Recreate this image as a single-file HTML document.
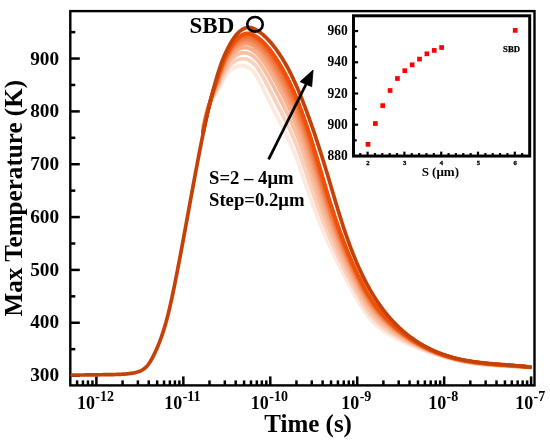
<!DOCTYPE html>
<html><head><meta charset="utf-8"><style>
html,body{margin:0;padding:0;background:#fff;}
body{width:550px;height:442px;overflow:hidden;}
svg{display:block;font-family:"Liberation Serif","Times New Roman",serif;font-weight:bold;}
</style></head><body>
<svg width="550" height="442" viewBox="0 0 550 442">
<rect width="550" height="442" fill="#fff"/>
<g stroke="#000" stroke-width="2.5">
<line x1="70.3" y1="375.59" x2="79.8" y2="375.59"/>
<line x1="70.3" y1="349.17" x2="75.3" y2="349.17"/>
<line x1="70.3" y1="322.75" x2="79.8" y2="322.75"/>
<line x1="70.3" y1="296.33" x2="75.3" y2="296.33"/>
<line x1="70.3" y1="269.91" x2="79.8" y2="269.91"/>
<line x1="70.3" y1="243.49" x2="75.3" y2="243.49"/>
<line x1="70.3" y1="217.07" x2="79.8" y2="217.07"/>
<line x1="70.3" y1="190.65" x2="75.3" y2="190.65"/>
<line x1="70.3" y1="164.23" x2="79.8" y2="164.23"/>
<line x1="70.3" y1="137.81" x2="75.3" y2="137.81"/>
<line x1="70.3" y1="111.39" x2="79.8" y2="111.39"/>
<line x1="70.3" y1="84.97" x2="75.3" y2="84.97"/>
<line x1="70.3" y1="58.55" x2="79.8" y2="58.55"/>
<line x1="70.3" y1="32.13" x2="75.3" y2="32.13"/>
<line x1="77.11" y1="385.4" x2="77.11" y2="380.4"/>
<line x1="82.93" y1="385.4" x2="82.93" y2="380.4"/>
<line x1="87.97" y1="385.4" x2="87.97" y2="380.4"/>
<line x1="92.42" y1="385.4" x2="92.42" y2="380.4"/>
<line x1="96.40" y1="385.4" x2="96.40" y2="376.4"/>
<line x1="122.57" y1="385.4" x2="122.57" y2="380.4"/>
<line x1="137.88" y1="385.4" x2="137.88" y2="380.4"/>
<line x1="148.74" y1="385.4" x2="148.74" y2="380.4"/>
<line x1="157.17" y1="385.4" x2="157.17" y2="380.4"/>
<line x1="164.05" y1="385.4" x2="164.05" y2="380.4"/>
<line x1="169.87" y1="385.4" x2="169.87" y2="380.4"/>
<line x1="174.91" y1="385.4" x2="174.91" y2="380.4"/>
<line x1="179.36" y1="385.4" x2="179.36" y2="380.4"/>
<line x1="183.34" y1="385.4" x2="183.34" y2="376.4"/>
<line x1="209.51" y1="385.4" x2="209.51" y2="380.4"/>
<line x1="224.82" y1="385.4" x2="224.82" y2="380.4"/>
<line x1="235.68" y1="385.4" x2="235.68" y2="380.4"/>
<line x1="244.11" y1="385.4" x2="244.11" y2="380.4"/>
<line x1="250.99" y1="385.4" x2="250.99" y2="380.4"/>
<line x1="256.81" y1="385.4" x2="256.81" y2="380.4"/>
<line x1="261.85" y1="385.4" x2="261.85" y2="380.4"/>
<line x1="266.30" y1="385.4" x2="266.30" y2="380.4"/>
<line x1="270.28" y1="385.4" x2="270.28" y2="376.4"/>
<line x1="296.45" y1="385.4" x2="296.45" y2="380.4"/>
<line x1="311.76" y1="385.4" x2="311.76" y2="380.4"/>
<line x1="322.62" y1="385.4" x2="322.62" y2="380.4"/>
<line x1="331.05" y1="385.4" x2="331.05" y2="380.4"/>
<line x1="337.93" y1="385.4" x2="337.93" y2="380.4"/>
<line x1="343.75" y1="385.4" x2="343.75" y2="380.4"/>
<line x1="348.79" y1="385.4" x2="348.79" y2="380.4"/>
<line x1="353.24" y1="385.4" x2="353.24" y2="380.4"/>
<line x1="357.22" y1="385.4" x2="357.22" y2="376.4"/>
<line x1="383.39" y1="385.4" x2="383.39" y2="380.4"/>
<line x1="398.70" y1="385.4" x2="398.70" y2="380.4"/>
<line x1="409.56" y1="385.4" x2="409.56" y2="380.4"/>
<line x1="417.99" y1="385.4" x2="417.99" y2="380.4"/>
<line x1="424.87" y1="385.4" x2="424.87" y2="380.4"/>
<line x1="430.69" y1="385.4" x2="430.69" y2="380.4"/>
<line x1="435.73" y1="385.4" x2="435.73" y2="380.4"/>
<line x1="440.18" y1="385.4" x2="440.18" y2="380.4"/>
<line x1="444.16" y1="385.4" x2="444.16" y2="376.4"/>
<line x1="470.33" y1="385.4" x2="470.33" y2="380.4"/>
<line x1="485.64" y1="385.4" x2="485.64" y2="380.4"/>
<line x1="496.50" y1="385.4" x2="496.50" y2="380.4"/>
<line x1="504.93" y1="385.4" x2="504.93" y2="380.4"/>
<line x1="511.81" y1="385.4" x2="511.81" y2="380.4"/>
<line x1="517.63" y1="385.4" x2="517.63" y2="380.4"/>
<line x1="522.67" y1="385.4" x2="522.67" y2="380.4"/>
<line x1="527.12" y1="385.4" x2="527.12" y2="380.4"/>
<line x1="531.10" y1="385.4" x2="531.10" y2="376.4"/>
</g>
<rect x="70.3" y="11.1" width="464.2" height="374.29999999999995" fill="none" stroke="#000" stroke-width="2.4"/>
<g fill="none" stroke-width="3.7" stroke-linejoin="round" stroke-linecap="round">
<path d="M203.00 125.86 L203.05 125.58 L203.10 125.29 L203.15 125.01 L203.20 124.72 L203.25 124.44 L203.30 124.16 L203.36 123.87 L203.41 123.59 L203.47 123.30 L203.52 123.02 L203.58 122.74 L203.63 122.45 L203.69 122.17 L203.75 121.89 L203.81 121.60 L203.87 121.32 L203.93 121.04 L203.99 120.76 L204.05 120.47 L204.11 120.19 L204.18 119.91 L204.24 119.63 L204.31 119.35 L204.37 119.06 L204.44 118.78 L204.51 118.50 L204.57 118.22 L204.64 117.94 L204.72 117.66 L204.79 117.38 L204.86 117.10 L204.93 116.82 L205.01 116.54 L205.08 116.26 L205.16 115.98 L205.24 115.71 L205.31 115.43 L205.39 115.15 L205.47 114.87 L205.56 114.59 L205.64 114.32 L205.72 114.04 L205.81 113.76 L205.89 113.49 L205.98 113.21 L206.07 112.94 L206.16 112.66 L206.25 112.39 L206.34 112.11 L206.43 111.84 L206.52 111.57 L206.62 111.29 L206.71 111.02 L206.81 110.75 L206.91 110.48 L207.01 110.20 L207.11 109.93 L207.21 109.66 L207.31 109.39 L207.42 109.12 L207.52 108.85 L207.63 108.59 L207.74 108.32 L207.85 108.05 L207.96 107.78 L208.07 107.52 L208.19 107.25 L208.30 106.99 L208.42 106.72 L208.53 106.46 L208.65 106.19 L208.77 105.93 L208.89 105.67 L209.02 105.41 L209.14 105.15 L209.27 104.89 L209.39 104.63 L209.52 104.37 L209.65 104.11 L209.78 103.85 L209.91 103.59 L210.05 103.34 L210.18 103.08 L210.32 102.83 L210.46 102.57 L210.60 102.32 L210.74 102.07 L210.88 101.82 L211.02 101.57 L211.17 101.32 L211.31 101.07 L211.46 100.82 L211.61 100.57 L211.76 100.32 L211.91 100.08 L212.07 99.83 L212.22 99.59 L212.38 99.35 L212.54 99.10 L212.69 98.86 L212.85 98.62 L213.01 98.38 L213.17 98.14 L213.33 97.90 L213.50 97.66 L213.66 97.42 L213.82 97.18 L213.98 96.94 L214.15 96.70 L214.31 96.46 L214.47 96.23 L214.64 95.99 L214.80 95.75 L214.97 95.51 L215.13 95.27 L215.29 95.03 L215.45 94.80 L215.62 94.56 L215.78 94.32 L215.94 94.08 L216.10 93.84 L216.26 93.60 L216.42 93.36 L216.58 93.11 L216.74 92.87 L216.89 92.63 L217.05 92.39 L217.20 92.14 L217.36 91.90 L217.51 91.65 L217.66 91.40 L217.81 91.16 L217.96 90.91 L218.10 90.66 L218.25 90.41 L218.39 90.16 L218.53 89.90 L218.67 89.65 L218.81 89.40 L218.94 89.14 L219.08 88.89 L219.21 88.63 L219.35 88.37 L219.48 88.12 L219.61 87.86 L219.74 87.60 L219.87 87.34 L220.00 87.08 L220.13 86.82 L220.25 86.57 L220.38 86.31 L220.51 86.04 L220.63 85.78 L220.76 85.52 L220.88 85.26 L221.00 85.00 L221.13 84.74 L221.25 84.48 L221.38 84.22 L221.50 83.96 L221.62 83.70 L221.75 83.43 L221.87 83.17 L221.99 82.91 L222.12 82.65 L222.24 82.39 L222.37 82.13 L222.49 81.87 L222.62 81.61 L222.74 81.35 L222.87 81.09 L223.00 80.83 L223.12 80.57 L223.25 80.31 L223.38 80.05 L223.51 79.79 L223.64 79.54 L223.78 79.28 L223.91 79.02 L224.05 78.77 L224.18 78.51 L224.32 78.26 L224.46 78.01 L224.60 77.75 L224.74 77.50 L224.89 77.25 L225.03 77.00 L225.18 76.75 L225.33 76.50 L225.48 76.26 L225.63 76.01 L225.78 75.77 L225.94 75.52 L226.10 75.28 L226.26 75.04 L226.42 74.80 L226.59 74.57 L226.76 74.33 L226.93 74.10 L227.10 73.87 L227.27 73.64 L227.45 73.41 L227.63 73.18 L227.81 72.96 L228.00 72.73 L228.19 72.51 L228.38 72.30 L228.57 72.08 L228.76 71.87 L228.96 71.66 L229.16 71.45 L229.37 71.25 L229.57 71.04 L229.78 70.84 L229.99 70.65 L230.21 70.45 L230.42 70.26 L230.64 70.07 L230.86 69.89 L231.09 69.70 L231.31 69.52 L231.54 69.35 L231.77 69.17 L232.01 69.00 L232.24 68.83 L232.48 68.67 L232.72 68.51 L232.96 68.35 L233.21 68.20 L233.45 68.05 L233.70 67.90 L233.96 67.76 L234.21 67.62 L234.46 67.49 L234.72 67.35 L234.98 67.23 L235.24 67.10 L235.51 66.99 L235.77 66.87 L236.04 66.76 L236.31 66.66 L236.58 66.56 L236.85 66.46 L237.13 66.37 L237.40 66.29 L237.68 66.21 L237.96 66.13 L238.24 66.06 L238.52 66.00 L238.81 65.94 L239.09 65.89 L239.38 65.84 L239.66 65.80 L239.95 65.76 L240.24 65.74 L240.52 65.71 L240.81 65.70 L241.10 65.69 L241.39 65.68 L242.28 65.71 L243.16 65.79 L244.03 65.93 L244.89 66.13 L245.74 66.37 L246.58 66.67 L247.39 67.01 L248.19 67.41 L248.96 67.84 L249.70 68.32 L250.42 68.84 L251.10 69.40 L251.76 70.00 L252.38 70.62 L252.99 71.27 L253.56 71.94 L254.12 72.63 L254.65 73.34 L255.16 74.06 L255.65 74.80 L256.13 75.54 L256.60 76.29 L257.05 77.05 L257.49 77.82 L257.92 78.60 L258.35 79.37 L258.76 80.15 L259.18 80.93 L259.59 81.72 L260.00 82.50 L260.40 83.29 L260.80 84.08 L261.20 84.87 L261.59 85.66 L261.98 86.46 L262.37 87.25 L262.76 88.05 L263.15 88.85 L263.53 89.64 L263.91 90.44 L264.29 91.24 L264.67 92.04 L265.05 92.84 L265.43 93.64 L265.81 94.44 L266.19 95.24 L266.57 96.04 L266.95 96.84 L267.34 97.63 L267.72 98.43 L268.10 99.23 L268.49 100.02 L268.88 100.82 L269.27 101.61 L269.67 102.40 L270.06 103.20 L270.46 103.99 L270.86 104.78 L271.26 105.57 L271.66 106.36 L272.06 107.15 L272.46 107.93 L272.87 108.72 L273.27 109.51 L273.68 110.29 L274.08 111.08 L274.49 111.87 L274.90 112.65 L275.31 113.44 L275.72 114.22 L276.13 115.01 L276.54 115.79 L276.94 116.58 L277.35 117.36 L277.76 118.15 L278.17 118.93 L278.58 119.72 L278.99 120.50 L279.40 121.29 L279.81 122.07 L280.22 122.86 L280.62 123.64 L281.03 124.43 L281.44 125.21 L281.84 126.00 L282.25 126.79 L282.65 127.58 L283.05 128.37 L283.45 129.15 L283.85 129.94 L284.25 130.73 L284.65 131.52 L285.05 132.32 L285.44 133.11 L285.83 133.90 L286.22 134.70 L286.61 135.49 L287.00 136.29 L287.39 137.08 L287.77 137.88 L288.15 138.68 L288.53 139.48 L288.91 140.28 L289.28 141.08 L289.66 141.88 L290.03 142.69 L290.39 143.49 L290.76 144.30 L291.12 145.11 L291.48 145.92 L291.83 146.73 L292.19 147.54 L292.54 148.35 L292.88 149.17 L293.23 149.98 L293.56 150.80 L293.90 151.62 L294.23 152.44 L294.56 153.26 L294.89 154.08 L295.21 154.91 L295.53 155.73 L295.85 156.56 L296.16 157.39 L296.47 158.22 L296.78 159.05 L297.09 159.88 L297.39 160.71 L297.69 161.54 L297.99 162.37 L298.29 163.21 L298.58 164.04 L298.88 164.88 L299.17 165.71 L299.46 166.55 L299.75 167.38 L300.04 168.22 L300.33 169.06 L300.61 169.89 L300.90 170.73 L301.18 171.57 L301.46 172.41 L301.75 173.25 L302.03 174.09 L302.31 174.93 L302.60 175.76 L302.88 176.60 L303.16 177.44 L303.44 178.28 L303.73 179.12 L304.01 179.96 L304.29 180.80 L304.58 181.63 L304.87 182.47 L305.15 183.31 L305.44 184.15 L305.73 184.98 L306.01 185.82 L306.30 186.66 L306.59 187.49 L306.88 188.33 L307.17 189.16 L307.47 190.00 L307.76 190.84 L308.05 191.67 L308.35 192.51 L308.64 193.34 L308.94 194.17 L309.23 195.01 L309.53 195.84 L309.83 196.67 L310.13 197.51 L310.43 198.34 L310.73 199.17 L311.03 200.00 L311.33 200.84 L311.64 201.67 L311.94 202.50 L312.25 203.33 L312.55 204.16 L312.86 204.99 L313.17 205.82 L313.48 206.65 L313.79 207.48 L314.10 208.31 L314.41 209.14 L314.72 209.96 L315.04 210.79 L315.35 211.62 L315.67 212.44 L315.99 213.27 L316.31 214.10 L316.62 214.92 L316.94 215.75 L317.27 216.57 L317.59 217.40 L317.91 218.22 L318.24 219.04 L318.56 219.87 L318.89 220.69 L319.22 221.51 L319.55 222.33 L319.88 223.15 L320.21 223.97 L320.54 224.79 L320.88 225.61 L321.21 226.43 L321.55 227.25 L321.89 228.07 L322.22 228.89 L322.56 229.70 L322.91 230.52 L323.25 231.34 L323.59 232.15 L323.94 232.97 L324.28 233.78 L324.63 234.60 L324.98 235.41 L325.33 236.22 L325.68 237.04 L326.03 237.85 L326.39 238.66 L326.74 239.47 L327.10 240.28 L327.46 241.09 L327.82 241.90 L328.18 242.71 L328.54 243.51 L328.90 244.32 L329.26 245.13 L329.63 245.94 L329.99 246.74 L330.36 247.55 L330.73 248.35 L331.10 249.16 L331.47 249.96 L331.84 250.76 L332.21 251.57 L332.59 252.37 L332.96 253.17 L333.34 253.97 L333.72 254.77 L334.10 255.57 L334.48 256.37 L334.86 257.17 L335.24 257.97 L335.62 258.76 L336.01 259.56 L336.40 260.36 L336.78 261.15 L337.17 261.95 L337.56 262.74 L337.95 263.54 L338.34 264.33 L338.73 265.13 L339.13 265.92 L339.52 266.71 L339.92 267.50 L340.32 268.29 L340.71 269.08 L341.11 269.87 L341.51 270.66 L341.92 271.45 L342.32 272.24 L342.72 273.03 L343.13 273.81 L343.53 274.60 L343.94 275.39 L344.35 276.17 L344.76 276.96 L345.17 277.74 L345.58 278.52 L345.99 279.31 L346.41 280.09 L346.82 280.87 L347.24 281.65 L347.65 282.43 L348.07 283.21 L348.49 283.99 L348.91 284.77 L349.33 285.55 L349.75 286.33 L350.18 287.11 L350.60 287.88 L351.02 288.66 L351.45 289.44 L351.88 290.21 L352.31 290.99 L352.73 291.76 L353.17 292.53 L353.60 293.31 L354.03 294.08 L354.46 294.85 L354.90 295.62 L355.33 296.39 L355.77 297.16 L356.20 297.93 L356.64 298.70 L357.08 299.47 L357.52 300.24 L357.96 301.01 L358.41 301.77 L358.85 302.54 L359.30 303.30 L359.74 304.07 L360.19 304.83 L360.65 305.59 L361.11 306.34 L361.57 307.10 L362.03 307.85 L362.50 308.60 L362.98 309.35 L363.45 310.10 L363.94 310.84 L364.43 311.57 L364.93 312.31 L365.43 313.03 L365.94 313.76 L366.46 314.48 L366.98 315.19 L367.51 315.90 L368.05 316.60 L368.60 317.29 L369.16 317.98 L369.72 318.66 L370.30 319.33 L370.89 320.00 L371.48 320.65 L372.08 321.30 L372.70 321.94 L373.32 322.57 L373.95 323.19 L374.59 323.80 L375.24 324.40 L375.89 325.00 L376.55 325.59 L377.22 326.17 L377.90 326.74 L378.58 327.30 L379.27 327.85 L379.97 328.40 L380.67 328.94 L381.38 329.47 L382.09 329.99 L382.81 330.51 L383.53 331.02 L384.26 331.52 L385.00 332.01 L385.74 332.50 L386.48 332.98 L387.23 333.46 L387.98 333.92 L388.73 334.39 L389.49 334.84 L390.26 335.29 L391.02 335.73 L391.79 336.17 L392.56 336.60 L393.34 337.03 L394.12 337.45 L394.90 337.87 L395.68 338.28 L396.47 338.69 L397.26 339.09 L398.05 339.49 L398.84 339.88 L399.64 340.27 L400.43 340.65 L401.23 341.03 L402.03 341.41 L402.83 341.79 L403.64 342.16 L404.44 342.52 L405.25 342.89 L406.06 343.25 L406.87 343.61 L407.68 343.96 L408.49 344.31 L409.30 344.66 L410.12 345.01 L410.93 345.36 L411.75 345.70 L412.56 346.04 L413.38 346.38 L414.20 346.72 L415.02 347.06 L415.84 347.39 L416.66 347.72 L417.48 348.05 L418.30 348.37 L419.13 348.70 L419.95 349.02 L420.78 349.34 L421.61 349.65 L422.43 349.97 L423.26 350.28 L424.09 350.59 L424.92 350.89 L425.75 351.20 L426.59 351.50 L427.42 351.79 L428.25 352.09 L429.09 352.38 L429.92 352.67 L430.76 352.96 L431.60 353.25 L432.44 353.53 L433.28 353.81 L434.12 354.09 L434.96 354.36 L435.80 354.63 L436.64 354.90 L437.49 355.17 L438.33 355.43 L439.18 355.69 L440.03 355.95 L440.87 356.20 L441.72 356.46 L442.57 356.71 L443.42 356.95 L444.27 357.19 L445.13 357.43 L445.98 357.67 L446.83 357.90 L447.69 358.13 L448.54 358.36 L449.40 358.59 L450.26 358.81 L451.11 359.02 L451.97 359.24 L452.83 359.45 L453.69 359.66 L454.55 359.86 L455.41 360.06 L456.28 360.26 L457.14 360.46 L458.00 360.65 L458.87 360.84 L459.74 361.02 L460.60 361.20 L461.47 361.38 L462.34 361.56 L463.20 361.73 L464.07 361.89 L464.94 362.06 L465.81 362.22 L466.69 362.38 L467.56 362.53 L468.43 362.68 L469.30 362.82 L470.18 362.97 L471.05 363.10 L471.92 363.24 L472.80 363.37 L473.68 363.50 L474.55 363.62 L475.43 363.74 L476.31 363.86 L477.18 363.98 L478.06 364.09 L478.94 364.20 L479.82 364.30 L480.70 364.40 L481.58 364.50 L482.46 364.60 L483.34 364.69 L484.22 364.78 L485.10 364.87 L485.98 364.96 L486.86 365.04 L487.74 365.12 L488.62 365.20 L489.51 365.28 L490.39 365.35 L491.27 365.42 L492.15 365.49 L493.03 365.56 L493.92 365.63 L494.80 365.69 L495.68 365.75 L496.57 365.81 L497.45 365.87 L498.33 365.93 L499.22 365.99 L500.10 366.04 L500.98 366.09 L501.87 366.14 L502.75 366.19 L503.63 366.24 L504.52 366.29 L505.40 366.34 L506.29 366.38 L507.17 366.43 L508.05 366.47 L508.94 366.52 L509.82 366.56 L510.71 366.60 L511.59 366.64 L512.47 366.68 L513.36 366.73 L514.24 366.77 L515.13 366.81 L516.01 366.84 L516.89 366.88 L517.78 366.92 L518.66 366.96 L519.55 367.00 L520.43 367.04 L521.32 367.08 L522.20 367.12 L523.08 367.16 L523.97 367.20 L524.85 367.24 L525.74 367.28 L526.62 367.33 L527.50 367.37 L528.39 367.41 L529.27 367.45 L530.16 367.50" stroke="rgb(253, 233, 222)" />
<path d="M203.00 127.38 L203.06 127.06 L203.12 126.75 L203.18 126.43 L203.24 126.12 L203.30 125.80 L203.36 125.49 L203.42 125.17 L203.48 124.85 L203.54 124.54 L203.60 124.22 L203.66 123.91 L203.73 123.59 L203.79 123.28 L203.86 122.96 L203.92 122.65 L203.99 122.34 L204.06 122.02 L204.12 121.71 L204.19 121.39 L204.26 121.08 L204.33 120.77 L204.40 120.45 L204.47 120.14 L204.54 119.83 L204.62 119.51 L204.69 119.20 L204.76 118.89 L204.84 118.57 L204.91 118.26 L204.99 117.95 L205.07 117.64 L205.15 117.33 L205.23 117.02 L205.31 116.70 L205.39 116.39 L205.47 116.08 L205.55 115.77 L205.63 115.46 L205.72 115.15 L205.80 114.84 L205.89 114.53 L205.98 114.22 L206.06 113.92 L206.15 113.61 L206.24 113.30 L206.33 112.99 L206.42 112.68 L206.52 112.38 L206.61 112.07 L206.71 111.76 L206.80 111.45 L206.90 111.15 L206.99 110.84 L207.09 110.54 L207.19 110.23 L207.29 109.93 L207.40 109.62 L207.50 109.32 L207.60 109.02 L207.71 108.71 L207.81 108.41 L207.92 108.11 L208.03 107.81 L208.14 107.51 L208.25 107.20 L208.36 106.90 L208.47 106.60 L208.59 106.30 L208.70 106.01 L208.82 105.71 L208.93 105.41 L209.05 105.11 L209.17 104.81 L209.29 104.52 L209.41 104.22 L209.54 103.93 L209.66 103.63 L209.79 103.34 L209.91 103.04 L210.04 102.75 L210.17 102.46 L210.30 102.17 L210.43 101.88 L210.57 101.58 L210.70 101.29 L210.83 101.01 L210.97 100.72 L211.11 100.43 L211.25 100.14 L211.39 99.85 L211.53 99.57 L211.67 99.28 L211.81 99.00 L211.96 98.71 L212.10 98.43 L212.25 98.15 L212.40 97.87 L212.55 97.59 L212.70 97.31 L212.85 97.03 L213.00 96.75 L213.16 96.47 L213.31 96.19 L213.46 95.91 L213.62 95.63 L213.77 95.36 L213.93 95.08 L214.08 94.80 L214.24 94.52 L214.40 94.25 L214.55 93.97 L214.71 93.69 L214.87 93.42 L215.02 93.14 L215.18 92.86 L215.34 92.59 L215.49 92.31 L215.65 92.03 L215.81 91.76 L215.96 91.48 L216.12 91.20 L216.27 90.92 L216.42 90.64 L216.58 90.36 L216.73 90.08 L216.88 89.80 L217.03 89.52 L217.19 89.24 L217.33 88.96 L217.48 88.68 L217.63 88.39 L217.78 88.11 L217.92 87.83 L218.07 87.54 L218.21 87.25 L218.35 86.97 L218.49 86.68 L218.63 86.39 L218.77 86.10 L218.91 85.82 L219.05 85.53 L219.18 85.24 L219.32 84.95 L219.45 84.65 L219.58 84.36 L219.72 84.07 L219.85 83.78 L219.98 83.49 L220.12 83.19 L220.25 82.90 L220.38 82.61 L220.51 82.32 L220.64 82.02 L220.77 81.73 L220.90 81.44 L221.03 81.14 L221.16 80.85 L221.29 80.56 L221.42 80.26 L221.55 79.97 L221.68 79.68 L221.81 79.38 L221.94 79.09 L222.08 78.80 L222.21 78.50 L222.34 78.21 L222.47 77.92 L222.61 77.63 L222.74 77.34 L222.88 77.04 L223.01 76.75 L223.15 76.46 L223.29 76.17 L223.43 75.88 L223.57 75.59 L223.71 75.30 L223.85 75.02 L223.99 74.73 L224.13 74.44 L224.28 74.16 L224.43 73.87 L224.57 73.58 L224.72 73.30 L224.87 73.02 L225.03 72.73 L225.18 72.45 L225.34 72.17 L225.49 71.89 L225.65 71.61 L225.81 71.33 L225.98 71.06 L226.14 70.78 L226.31 70.51 L226.48 70.24 L226.65 69.96 L226.82 69.69 L227.00 69.42 L227.17 69.16 L227.35 68.89 L227.54 68.63 L227.72 68.36 L227.91 68.10 L228.10 67.85 L228.29 67.59 L228.48 67.33 L228.68 67.08 L228.88 66.83 L229.08 66.58 L229.28 66.33 L229.49 66.09 L229.70 65.85 L229.91 65.61 L230.12 65.37 L230.34 65.14 L230.56 64.90 L230.78 64.67 L231.01 64.45 L231.24 64.22 L231.47 64.00 L231.70 63.78 L231.93 63.57 L232.17 63.36 L232.41 63.15 L232.66 62.94 L232.90 62.74 L233.15 62.54 L233.40 62.34 L233.66 62.15 L233.91 61.96 L234.17 61.78 L234.44 61.59 L234.70 61.42 L234.97 61.24 L235.24 61.08 L235.51 60.91 L235.79 60.75 L236.07 60.60 L236.35 60.45 L236.63 60.30 L236.92 60.16 L237.21 60.02 L237.50 59.90 L237.80 59.77 L238.09 59.65 L238.39 59.54 L238.70 59.44 L239.00 59.34 L239.31 59.24 L239.62 59.16 L239.93 59.08 L240.24 59.01 L240.55 58.94 L240.87 58.89 L241.19 58.84 L241.50 58.80 L241.82 58.77 L242.14 58.74 L242.46 58.73 L242.79 58.73 L243.68 58.76 L244.57 58.85 L245.45 59.01 L246.31 59.22 L247.16 59.49 L248.00 59.80 L248.82 60.16 L249.61 60.57 L250.39 61.01 L251.14 61.49 L251.86 62.01 L252.56 62.57 L253.24 63.15 L253.89 63.76 L254.52 64.39 L255.12 65.05 L255.70 65.72 L256.27 66.41 L256.81 67.11 L257.34 67.83 L257.86 68.55 L258.36 69.29 L258.85 70.03 L259.33 70.78 L259.80 71.53 L260.26 72.29 L260.71 73.05 L261.17 73.82 L261.61 74.59 L262.06 75.36 L262.49 76.14 L262.93 76.91 L263.36 77.69 L263.79 78.47 L264.21 79.26 L264.63 80.04 L265.05 80.83 L265.47 81.61 L265.88 82.40 L266.29 83.19 L266.70 83.99 L267.11 84.78 L267.52 85.57 L267.92 86.36 L268.33 87.16 L268.73 87.95 L269.14 88.75 L269.54 89.55 L269.94 90.34 L270.35 91.14 L270.75 91.93 L271.16 92.73 L271.56 93.52 L271.97 94.32 L272.38 95.11 L272.79 95.90 L273.20 96.70 L273.61 97.49 L274.02 98.29 L274.43 99.08 L274.84 99.87 L275.25 100.67 L275.66 101.46 L276.07 102.25 L276.48 103.05 L276.89 103.84 L277.30 104.63 L277.71 105.43 L278.12 106.22 L278.53 107.01 L278.94 107.81 L279.35 108.60 L279.76 109.40 L280.16 110.19 L280.57 110.98 L280.98 111.78 L281.38 112.58 L281.79 113.37 L282.19 114.17 L282.60 114.96 L283.00 115.76 L283.40 116.56 L283.80 117.36 L284.20 118.15 L284.60 118.95 L285.00 119.75 L285.40 120.55 L285.79 121.35 L286.18 122.16 L286.57 122.97 L286.96 123.78 L287.35 124.59 L287.73 125.40 L288.12 126.21 L288.50 127.03 L288.88 127.84 L289.26 128.66 L289.64 129.47 L290.01 130.29 L290.38 131.10 L290.76 131.92 L291.12 132.74 L291.49 133.56 L291.86 134.38 L292.22 135.20 L292.58 136.02 L292.94 136.85 L293.29 137.67 L293.65 138.50 L294.00 139.33 L294.35 140.15 L294.69 140.98 L295.03 141.81 L295.37 142.65 L295.71 143.48 L296.04 144.31 L296.37 145.15 L296.70 145.99 L297.03 146.82 L297.35 147.66 L297.67 148.50 L297.98 149.34 L298.29 150.19 L298.61 151.03 L298.91 151.87 L299.22 152.72 L299.52 153.56 L299.83 154.41 L300.13 155.26 L300.42 156.10 L300.72 156.95 L301.01 157.80 L301.31 158.65 L301.60 159.50 L301.89 160.35 L302.18 161.20 L302.46 162.05 L302.75 162.90 L303.04 163.76 L303.32 164.61 L303.60 165.46 L303.89 166.31 L304.17 167.17 L304.45 168.02 L304.73 168.87 L305.01 169.73 L305.30 170.58 L305.58 171.43 L305.86 172.29 L306.14 173.14 L306.42 173.99 L306.70 174.84 L306.99 175.70 L307.27 176.55 L307.55 177.40 L307.83 178.25 L308.12 179.11 L308.40 179.96 L308.69 180.81 L308.97 181.66 L309.26 182.51 L309.55 183.36 L309.83 184.21 L310.12 185.06 L310.41 185.91 L310.70 186.76 L310.99 187.61 L311.28 188.46 L311.57 189.31 L311.86 190.16 L312.15 191.01 L312.44 191.86 L312.74 192.71 L313.03 193.56 L313.32 194.41 L313.62 195.25 L313.91 196.10 L314.21 196.95 L314.51 197.79 L314.80 198.64 L315.10 199.49 L315.40 200.33 L315.70 201.18 L316.00 202.02 L316.30 202.87 L316.61 203.71 L316.91 204.56 L317.21 205.40 L317.52 206.25 L317.82 207.09 L318.13 207.93 L318.44 208.78 L318.74 209.62 L319.05 210.46 L319.36 211.30 L319.67 212.14 L319.98 212.99 L320.30 213.83 L320.61 214.67 L320.93 215.51 L321.24 216.35 L321.56 217.18 L321.88 218.02 L322.20 218.85 L322.52 219.68 L322.84 220.51 L323.17 221.34 L323.49 222.18 L323.82 223.00 L324.14 223.83 L324.47 224.66 L324.80 225.49 L325.13 226.32 L325.46 227.15 L325.79 227.97 L326.13 228.80 L326.46 229.63 L326.80 230.45 L327.14 231.28 L327.47 232.10 L327.81 232.93 L328.15 233.75 L328.50 234.58 L328.84 235.40 L329.18 236.22 L329.53 237.04 L329.87 237.86 L330.22 238.68 L330.57 239.51 L330.92 240.33 L331.27 241.14 L331.62 241.96 L331.97 242.78 L332.33 243.60 L332.68 244.42 L333.04 245.23 L333.40 246.05 L333.76 246.87 L334.12 247.68 L334.48 248.50 L334.84 249.31 L335.20 250.12 L335.57 250.94 L335.93 251.75 L336.30 252.56 L336.67 253.37 L337.04 254.19 L337.41 255.00 L337.78 255.81 L338.15 256.62 L338.53 257.42 L338.90 258.23 L339.28 259.04 L339.66 259.85 L340.04 260.66 L340.42 261.46 L340.80 262.27 L341.18 263.07 L341.57 263.88 L341.95 264.68 L342.34 265.48 L342.72 266.28 L343.11 267.08 L343.50 267.88 L343.90 268.68 L344.29 269.48 L344.68 270.28 L345.08 271.08 L345.47 271.88 L345.87 272.67 L346.27 273.47 L346.67 274.27 L347.07 275.06 L347.47 275.86 L347.88 276.65 L348.28 277.44 L348.69 278.24 L349.09 279.03 L349.50 279.82 L349.91 280.61 L350.32 281.40 L350.73 282.19 L351.15 282.98 L351.56 283.77 L351.98 284.56 L352.40 285.34 L352.81 286.13 L353.23 286.91 L353.65 287.70 L354.08 288.48 L354.50 289.27 L354.92 290.05 L355.35 290.83 L355.78 291.62 L356.21 292.40 L356.64 293.18 L357.07 293.96 L357.50 294.74 L357.93 295.51 L358.37 296.29 L358.80 297.07 L359.24 297.85 L359.68 298.62 L360.12 299.40 L360.57 300.17 L361.01 300.94 L361.46 301.71 L361.92 302.48 L362.37 303.24 L362.83 304.00 L363.30 304.76 L363.77 305.52 L364.24 306.28 L364.72 307.03 L365.21 307.78 L365.70 308.52 L366.19 309.26 L366.70 310.00 L367.21 310.73 L367.72 311.45 L368.24 312.17 L368.78 312.89 L369.31 313.60 L369.86 314.30 L370.41 315.00 L370.98 315.69 L371.55 316.37 L372.13 317.05 L372.71 317.72 L373.31 318.38 L373.91 319.03 L374.53 319.67 L375.15 320.31 L375.77 320.94 L376.41 321.56 L377.05 322.17 L377.70 322.78 L378.35 323.38 L379.01 323.97 L379.68 324.55 L380.35 325.13 L381.03 325.70 L381.72 326.27 L382.41 326.82 L383.10 327.37 L383.80 327.92 L384.51 328.45 L385.22 328.98 L385.93 329.51 L386.65 330.02 L387.37 330.54 L388.10 331.04 L388.83 331.54 L389.56 332.04 L390.30 332.53 L391.04 333.01 L391.79 333.49 L392.53 333.96 L393.29 334.43 L394.04 334.89 L394.80 335.35 L395.56 335.80 L396.32 336.25 L397.09 336.69 L397.86 337.13 L398.63 337.56 L399.40 338.00 L400.18 338.42 L400.96 338.84 L401.74 339.26 L402.52 339.68 L403.31 340.09 L404.09 340.50 L404.88 340.90 L405.67 341.30 L406.46 341.70 L407.26 342.09 L408.05 342.49 L408.85 342.88 L409.65 343.26 L410.45 343.64 L411.25 344.03 L412.06 344.40 L412.86 344.78 L413.67 345.15 L414.47 345.52 L415.28 345.89 L416.09 346.25 L416.91 346.61 L417.72 346.97 L418.53 347.33 L419.35 347.68 L420.17 348.03 L420.99 348.37 L421.81 348.72 L422.63 349.06 L423.45 349.40 L424.28 349.73 L425.10 350.06 L425.93 350.39 L426.76 350.72 L427.59 351.04 L428.42 351.36 L429.25 351.67 L430.09 351.98 L430.92 352.29 L431.76 352.60 L432.60 352.90 L433.44 353.20 L434.28 353.50 L435.12 353.79 L435.96 354.08 L436.80 354.37 L437.65 354.65 L438.50 354.93 L439.34 355.21 L440.19 355.48 L441.04 355.75 L441.89 356.02 L442.75 356.28 L443.60 356.54 L444.45 356.79 L445.31 357.04 L446.17 357.29 L447.03 357.53 L447.88 357.77 L448.74 358.01 L449.61 358.24 L450.47 358.47 L451.33 358.70 L452.20 358.92 L453.06 359.14 L453.93 359.35 L454.79 359.56 L455.66 359.77 L456.53 359.97 L457.40 360.17 L458.27 360.37 L459.14 360.56 L460.02 360.75 L460.89 360.93 L461.77 361.11 L462.64 361.29 L463.52 361.46 L464.39 361.63 L465.27 361.79 L466.15 361.95 L467.03 362.11 L467.91 362.26 L468.79 362.41 L469.67 362.56 L470.55 362.70 L471.43 362.84 L472.31 362.97 L473.20 363.10 L474.08 363.23 L474.96 363.35 L475.85 363.47 L476.73 363.59 L477.62 363.70 L478.50 363.81 L479.39 363.92 L480.28 364.03 L481.16 364.13 L482.05 364.23 L482.94 364.32 L483.83 364.42 L484.72 364.51 L485.60 364.60 L486.49 364.68 L487.38 364.77 L488.27 364.85 L489.16 364.93 L490.05 365.00 L490.94 365.08 L491.83 365.15 L492.72 365.22 L493.61 365.29 L494.50 365.36 L495.39 365.42 L496.28 365.48 L497.17 365.55 L498.06 365.61 L498.95 365.67 L499.85 365.72 L500.74 365.78 L501.63 365.84 L502.52 365.89 L503.41 365.94 L504.30 365.99 L505.19 366.05 L506.08 366.10 L506.98 366.15 L507.87 366.20 L508.76 366.24 L509.65 366.29 L510.54 366.34 L511.44 366.39 L512.33 366.43 L513.22 366.48 L514.11 366.53 L515.00 366.57 L515.89 366.62 L516.79 366.67 L517.68 366.71 L518.57 366.76 L519.46 366.81 L520.35 366.85 L521.24 366.90 L522.14 366.95 L523.03 367.00 L523.92 367.05 L524.81 367.10 L525.70 367.15 L526.59 367.20 L527.49 367.26 L528.38 367.31 L529.27 367.37 L530.16 367.42" stroke="rgb(251, 209, 188)" />
<path d="M203.01 128.69 L203.07 128.35 L203.14 128.01 L203.20 127.67 L203.27 127.32 L203.33 126.98 L203.40 126.64 L203.47 126.29 L203.53 125.95 L203.60 125.61 L203.67 125.27 L203.74 124.92 L203.81 124.58 L203.88 124.24 L203.95 123.90 L204.02 123.56 L204.09 123.21 L204.17 122.87 L204.24 122.53 L204.31 122.19 L204.39 121.85 L204.46 121.51 L204.54 121.17 L204.62 120.83 L204.69 120.48 L204.77 120.14 L204.85 119.80 L204.93 119.46 L205.01 119.12 L205.09 118.78 L205.17 118.44 L205.25 118.10 L205.33 117.77 L205.41 117.43 L205.50 117.09 L205.58 116.75 L205.67 116.41 L205.75 116.07 L205.84 115.73 L205.93 115.40 L206.02 115.06 L206.11 114.72 L206.20 114.38 L206.29 114.05 L206.38 113.71 L206.47 113.37 L206.56 113.04 L206.66 112.70 L206.75 112.36 L206.85 112.03 L206.94 111.69 L207.04 111.36 L207.14 111.02 L207.24 110.69 L207.34 110.36 L207.44 110.02 L207.54 109.69 L207.64 109.36 L207.75 109.02 L207.85 108.69 L207.96 108.36 L208.06 108.03 L208.17 107.70 L208.28 107.36 L208.39 107.03 L208.50 106.70 L208.61 106.37 L208.72 106.04 L208.83 105.71 L208.95 105.39 L209.06 105.06 L209.18 104.73 L209.30 104.40 L209.41 104.08 L209.53 103.75 L209.65 103.42 L209.77 103.10 L209.90 102.77 L210.02 102.45 L210.14 102.12 L210.27 101.80 L210.39 101.48 L210.52 101.15 L210.65 100.83 L210.78 100.51 L210.91 100.19 L211.04 99.87 L211.17 99.55 L211.31 99.23 L211.44 98.91 L211.57 98.59 L211.71 98.27 L211.85 97.95 L211.99 97.64 L212.13 97.32 L212.27 97.01 L212.41 96.69 L212.55 96.38 L212.70 96.06 L212.84 95.75 L212.99 95.44 L213.13 95.13 L213.28 94.81 L213.43 94.50 L213.57 94.19 L213.72 93.88 L213.87 93.57 L214.02 93.26 L214.17 92.95 L214.32 92.64 L214.47 92.33 L214.62 92.02 L214.77 91.71 L214.92 91.40 L215.07 91.09 L215.23 90.78 L215.38 90.47 L215.53 90.16 L215.68 89.85 L215.83 89.54 L215.98 89.23 L216.13 88.92 L216.28 88.61 L216.43 88.29 L216.58 87.98 L216.73 87.67 L216.87 87.36 L217.02 87.05 L217.17 86.73 L217.32 86.42 L217.46 86.10 L217.61 85.79 L217.75 85.48 L217.89 85.16 L218.04 84.84 L218.18 84.53 L218.32 84.21 L218.46 83.89 L218.60 83.57 L218.74 83.25 L218.88 82.94 L219.02 82.62 L219.15 82.30 L219.29 81.98 L219.43 81.66 L219.56 81.34 L219.70 81.02 L219.83 80.69 L219.97 80.37 L220.11 80.05 L220.24 79.73 L220.38 79.41 L220.51 79.09 L220.65 78.77 L220.78 78.45 L220.92 78.12 L221.05 77.80 L221.19 77.48 L221.32 77.16 L221.46 76.84 L221.60 76.52 L221.73 76.20 L221.87 75.88 L222.01 75.56 L222.15 75.24 L222.29 74.92 L222.43 74.60 L222.57 74.28 L222.71 73.96 L222.85 73.64 L222.99 73.32 L223.14 73.00 L223.28 72.68 L223.43 72.37 L223.58 72.05 L223.72 71.73 L223.87 71.42 L224.02 71.10 L224.18 70.79 L224.33 70.47 L224.48 70.16 L224.64 69.85 L224.79 69.54 L224.95 69.23 L225.11 68.92 L225.27 68.61 L225.44 68.30 L225.60 67.99 L225.77 67.68 L225.94 67.38 L226.11 67.07 L226.28 66.77 L226.45 66.47 L226.63 66.17 L226.81 65.87 L226.99 65.57 L227.17 65.27 L227.35 64.97 L227.54 64.68 L227.72 64.38 L227.92 64.09 L228.11 63.80 L228.30 63.51 L228.50 63.23 L228.70 62.94 L228.90 62.66 L229.10 62.38 L229.31 62.10 L229.52 61.82 L229.73 61.54 L229.94 61.27 L230.16 61.00 L230.38 60.73 L230.60 60.46 L230.83 60.20 L231.05 59.93 L231.28 59.67 L231.52 59.42 L231.75 59.16 L231.99 58.91 L232.23 58.66 L232.47 58.41 L232.72 58.17 L232.97 57.93 L233.22 57.69 L233.48 57.46 L233.73 57.23 L234.00 57.00 L234.26 56.78 L234.53 56.56 L234.80 56.35 L235.07 56.13 L235.35 55.93 L235.63 55.72 L235.91 55.53 L236.20 55.33 L236.49 55.14 L236.78 54.96 L237.08 54.78 L237.38 54.61 L237.68 54.44 L237.99 54.28 L238.30 54.13 L238.61 53.98 L238.93 53.84 L239.25 53.70 L239.57 53.57 L239.90 53.45 L240.23 53.34 L240.56 53.24 L240.89 53.14 L241.23 53.05 L241.57 52.97 L241.91 52.90 L242.26 52.84 L242.60 52.79 L242.95 52.75 L243.30 52.73 L243.64 52.71 L243.99 52.70 L244.89 52.74 L245.79 52.84 L246.67 53.01 L247.54 53.24 L248.39 53.53 L249.23 53.86 L250.05 54.23 L250.85 54.64 L251.63 55.10 L252.38 55.58 L253.12 56.10 L253.83 56.65 L254.52 57.22 L255.19 57.82 L255.84 58.44 L256.47 59.08 L257.08 59.74 L257.67 60.41 L258.24 61.10 L258.80 61.80 L259.35 62.50 L259.88 63.22 L260.40 63.95 L260.92 64.68 L261.42 65.42 L261.91 66.16 L262.40 66.91 L262.89 67.66 L263.36 68.42 L263.84 69.18 L264.31 69.94 L264.77 70.71 L265.23 71.48 L265.69 72.25 L266.14 73.02 L266.59 73.80 L267.03 74.58 L267.48 75.36 L267.92 76.14 L268.35 76.92 L268.79 77.71 L269.22 78.49 L269.65 79.28 L270.08 80.07 L270.51 80.86 L270.93 81.65 L271.36 82.44 L271.78 83.23 L272.20 84.03 L272.62 84.82 L273.04 85.62 L273.47 86.41 L273.89 87.21 L274.31 88.00 L274.73 88.80 L275.15 89.59 L275.57 90.39 L275.99 91.18 L276.40 91.98 L276.82 92.78 L277.24 93.58 L277.66 94.37 L278.07 95.17 L278.49 95.97 L278.90 96.77 L279.32 97.57 L279.73 98.37 L280.14 99.17 L280.55 99.97 L280.97 100.77 L281.38 101.57 L281.78 102.38 L282.19 103.18 L282.60 103.98 L283.00 104.79 L283.41 105.59 L283.81 106.39 L284.21 107.20 L284.61 108.01 L285.01 108.81 L285.41 109.62 L285.81 110.43 L286.20 111.23 L286.60 112.04 L286.99 112.85 L287.38 113.66 L287.77 114.47 L288.16 115.29 L288.55 116.11 L288.93 116.93 L289.31 117.76 L289.68 118.59 L290.06 119.42 L290.43 120.25 L290.81 121.08 L291.18 121.91 L291.55 122.74 L291.92 123.57 L292.28 124.40 L292.65 125.24 L293.01 126.07 L293.37 126.91 L293.73 127.74 L294.08 128.58 L294.44 129.42 L294.79 130.26 L295.14 131.10 L295.49 131.94 L295.84 132.78 L296.18 133.62 L296.52 134.46 L296.86 135.31 L297.20 136.16 L297.53 137.00 L297.86 137.85 L298.19 138.70 L298.51 139.55 L298.84 140.40 L299.16 141.25 L299.48 142.10 L299.79 142.96 L300.10 143.81 L300.41 144.67 L300.72 145.52 L301.03 146.38 L301.33 147.24 L301.64 148.10 L301.94 148.96 L302.23 149.82 L302.53 150.68 L302.83 151.54 L303.12 152.40 L303.41 153.26 L303.70 154.12 L303.99 154.99 L304.28 155.85 L304.57 156.71 L304.85 157.58 L305.14 158.44 L305.42 159.31 L305.70 160.17 L305.98 161.04 L306.27 161.90 L306.55 162.77 L306.83 163.63 L307.11 164.50 L307.39 165.36 L307.67 166.23 L307.95 167.10 L308.23 167.96 L308.51 168.83 L308.79 169.69 L309.07 170.56 L309.35 171.42 L309.63 172.29 L309.91 173.15 L310.19 174.02 L310.47 174.88 L310.75 175.75 L311.04 176.61 L311.32 177.48 L311.60 178.34 L311.88 179.20 L312.17 180.07 L312.45 180.93 L312.73 181.79 L313.02 182.66 L313.30 183.52 L313.59 184.38 L313.87 185.25 L314.16 186.11 L314.45 186.97 L314.73 187.83 L315.02 188.70 L315.31 189.56 L315.59 190.42 L315.88 191.28 L316.17 192.14 L316.46 193.00 L316.75 193.86 L317.04 194.72 L317.33 195.58 L317.63 196.44 L317.92 197.30 L318.21 198.16 L318.51 199.02 L318.80 199.88 L319.09 200.74 L319.39 201.60 L319.69 202.46 L319.98 203.31 L320.28 204.17 L320.58 205.03 L320.88 205.89 L321.18 206.74 L321.48 207.60 L321.78 208.45 L322.08 209.31 L322.38 210.16 L322.69 211.02 L322.99 211.87 L323.30 212.73 L323.61 213.57 L323.92 214.42 L324.23 215.26 L324.54 216.10 L324.86 216.94 L325.17 217.78 L325.49 218.62 L325.80 219.46 L326.12 220.30 L326.44 221.14 L326.76 221.98 L327.08 222.81 L327.40 223.65 L327.73 224.49 L328.05 225.33 L328.37 226.16 L328.70 227.00 L329.03 227.83 L329.35 228.67 L329.68 229.50 L330.01 230.34 L330.34 231.17 L330.68 232.01 L331.01 232.84 L331.34 233.67 L331.68 234.50 L332.02 235.34 L332.35 236.17 L332.69 237.00 L333.03 237.83 L333.37 238.66 L333.71 239.49 L334.06 240.32 L334.40 241.14 L334.75 241.97 L335.09 242.80 L335.44 243.63 L335.79 244.45 L336.14 245.28 L336.49 246.10 L336.84 246.93 L337.20 247.75 L337.55 248.58 L337.91 249.40 L338.26 250.22 L338.62 251.04 L338.98 251.87 L339.34 252.69 L339.71 253.51 L340.07 254.33 L340.43 255.15 L340.80 255.97 L341.17 256.79 L341.53 257.60 L341.90 258.42 L342.27 259.24 L342.65 260.05 L343.02 260.87 L343.40 261.68 L343.77 262.49 L344.15 263.30 L344.53 264.12 L344.91 264.93 L345.29 265.73 L345.68 266.54 L346.06 267.35 L346.45 268.16 L346.83 268.97 L347.22 269.77 L347.61 270.58 L348.00 271.39 L348.39 272.19 L348.79 272.99 L349.18 273.80 L349.58 274.60 L349.98 275.40 L350.38 276.21 L350.78 277.01 L351.18 277.81 L351.58 278.61 L351.99 279.41 L352.40 280.20 L352.80 281.00 L353.21 281.80 L353.62 282.59 L354.04 283.39 L354.45 284.18 L354.86 284.98 L355.28 285.77 L355.70 286.56 L356.12 287.36 L356.54 288.15 L356.96 288.94 L357.39 289.73 L357.81 290.52 L358.24 291.30 L358.67 292.09 L359.10 292.88 L359.53 293.66 L359.97 294.45 L360.40 295.23 L360.84 296.01 L361.28 296.79 L361.72 297.57 L362.17 298.35 L362.62 299.13 L363.07 299.90 L363.53 300.67 L363.99 301.44 L364.46 302.21 L364.93 302.97 L365.40 303.73 L365.88 304.49 L366.37 305.24 L366.86 305.99 L367.35 306.74 L367.86 307.48 L368.36 308.22 L368.88 308.95 L369.40 309.68 L369.93 310.40 L370.47 311.12 L371.01 311.83 L371.56 312.54 L372.12 313.24 L372.69 313.93 L373.26 314.62 L373.84 315.29 L374.43 315.97 L375.03 316.63 L375.63 317.29 L376.24 317.94 L376.86 318.58 L377.48 319.22 L378.11 319.85 L378.75 320.47 L379.39 321.09 L380.04 321.70 L380.69 322.30 L381.35 322.90 L382.01 323.49 L382.68 324.08 L383.35 324.66 L384.03 325.23 L384.71 325.80 L385.40 326.36 L386.10 326.91 L386.79 327.46 L387.49 328.01 L388.20 328.55 L388.91 329.08 L389.62 329.61 L390.34 330.13 L391.06 330.65 L391.78 331.16 L392.51 331.67 L393.24 332.17 L393.97 332.67 L394.71 333.16 L395.45 333.65 L396.20 334.14 L396.94 334.62 L397.69 335.09 L398.45 335.56 L399.20 336.03 L399.96 336.49 L400.72 336.95 L401.48 337.40 L402.25 337.85 L403.02 338.30 L403.79 338.74 L404.56 339.18 L405.34 339.62 L406.11 340.05 L406.89 340.48 L407.68 340.90 L408.46 341.33 L409.25 341.74 L410.03 342.16 L410.82 342.57 L411.62 342.98 L412.41 343.39 L413.21 343.79 L414.00 344.19 L414.80 344.59 L415.60 344.98 L416.41 345.37 L417.21 345.76 L418.02 346.14 L418.83 346.52 L419.64 346.90 L420.45 347.27 L421.27 347.64 L422.08 348.00 L422.90 348.37 L423.72 348.72 L424.54 349.08 L425.36 349.43 L426.19 349.78 L427.02 350.13 L427.84 350.47 L428.67 350.80 L429.50 351.14 L430.34 351.47 L431.17 351.79 L432.01 352.12 L432.85 352.44 L433.69 352.75 L434.53 353.06 L435.37 353.37 L436.21 353.68 L437.06 353.98 L437.90 354.27 L438.75 354.56 L439.60 354.85 L440.45 355.14 L441.31 355.42 L442.16 355.69 L443.02 355.97 L443.87 356.24 L444.73 356.50 L445.59 356.76 L446.45 357.02 L447.32 357.27 L448.18 357.52 L449.04 357.76 L449.91 358.00 L450.78 358.23 L451.65 358.46 L452.52 358.69 L453.39 358.91 L454.26 359.13 L455.13 359.34 L456.01 359.55 L456.88 359.76 L457.76 359.96 L458.63 360.16 L459.51 360.35 L460.39 360.54 L461.27 360.72 L462.15 360.90 L463.03 361.08 L463.92 361.25 L464.80 361.42 L465.68 361.58 L466.57 361.74 L467.45 361.90 L468.34 362.05 L469.23 362.20 L470.11 362.35 L471.00 362.49 L471.89 362.62 L472.78 362.76 L473.67 362.89 L474.56 363.01 L475.45 363.14 L476.34 363.26 L477.24 363.37 L478.13 363.49 L479.02 363.60 L479.91 363.70 L480.81 363.81 L481.70 363.91 L482.59 364.01 L483.49 364.10 L484.38 364.19 L485.28 364.28 L486.17 364.37 L487.07 364.46 L487.97 364.54 L488.86 364.62 L489.76 364.70 L490.65 364.78 L491.55 364.85 L492.45 364.92 L493.34 365.00 L494.24 365.06 L495.14 365.13 L496.04 365.20 L496.93 365.26 L497.83 365.33 L498.73 365.39 L499.63 365.45 L500.52 365.51 L501.42 365.57 L502.32 365.63 L503.22 365.68 L504.12 365.74 L505.01 365.79 L505.91 365.85 L506.81 365.90 L507.71 365.95 L508.61 366.01 L509.50 366.06 L510.40 366.11 L511.30 366.16 L512.20 366.22 L513.10 366.27 L514.00 366.32 L514.90 366.37 L515.79 366.42 L516.69 366.48 L517.59 366.53 L518.49 366.58 L519.39 366.64 L520.29 366.69 L521.18 366.75 L522.08 366.80 L522.98 366.86 L523.88 366.92 L524.78 366.98 L525.67 367.04 L526.57 367.10 L527.47 367.16 L528.37 367.23 L529.26 367.29 L530.16 367.36" stroke="rgb(249, 191, 163)" />
<path d="M203.01 129.79 L203.08 129.43 L203.15 129.06 L203.22 128.70 L203.29 128.33 L203.36 127.96 L203.44 127.60 L203.51 127.23 L203.58 126.87 L203.66 126.50 L203.73 126.14 L203.80 125.77 L203.88 125.41 L203.95 125.04 L204.03 124.68 L204.11 124.31 L204.18 123.95 L204.26 123.58 L204.34 123.22 L204.42 122.86 L204.50 122.49 L204.57 122.13 L204.65 121.76 L204.74 121.40 L204.82 121.04 L204.90 120.67 L204.98 120.31 L205.06 119.95 L205.15 119.58 L205.23 119.22 L205.31 118.86 L205.40 118.49 L205.49 118.13 L205.57 117.77 L205.66 117.41 L205.75 117.04 L205.84 116.68 L205.92 116.32 L206.01 115.96 L206.10 115.60 L206.20 115.24 L206.29 114.88 L206.38 114.52 L206.47 114.16 L206.57 113.79 L206.66 113.43 L206.76 113.07 L206.85 112.72 L206.95 112.36 L207.05 112.00 L207.14 111.64 L207.24 111.28 L207.34 110.92 L207.44 110.56 L207.54 110.20 L207.64 109.85 L207.75 109.49 L207.85 109.13 L207.95 108.77 L208.06 108.42 L208.17 108.06 L208.27 107.71 L208.38 107.35 L208.49 106.99 L208.60 106.64 L208.71 106.28 L208.82 105.93 L208.93 105.57 L209.04 105.22 L209.15 104.87 L209.27 104.51 L209.38 104.16 L209.50 103.81 L209.62 103.46 L209.73 103.11 L209.85 102.75 L209.97 102.40 L210.09 102.05 L210.21 101.70 L210.33 101.35 L210.46 101.00 L210.58 100.65 L210.70 100.30 L210.83 99.96 L210.96 99.61 L211.08 99.26 L211.21 98.92 L211.34 98.57 L211.47 98.22 L211.60 97.88 L211.73 97.53 L211.87 97.19 L212.00 96.84 L212.13 96.50 L212.27 96.16 L212.41 95.82 L212.54 95.47 L212.68 95.13 L212.82 94.79 L212.96 94.45 L213.10 94.11 L213.24 93.77 L213.38 93.43 L213.53 93.09 L213.67 92.75 L213.81 92.41 L213.96 92.07 L214.10 91.74 L214.24 91.40 L214.39 91.06 L214.53 90.72 L214.68 90.39 L214.83 90.05 L214.97 89.71 L215.12 89.37 L215.26 89.03 L215.41 88.70 L215.56 88.36 L215.70 88.02 L215.85 87.68 L215.99 87.35 L216.14 87.01 L216.29 86.67 L216.43 86.33 L216.58 85.99 L216.72 85.65 L216.87 85.31 L217.01 84.97 L217.16 84.63 L217.30 84.29 L217.44 83.95 L217.59 83.61 L217.73 83.27 L217.87 82.93 L218.01 82.59 L218.15 82.25 L218.29 81.90 L218.43 81.56 L218.57 81.22 L218.71 80.87 L218.85 80.53 L218.99 80.18 L219.13 79.84 L219.27 79.49 L219.41 79.15 L219.54 78.81 L219.68 78.46 L219.82 78.11 L219.96 77.77 L220.10 77.42 L220.24 77.08 L220.37 76.73 L220.51 76.39 L220.65 76.04 L220.79 75.70 L220.93 75.35 L221.07 75.01 L221.21 74.66 L221.35 74.32 L221.49 73.98 L221.64 73.63 L221.78 73.29 L221.92 72.94 L222.06 72.60 L222.21 72.26 L222.35 71.91 L222.50 71.57 L222.65 71.23 L222.79 70.89 L222.94 70.55 L223.09 70.20 L223.24 69.86 L223.40 69.52 L223.55 69.18 L223.70 68.85 L223.86 68.51 L224.01 68.17 L224.17 67.83 L224.33 67.49 L224.49 67.16 L224.65 66.82 L224.81 66.49 L224.98 66.15 L225.14 65.82 L225.31 65.49 L225.48 65.16 L225.65 64.82 L225.82 64.49 L226.00 64.17 L226.17 63.84 L226.35 63.51 L226.53 63.18 L226.71 62.86 L226.89 62.53 L227.08 62.21 L227.27 61.89 L227.46 61.57 L227.65 61.25 L227.84 60.93 L228.03 60.62 L228.23 60.30 L228.43 59.99 L228.63 59.67 L228.84 59.36 L229.04 59.05 L229.25 58.75 L229.46 58.44 L229.67 58.14 L229.89 57.84 L230.11 57.53 L230.33 57.24 L230.55 56.94 L230.77 56.65 L231.00 56.35 L231.23 56.06 L231.46 55.78 L231.70 55.49 L231.94 55.21 L232.18 54.93 L232.42 54.65 L232.67 54.38 L232.92 54.10 L233.18 53.84 L233.43 53.57 L233.69 53.31 L233.95 53.05 L234.22 52.79 L234.49 52.54 L234.76 52.29 L235.04 52.05 L235.32 51.81 L235.60 51.57 L235.89 51.34 L236.18 51.11 L236.47 50.89 L236.77 50.67 L237.07 50.46 L237.38 50.25 L237.69 50.05 L238.00 49.85 L238.32 49.66 L238.64 49.48 L238.97 49.30 L239.30 49.13 L239.63 48.97 L239.97 48.82 L240.31 48.67 L240.65 48.53 L241.00 48.40 L241.35 48.28 L241.70 48.17 L242.06 48.07 L242.42 47.98 L242.79 47.90 L243.15 47.83 L243.52 47.77 L243.89 47.73 L244.26 47.69 L244.63 47.68 L245.00 47.67 L245.91 47.71 L246.81 47.82 L247.69 48.00 L248.57 48.24 L249.42 48.54 L250.26 48.88 L251.08 49.27 L251.88 49.69 L252.66 50.15 L253.42 50.64 L254.17 51.15 L254.89 51.70 L255.60 52.27 L256.28 52.86 L256.95 53.47 L257.59 54.10 L258.22 54.74 L258.84 55.40 L259.44 56.07 L260.02 56.75 L260.60 57.45 L261.16 58.15 L261.71 58.86 L262.25 59.58 L262.78 60.31 L263.30 61.04 L263.81 61.77 L264.32 62.51 L264.83 63.26 L265.33 64.01 L265.82 64.76 L266.31 65.52 L266.80 66.28 L267.28 67.04 L267.75 67.81 L268.22 68.58 L268.69 69.35 L269.16 70.12 L269.62 70.90 L270.08 71.67 L270.53 72.45 L270.98 73.24 L271.43 74.02 L271.88 74.80 L272.33 75.59 L272.77 76.38 L273.21 77.17 L273.65 77.96 L274.09 78.75 L274.53 79.54 L274.96 80.33 L275.39 81.13 L275.83 81.92 L276.26 82.72 L276.69 83.52 L277.12 84.31 L277.55 85.11 L277.98 85.91 L278.40 86.71 L278.83 87.51 L279.25 88.31 L279.67 89.11 L280.09 89.92 L280.51 90.72 L280.93 91.52 L281.35 92.33 L281.76 93.13 L282.18 93.94 L282.59 94.75 L283.00 95.55 L283.41 96.36 L283.82 97.17 L284.23 97.98 L284.63 98.79 L285.04 99.60 L285.44 100.41 L285.84 101.23 L286.24 102.04 L286.64 102.85 L287.03 103.67 L287.43 104.48 L287.82 105.30 L288.21 106.12 L288.60 106.93 L288.99 107.75 L289.38 108.57 L289.76 109.39 L290.15 110.21 L290.52 111.05 L290.90 111.89 L291.27 112.73 L291.64 113.57 L292.01 114.41 L292.37 115.26 L292.74 116.10 L293.10 116.95 L293.46 117.79 L293.82 118.64 L294.18 119.48 L294.54 120.33 L294.89 121.18 L295.25 122.03 L295.60 122.88 L295.95 123.73 L296.29 124.58 L296.64 125.43 L296.98 126.29 L297.33 127.14 L297.67 128.00 L298.00 128.85 L298.34 129.71 L298.67 130.56 L299.00 131.42 L299.33 132.28 L299.66 133.14 L299.98 134.00 L300.30 134.86 L300.62 135.73 L300.94 136.59 L301.26 137.46 L301.57 138.32 L301.88 139.19 L302.19 140.05 L302.49 140.92 L302.80 141.79 L303.10 142.66 L303.40 143.53 L303.70 144.40 L304.00 145.27 L304.29 146.14 L304.59 147.01 L304.88 147.88 L305.17 148.76 L305.46 149.63 L305.75 150.50 L306.04 151.38 L306.32 152.25 L306.61 153.12 L306.89 154.00 L307.17 154.87 L307.46 155.75 L307.74 156.62 L308.02 157.50 L308.30 158.38 L308.58 159.25 L308.86 160.13 L309.14 161.00 L309.42 161.88 L309.70 162.76 L309.97 163.63 L310.25 164.51 L310.53 165.38 L310.81 166.26 L311.09 167.14 L311.37 168.01 L311.64 168.89 L311.92 169.76 L312.20 170.64 L312.48 171.51 L312.76 172.39 L313.04 173.26 L313.32 174.14 L313.60 175.01 L313.88 175.89 L314.16 176.76 L314.44 177.64 L314.72 178.51 L315.00 179.39 L315.28 180.26 L315.56 181.14 L315.84 182.01 L316.12 182.88 L316.40 183.76 L316.68 184.63 L316.97 185.50 L317.25 186.38 L317.53 187.25 L317.81 188.12 L318.10 189.00 L318.38 189.87 L318.67 190.74 L318.95 191.61 L319.24 192.48 L319.52 193.36 L319.81 194.23 L320.09 195.10 L320.38 195.97 L320.67 196.84 L320.96 197.71 L321.24 198.58 L321.53 199.45 L321.82 200.32 L322.11 201.19 L322.40 202.06 L322.69 202.93 L322.99 203.80 L323.28 204.66 L323.57 205.53 L323.87 206.40 L324.16 207.27 L324.46 208.13 L324.75 209.00 L325.05 209.86 L325.36 210.71 L325.66 211.56 L325.96 212.41 L326.27 213.26 L326.58 214.10 L326.88 214.95 L327.19 215.80 L327.50 216.65 L327.81 217.50 L328.12 218.34 L328.43 219.19 L328.75 220.04 L329.06 220.88 L329.38 221.73 L329.69 222.57 L330.01 223.42 L330.32 224.26 L330.64 225.11 L330.96 225.95 L331.28 226.80 L331.60 227.64 L331.93 228.48 L332.25 229.32 L332.57 230.17 L332.90 231.01 L333.22 231.85 L333.55 232.69 L333.88 233.53 L334.21 234.37 L334.54 235.21 L334.87 236.05 L335.20 236.88 L335.54 237.72 L335.87 238.56 L336.21 239.40 L336.55 240.23 L336.89 241.07 L337.23 241.91 L337.57 242.74 L337.91 243.57 L338.25 244.41 L338.60 245.24 L338.94 246.08 L339.29 246.91 L339.64 247.74 L339.99 248.57 L340.34 249.40 L340.69 250.23 L341.04 251.06 L341.40 251.89 L341.75 252.72 L342.11 253.55 L342.47 254.38 L342.83 255.20 L343.19 256.03 L343.55 256.86 L343.92 257.68 L344.28 258.50 L344.65 259.32 L345.02 260.14 L345.39 260.96 L345.76 261.78 L346.13 262.60 L346.51 263.42 L346.88 264.24 L347.26 265.05 L347.64 265.87 L348.02 266.68 L348.40 267.50 L348.78 268.31 L349.17 269.13 L349.55 269.94 L349.94 270.75 L350.33 271.56 L350.72 272.37 L351.11 273.18 L351.50 273.99 L351.90 274.80 L352.30 275.61 L352.69 276.42 L353.09 277.22 L353.49 278.03 L353.90 278.83 L354.30 279.64 L354.71 280.44 L355.12 281.24 L355.52 282.05 L355.94 282.85 L356.35 283.65 L356.76 284.45 L357.18 285.25 L357.60 286.04 L358.02 286.84 L358.44 287.64 L358.86 288.43 L359.29 289.23 L359.71 290.02 L360.14 290.81 L360.57 291.61 L361.00 292.40 L361.44 293.18 L361.88 293.97 L362.32 294.76 L362.76 295.54 L363.21 296.33 L363.66 297.11 L364.11 297.88 L364.57 298.66 L365.03 299.43 L365.50 300.21 L365.97 300.97 L366.44 301.74 L366.92 302.50 L367.41 303.26 L367.90 304.02 L368.40 304.77 L368.90 305.51 L369.41 306.26 L369.92 307.00 L370.45 307.73 L370.97 308.46 L371.51 309.18 L372.05 309.90 L372.60 310.61 L373.15 311.32 L373.72 312.02 L374.29 312.72 L374.86 313.41 L375.45 314.09 L376.03 314.76 L376.63 315.43 L377.23 316.09 L377.84 316.75 L378.46 317.40 L379.08 318.04 L379.70 318.68 L380.33 319.31 L380.97 319.94 L381.61 320.56 L382.26 321.17 L382.91 321.78 L383.56 322.39 L384.22 322.98 L384.89 323.58 L385.56 324.16 L386.23 324.75 L386.91 325.32 L387.60 325.90 L388.28 326.46 L388.97 327.02 L389.67 327.58 L390.37 328.13 L391.07 328.68 L391.78 329.22 L392.49 329.76 L393.20 330.29 L393.92 330.82 L394.64 331.34 L395.36 331.86 L396.09 332.37 L396.82 332.88 L397.56 333.39 L398.29 333.89 L399.03 334.38 L399.78 334.88 L400.52 335.36 L401.27 335.85 L402.02 336.33 L402.78 336.80 L403.53 337.28 L404.29 337.74 L405.06 338.21 L405.82 338.67 L406.59 339.13 L407.36 339.58 L408.13 340.03 L408.91 340.48 L409.69 340.92 L410.47 341.36 L411.25 341.79 L412.03 342.23 L412.82 342.65 L413.61 343.08 L414.40 343.50 L415.20 343.92 L415.99 344.33 L416.79 344.74 L417.59 345.15 L418.39 345.55 L419.20 345.95 L420.01 346.34 L420.81 346.73 L421.63 347.12 L422.44 347.50 L423.25 347.88 L424.07 348.26 L424.89 348.63 L425.71 349.00 L426.54 349.36 L427.36 349.72 L428.19 350.08 L429.02 350.43 L429.85 350.78 L430.68 351.12 L431.52 351.46 L432.35 351.80 L433.19 352.13 L434.03 352.45 L434.87 352.78 L435.72 353.10 L436.56 353.41 L437.41 353.72 L438.26 354.03 L439.11 354.33 L439.96 354.63 L440.82 354.92 L441.67 355.21 L442.53 355.49 L443.39 355.77 L444.25 356.05 L445.11 356.32 L445.97 356.58 L446.84 356.84 L447.71 357.10 L448.57 357.35 L449.44 357.60 L450.31 357.84 L451.19 358.08 L452.06 358.31 L452.93 358.54 L453.81 358.77 L454.69 358.99 L455.57 359.20 L456.44 359.41 L457.33 359.62 L458.21 359.82 L459.09 360.02 L459.97 360.21 L460.86 360.40 L461.74 360.58 L462.63 360.76 L463.52 360.94 L464.41 361.11 L465.29 361.28 L466.18 361.44 L467.07 361.60 L467.97 361.75 L468.86 361.91 L469.75 362.05 L470.64 362.20 L471.54 362.34 L472.43 362.47 L473.33 362.60 L474.22 362.73 L475.12 362.86 L476.02 362.98 L476.91 363.10 L477.81 363.21 L478.71 363.32 L479.61 363.43 L480.51 363.54 L481.41 363.64 L482.31 363.74 L483.21 363.84 L484.11 363.93 L485.01 364.02 L485.91 364.11 L486.81 364.20 L487.71 364.28 L488.61 364.37 L489.51 364.45 L490.41 364.53 L491.32 364.60 L492.22 364.68 L493.12 364.75 L494.02 364.82 L494.93 364.89 L495.83 364.96 L496.73 365.03 L497.64 365.09 L498.54 365.16 L499.44 365.22 L500.35 365.28 L501.25 365.34 L502.15 365.40 L503.06 365.46 L503.96 365.52 L504.86 365.58 L505.77 365.64 L506.67 365.70 L507.57 365.75 L508.48 365.81 L509.38 365.87 L510.29 365.92 L511.19 365.98 L512.09 366.03 L513.00 366.09 L513.90 366.15 L514.81 366.20 L515.71 366.26 L516.61 366.32 L517.52 366.38 L518.42 366.44 L519.32 366.50 L520.23 366.56 L521.13 366.62 L522.04 366.68 L522.94 366.75 L523.84 366.81 L524.75 366.88 L525.65 366.94 L526.55 367.01 L527.46 367.08 L528.36 367.16 L529.26 367.23 L530.16 367.31" stroke="rgb(247, 175, 140)" />
<path d="M203.01 130.68 L203.09 130.29 L203.16 129.91 L203.24 129.52 L203.31 129.14 L203.39 128.76 L203.47 128.37 L203.54 127.99 L203.62 127.61 L203.70 127.22 L203.78 126.84 L203.85 126.45 L203.93 126.07 L204.01 125.69 L204.09 125.31 L204.17 124.92 L204.25 124.54 L204.34 124.16 L204.42 123.77 L204.50 123.39 L204.58 123.01 L204.66 122.63 L204.75 122.24 L204.83 121.86 L204.92 121.48 L205.00 121.10 L205.09 120.71 L205.17 120.33 L205.26 119.95 L205.35 119.57 L205.43 119.19 L205.52 118.81 L205.61 118.43 L205.70 118.05 L205.79 117.66 L205.88 117.28 L205.97 116.90 L206.06 116.52 L206.15 116.14 L206.25 115.76 L206.34 115.38 L206.43 115.00 L206.53 114.62 L206.62 114.24 L206.72 113.86 L206.81 113.48 L206.91 113.11 L207.01 112.73 L207.11 112.35 L207.20 111.97 L207.30 111.59 L207.40 111.21 L207.50 110.84 L207.61 110.46 L207.71 110.08 L207.81 109.70 L207.91 109.33 L208.02 108.95 L208.12 108.57 L208.23 108.20 L208.33 107.82 L208.44 107.45 L208.55 107.07 L208.66 106.70 L208.76 106.32 L208.87 105.95 L208.98 105.57 L209.10 105.20 L209.21 104.82 L209.32 104.45 L209.43 104.08 L209.55 103.70 L209.66 103.33 L209.78 102.96 L209.89 102.59 L210.01 102.22 L210.13 101.84 L210.25 101.47 L210.37 101.10 L210.49 100.73 L210.61 100.36 L210.73 99.99 L210.85 99.62 L210.97 99.25 L211.10 98.89 L211.22 98.52 L211.35 98.15 L211.48 97.78 L211.60 97.42 L211.73 97.05 L211.86 96.68 L211.99 96.32 L212.12 95.95 L212.25 95.59 L212.38 95.22 L212.52 94.86 L212.65 94.49 L212.78 94.13 L212.92 93.77 L213.06 93.40 L213.19 93.04 L213.33 92.68 L213.47 92.32 L213.60 91.96 L213.74 91.60 L213.88 91.23 L214.02 90.87 L214.16 90.51 L214.30 90.15 L214.44 89.79 L214.58 89.43 L214.73 89.07 L214.87 88.71 L215.01 88.35 L215.15 87.99 L215.29 87.63 L215.44 87.27 L215.58 86.91 L215.72 86.55 L215.86 86.19 L216.01 85.83 L216.15 85.47 L216.29 85.11 L216.43 84.75 L216.58 84.39 L216.72 84.03 L216.86 83.67 L217.00 83.31 L217.14 82.95 L217.29 82.59 L217.43 82.22 L217.57 81.86 L217.71 81.50 L217.85 81.14 L217.99 80.77 L218.13 80.41 L218.27 80.05 L218.41 79.68 L218.55 79.32 L218.69 78.96 L218.83 78.59 L218.97 78.23 L219.11 77.86 L219.25 77.50 L219.39 77.13 L219.53 76.77 L219.67 76.41 L219.81 76.04 L219.95 75.68 L220.09 75.31 L220.23 74.95 L220.37 74.58 L220.51 74.22 L220.66 73.85 L220.80 73.49 L220.94 73.13 L221.09 72.76 L221.23 72.40 L221.37 72.04 L221.52 71.67 L221.67 71.31 L221.81 70.95 L221.96 70.59 L222.11 70.22 L222.26 69.86 L222.41 69.50 L222.56 69.14 L222.71 68.78 L222.86 68.42 L223.02 68.06 L223.17 67.70 L223.33 67.34 L223.49 66.98 L223.64 66.63 L223.80 66.27 L223.96 65.91 L224.13 65.56 L224.29 65.20 L224.45 64.85 L224.62 64.49 L224.79 64.14 L224.96 63.78 L225.13 63.43 L225.30 63.08 L225.47 62.73 L225.65 62.38 L225.82 62.03 L226.00 61.68 L226.18 61.34 L226.36 60.99 L226.55 60.64 L226.73 60.30 L226.92 59.96 L227.11 59.61 L227.30 59.27 L227.49 58.93 L227.69 58.59 L227.88 58.26 L228.08 57.92 L228.28 57.59 L228.49 57.25 L228.69 56.92 L228.90 56.59 L229.11 56.26 L229.32 55.93 L229.53 55.60 L229.75 55.28 L229.97 54.95 L230.19 54.63 L230.41 54.31 L230.63 53.99 L230.86 53.68 L231.09 53.36 L231.32 53.05 L231.56 52.74 L231.80 52.43 L232.04 52.13 L232.28 51.83 L232.53 51.52 L232.78 51.23 L233.03 50.93 L233.28 50.64 L233.54 50.35 L233.81 50.06 L234.07 49.78 L234.34 49.50 L234.61 49.22 L234.89 48.95 L235.17 48.68 L235.45 48.42 L235.74 48.15 L236.03 47.90 L236.32 47.65 L236.62 47.40 L236.93 47.16 L237.23 46.92 L237.55 46.69 L237.86 46.46 L238.18 46.24 L238.51 46.03 L238.83 45.82 L239.17 45.62 L239.51 45.43 L239.85 45.24 L240.19 45.06 L240.54 44.89 L240.90 44.73 L241.26 44.58 L241.62 44.44 L241.99 44.30 L242.36 44.18 L242.73 44.07 L243.11 43.97 L243.49 43.88 L243.87 43.80 L244.26 43.73 L244.64 43.68 L245.03 43.65 L245.42 43.63 L245.82 43.62 L246.73 43.66 L247.63 43.78 L248.52 43.97 L249.39 44.22 L250.25 44.53 L251.09 44.89 L251.90 45.28 L252.71 45.71 L253.49 46.17 L254.26 46.66 L255.01 47.18 L255.74 47.72 L256.46 48.28 L257.16 48.86 L257.84 49.47 L258.50 50.08 L259.15 50.72 L259.78 51.37 L260.40 52.03 L261.00 52.70 L261.60 53.38 L262.18 54.07 L262.75 54.77 L263.31 55.48 L263.87 56.19 L264.41 56.92 L264.95 57.64 L265.48 58.37 L266.01 59.11 L266.53 59.85 L267.04 60.60 L267.55 61.35 L268.05 62.10 L268.55 62.86 L269.05 63.62 L269.54 64.38 L270.02 65.14 L270.51 65.91 L270.99 66.68 L271.46 67.46 L271.93 68.23 L272.40 69.01 L272.87 69.79 L273.33 70.57 L273.79 71.35 L274.25 72.14 L274.70 72.93 L275.16 73.71 L275.61 74.50 L276.06 75.30 L276.50 76.09 L276.95 76.88 L277.39 77.68 L277.83 78.47 L278.27 79.27 L278.71 80.07 L279.14 80.87 L279.58 81.67 L280.01 82.47 L280.44 83.27 L280.87 84.08 L281.29 84.88 L281.72 85.69 L282.14 86.50 L282.56 87.30 L282.98 88.11 L283.40 88.92 L283.81 89.73 L284.23 90.54 L284.64 91.36 L285.05 92.17 L285.46 92.98 L285.86 93.80 L286.27 94.62 L286.67 95.43 L287.07 96.25 L287.47 97.07 L287.87 97.89 L288.26 98.71 L288.66 99.53 L289.05 100.35 L289.44 101.18 L289.83 102.00 L290.21 102.82 L290.60 103.65 L290.98 104.47 L291.36 105.30 L291.74 106.13 L292.11 106.98 L292.48 107.83 L292.84 108.68 L293.21 109.53 L293.57 110.39 L293.93 111.24 L294.29 112.10 L294.65 112.96 L295.00 113.81 L295.35 114.67 L295.71 115.53 L296.06 116.39 L296.41 117.25 L296.75 118.11 L297.10 118.97 L297.44 119.83 L297.79 120.69 L298.13 121.56 L298.47 122.42 L298.80 123.28 L299.14 124.15 L299.47 125.02 L299.80 125.88 L300.13 126.75 L300.46 127.62 L300.78 128.49 L301.11 129.36 L301.43 130.23 L301.74 131.10 L302.06 131.97 L302.38 132.84 L302.69 133.72 L303.00 134.59 L303.31 135.47 L303.61 136.34 L303.92 137.22 L304.22 138.10 L304.52 138.97 L304.82 139.85 L305.12 140.73 L305.41 141.61 L305.71 142.49 L306.00 143.37 L306.29 144.25 L306.58 145.13 L306.87 146.01 L307.16 146.90 L307.45 147.78 L307.73 148.66 L308.02 149.54 L308.30 150.43 L308.59 151.31 L308.87 152.19 L309.15 153.08 L309.43 153.96 L309.71 154.84 L309.99 155.73 L310.27 156.61 L310.55 157.50 L310.82 158.38 L311.10 159.27 L311.38 160.15 L311.66 161.03 L311.93 161.92 L312.21 162.80 L312.49 163.69 L312.76 164.57 L313.04 165.46 L313.32 166.34 L313.59 167.23 L313.87 168.11 L314.14 168.99 L314.42 169.88 L314.70 170.76 L314.97 171.65 L315.25 172.53 L315.53 173.41 L315.80 174.30 L316.08 175.18 L316.36 176.06 L316.63 176.95 L316.91 177.83 L317.19 178.71 L317.47 179.60 L317.74 180.48 L318.02 181.36 L318.30 182.25 L318.58 183.13 L318.86 184.01 L319.13 184.89 L319.41 185.77 L319.69 186.66 L319.97 187.54 L320.25 188.42 L320.53 189.30 L320.81 190.18 L321.09 191.06 L321.37 191.94 L321.65 192.82 L321.93 193.70 L322.22 194.58 L322.50 195.46 L322.78 196.34 L323.06 197.22 L323.35 198.10 L323.63 198.98 L323.92 199.86 L324.20 200.74 L324.49 201.62 L324.77 202.50 L325.06 203.37 L325.35 204.25 L325.63 205.13 L325.92 206.00 L326.21 206.87 L326.51 207.73 L326.81 208.58 L327.11 209.44 L327.41 210.29 L327.71 211.15 L328.01 212.01 L328.31 212.86 L328.61 213.71 L328.92 214.57 L329.22 215.42 L329.52 216.28 L329.83 217.13 L330.13 217.98 L330.44 218.84 L330.75 219.69 L331.06 220.54 L331.37 221.39 L331.68 222.25 L331.99 223.10 L332.30 223.95 L332.62 224.80 L332.93 225.65 L333.25 226.50 L333.56 227.35 L333.88 228.20 L334.20 229.04 L334.52 229.89 L334.84 230.74 L335.16 231.59 L335.48 232.43 L335.80 233.28 L336.13 234.13 L336.45 234.97 L336.78 235.82 L337.11 236.66 L337.44 237.51 L337.77 238.35 L338.10 239.19 L338.43 240.04 L338.77 240.88 L339.10 241.72 L339.44 242.56 L339.77 243.40 L340.11 244.24 L340.45 245.08 L340.79 245.92 L341.14 246.76 L341.48 247.60 L341.82 248.44 L342.17 249.27 L342.52 250.11 L342.87 250.95 L343.22 251.78 L343.57 252.62 L343.92 253.45 L344.28 254.29 L344.63 255.12 L344.99 255.95 L345.35 256.77 L345.71 257.60 L346.08 258.43 L346.44 259.25 L346.81 260.08 L347.17 260.90 L347.54 261.73 L347.91 262.55 L348.28 263.38 L348.66 264.20 L349.03 265.02 L349.41 265.84 L349.79 266.66 L350.17 267.48 L350.55 268.30 L350.93 269.12 L351.31 269.94 L351.70 270.75 L352.09 271.57 L352.48 272.38 L352.87 273.20 L353.26 274.01 L353.65 274.83 L354.05 275.64 L354.45 276.45 L354.85 277.26 L355.25 278.07 L355.65 278.88 L356.05 279.69 L356.46 280.50 L356.87 281.30 L357.28 282.11 L357.69 282.91 L358.11 283.72 L358.52 284.52 L358.94 285.32 L359.36 286.12 L359.78 286.93 L360.20 287.72 L360.63 288.52 L361.06 289.32 L361.49 290.12 L361.92 290.91 L362.36 291.70 L362.79 292.50 L363.23 293.29 L363.68 294.07 L364.13 294.86 L364.58 295.64 L365.03 296.43 L365.49 297.21 L365.96 297.98 L366.42 298.76 L366.90 299.53 L367.37 300.30 L367.86 301.06 L368.34 301.83 L368.84 302.58 L369.33 303.34 L369.84 304.09 L370.35 304.84 L370.86 305.58 L371.38 306.32 L371.91 307.05 L372.44 307.78 L372.98 308.51 L373.53 309.22 L374.08 309.94 L374.64 310.64 L375.21 311.35 L375.78 312.04 L376.36 312.73 L376.94 313.41 L377.54 314.09 L378.13 314.76 L378.73 315.43 L379.34 316.09 L379.95 316.74 L380.57 317.39 L381.19 318.03 L381.82 318.67 L382.45 319.31 L383.09 319.94 L383.73 320.56 L384.38 321.18 L385.03 321.79 L385.69 322.40 L386.35 323.00 L387.01 323.60 L387.68 324.20 L388.35 324.78 L389.03 325.37 L389.71 325.95 L390.39 326.52 L391.08 327.09 L391.78 327.66 L392.47 328.22 L393.17 328.77 L393.88 329.32 L394.58 329.87 L395.29 330.41 L396.01 330.95 L396.72 331.48 L397.45 332.01 L398.17 332.54 L398.90 333.06 L399.63 333.58 L400.36 334.09 L401.10 334.60 L401.84 335.10 L402.58 335.60 L403.33 336.10 L404.08 336.59 L404.83 337.08 L405.59 337.56 L406.35 338.04 L407.11 338.52 L407.87 338.99 L408.64 339.46 L409.41 339.92 L410.18 340.38 L410.95 340.84 L411.73 341.29 L412.51 341.74 L413.29 342.19 L414.08 342.63 L414.87 343.06 L415.66 343.50 L416.45 343.93 L417.24 344.35 L418.04 344.77 L418.84 345.19 L419.65 345.60 L420.45 346.01 L421.26 346.41 L422.07 346.81 L422.88 347.21 L423.69 347.60 L424.51 347.99 L425.33 348.37 L426.15 348.75 L426.97 349.12 L427.80 349.49 L428.63 349.86 L429.46 350.22 L430.29 350.58 L431.12 350.93 L431.96 351.28 L432.79 351.62 L433.63 351.96 L434.48 352.30 L435.32 352.63 L436.16 352.96 L437.01 353.28 L437.86 353.59 L438.71 353.91 L439.57 354.21 L440.42 354.52 L441.28 354.82 L442.14 355.11 L443.00 355.40 L443.86 355.68 L444.72 355.96 L445.59 356.23 L446.46 356.50 L447.32 356.77 L448.20 357.02 L449.07 357.28 L449.94 357.53 L450.82 357.77 L451.69 358.01 L452.57 358.24 L453.45 358.47 L454.33 358.70 L455.21 358.92 L456.09 359.13 L456.98 359.34 L457.86 359.55 L458.75 359.75 L459.64 359.95 L460.53 360.14 L461.41 360.33 L462.31 360.51 L463.20 360.69 L464.09 360.86 L464.98 361.03 L465.88 361.20 L466.77 361.36 L467.67 361.51 L468.56 361.67 L469.46 361.82 L470.36 361.96 L471.25 362.10 L472.15 362.24 L473.05 362.37 L473.95 362.50 L474.85 362.63 L475.75 362.75 L476.66 362.87 L477.56 362.99 L478.46 363.10 L479.36 363.21 L480.27 363.32 L481.17 363.42 L482.07 363.52 L482.98 363.62 L483.88 363.72 L484.79 363.81 L485.69 363.90 L486.60 363.99 L487.50 364.08 L488.41 364.16 L489.32 364.24 L490.22 364.32 L491.13 364.40 L492.04 364.48 L492.94 364.55 L493.85 364.63 L494.76 364.70 L495.66 364.77 L496.57 364.84 L497.48 364.90 L498.39 364.97 L499.29 365.04 L500.20 365.10 L501.11 365.16 L502.02 365.23 L502.93 365.29 L503.83 365.35 L504.74 365.41 L505.65 365.47 L506.56 365.53 L507.47 365.59 L508.38 365.65 L509.28 365.71 L510.19 365.77 L511.10 365.83 L512.01 365.89 L512.92 365.95 L513.83 366.01 L514.73 366.07 L515.64 366.13 L516.55 366.19 L517.46 366.26 L518.37 366.32 L519.28 366.38 L520.18 366.45 L521.09 366.52 L522.00 366.58 L522.91 366.65 L523.81 366.72 L524.72 366.79 L525.63 366.87 L526.54 366.94 L527.44 367.02 L528.35 367.10 L529.26 367.18 L530.16 367.26" stroke="rgb(246, 159, 119)" />
<path d="M203.01 131.25 L203.09 130.86 L203.17 130.46 L203.25 130.07 L203.33 129.67 L203.41 129.27 L203.49 128.88 L203.57 128.48 L203.65 128.09 L203.73 127.69 L203.81 127.30 L203.89 126.90 L203.97 126.51 L204.05 126.11 L204.13 125.72 L204.22 125.32 L204.30 124.93 L204.38 124.53 L204.47 124.14 L204.55 123.74 L204.64 123.35 L204.72 122.95 L204.81 122.56 L204.90 122.16 L204.98 121.77 L205.07 121.37 L205.16 120.98 L205.24 120.59 L205.33 120.19 L205.42 119.80 L205.51 119.41 L205.60 119.01 L205.69 118.62 L205.78 118.23 L205.87 117.83 L205.97 117.44 L206.06 117.05 L206.15 116.65 L206.24 116.26 L206.34 115.87 L206.43 115.48 L206.53 115.08 L206.62 114.69 L206.72 114.30 L206.82 113.91 L206.91 113.52 L207.01 113.13 L207.11 112.73 L207.21 112.34 L207.31 111.95 L207.41 111.56 L207.51 111.17 L207.61 110.78 L207.71 110.39 L207.82 110.00 L207.92 109.61 L208.02 109.22 L208.13 108.83 L208.23 108.44 L208.34 108.05 L208.44 107.67 L208.55 107.28 L208.66 106.89 L208.77 106.50 L208.87 106.11 L208.98 105.73 L209.09 105.34 L209.20 104.95 L209.32 104.56 L209.43 104.18 L209.54 103.79 L209.65 103.41 L209.77 103.02 L209.88 102.63 L210.00 102.25 L210.11 101.86 L210.23 101.48 L210.35 101.10 L210.47 100.71 L210.59 100.33 L210.71 99.94 L210.83 99.56 L210.95 99.18 L211.07 98.80 L211.19 98.41 L211.32 98.03 L211.44 97.65 L211.56 97.27 L211.69 96.89 L211.82 96.51 L211.94 96.13 L212.07 95.75 L212.20 95.37 L212.33 94.99 L212.46 94.61 L212.59 94.23 L212.72 93.85 L212.85 93.47 L212.98 93.10 L213.12 92.72 L213.25 92.34 L213.39 91.97 L213.52 91.59 L213.66 91.21 L213.79 90.84 L213.93 90.46 L214.07 90.09 L214.20 89.71 L214.34 89.34 L214.48 88.96 L214.62 88.59 L214.76 88.21 L214.89 87.84 L215.03 87.46 L215.17 87.09 L215.31 86.72 L215.45 86.34 L215.59 85.97 L215.73 85.59 L215.87 85.22 L216.01 84.84 L216.15 84.47 L216.29 84.09 L216.44 83.72 L216.58 83.34 L216.72 82.97 L216.86 82.59 L217.00 82.22 L217.14 81.84 L217.28 81.47 L217.42 81.09 L217.56 80.72 L217.70 80.34 L217.84 79.96 L217.98 79.59 L218.12 79.21 L218.26 78.83 L218.40 78.46 L218.54 78.08 L218.68 77.70 L218.82 77.33 L218.96 76.95 L219.10 76.57 L219.24 76.19 L219.38 75.82 L219.52 75.44 L219.66 75.06 L219.80 74.68 L219.94 74.31 L220.09 73.93 L220.23 73.55 L220.37 73.18 L220.52 72.80 L220.66 72.42 L220.80 72.05 L220.95 71.67 L221.09 71.29 L221.24 70.92 L221.39 70.54 L221.54 70.17 L221.69 69.79 L221.84 69.42 L221.99 69.04 L222.14 68.67 L222.29 68.30 L222.44 67.92 L222.60 67.55 L222.75 67.18 L222.91 66.81 L223.07 66.43 L223.22 66.06 L223.38 65.69 L223.54 65.32 L223.71 64.95 L223.87 64.58 L224.03 64.21 L224.20 63.85 L224.37 63.48 L224.53 63.11 L224.70 62.75 L224.88 62.38 L225.05 62.02 L225.22 61.65 L225.40 61.29 L225.58 60.93 L225.76 60.57 L225.94 60.21 L226.12 59.85 L226.30 59.49 L226.49 59.13 L226.68 58.77 L226.87 58.41 L227.06 58.06 L227.25 57.71 L227.44 57.35 L227.64 57.00 L227.84 56.65 L228.04 56.30 L228.24 55.95 L228.45 55.60 L228.65 55.26 L228.86 54.91 L229.07 54.57 L229.28 54.23 L229.50 53.89 L229.72 53.55 L229.94 53.21 L230.16 52.87 L230.38 52.54 L230.61 52.21 L230.83 51.87 L231.06 51.55 L231.30 51.22 L231.53 50.89 L231.77 50.57 L232.01 50.25 L232.26 49.93 L232.50 49.61 L232.75 49.30 L233.01 48.99 L233.26 48.68 L233.52 48.37 L233.78 48.07 L234.05 47.77 L234.32 47.47 L234.59 47.18 L234.87 46.89 L235.15 46.60 L235.43 46.32 L235.72 46.04 L236.01 45.77 L236.31 45.50 L236.61 45.23 L236.91 44.97 L237.22 44.72 L237.54 44.47 L237.85 44.22 L238.18 43.98 L238.50 43.75 L238.83 43.52 L239.17 43.31 L239.51 43.09 L239.86 42.89 L240.21 42.69 L240.56 42.50 L240.92 42.32 L241.28 42.15 L241.65 41.99 L242.03 41.84 L242.40 41.70 L242.78 41.57 L243.17 41.45 L243.56 41.34 L243.95 41.24 L244.34 41.16 L244.74 41.09 L245.14 41.04 L245.54 41.00 L245.94 40.98 L246.35 40.97 L247.26 41.02 L248.17 41.14 L249.06 41.33 L249.93 41.60 L250.79 41.91 L251.63 42.27 L252.45 42.67 L253.25 43.11 L254.04 43.57 L254.81 44.06 L255.56 44.58 L256.30 45.12 L257.02 45.67 L257.73 46.25 L258.42 46.85 L259.09 47.46 L259.75 48.09 L260.40 48.73 L261.03 49.38 L261.65 50.05 L262.25 50.72 L262.85 51.40 L263.44 52.10 L264.01 52.80 L264.58 53.51 L265.14 54.22 L265.69 54.94 L266.24 55.67 L266.78 56.40 L267.31 57.13 L267.84 57.87 L268.36 58.62 L268.88 59.37 L269.39 60.12 L269.90 60.88 L270.40 61.63 L270.90 62.40 L271.39 63.16 L271.88 63.93 L272.37 64.70 L272.85 65.47 L273.33 66.24 L273.81 67.02 L274.28 67.80 L274.75 68.58 L275.22 69.37 L275.68 70.15 L276.14 70.94 L276.60 71.73 L277.06 72.52 L277.51 73.31 L277.96 74.10 L278.41 74.90 L278.86 75.70 L279.30 76.49 L279.74 77.29 L280.18 78.09 L280.62 78.90 L281.06 79.70 L281.49 80.50 L281.92 81.31 L282.35 82.12 L282.78 82.92 L283.21 83.73 L283.63 84.54 L284.05 85.36 L284.47 86.17 L284.88 86.98 L285.30 87.80 L285.71 88.61 L286.12 89.43 L286.53 90.25 L286.93 91.07 L287.34 91.89 L287.74 92.71 L288.14 93.53 L288.54 94.35 L288.93 95.18 L289.33 96.00 L289.72 96.83 L290.11 97.65 L290.50 98.48 L290.88 99.31 L291.27 100.14 L291.65 100.97 L292.03 101.80 L292.41 102.63 L292.78 103.46 L293.15 104.31 L293.51 105.17 L293.87 106.03 L294.23 106.90 L294.59 107.76 L294.95 108.62 L295.30 109.48 L295.66 110.35 L296.01 111.21 L296.36 112.08 L296.71 112.94 L297.05 113.81 L297.40 114.68 L297.74 115.54 L298.08 116.41 L298.42 117.28 L298.76 118.15 L299.10 119.02 L299.43 119.89 L299.77 120.76 L300.10 121.63 L300.43 122.51 L300.76 123.38 L301.08 124.25 L301.41 125.13 L301.73 126.01 L302.05 126.88 L302.37 127.76 L302.69 128.64 L303.00 129.52 L303.31 130.39 L303.62 131.27 L303.93 132.15 L304.24 133.04 L304.54 133.92 L304.85 134.80 L305.15 135.68 L305.45 136.57 L305.75 137.45 L306.05 138.33 L306.34 139.22 L306.63 140.10 L306.93 140.99 L307.22 141.88 L307.51 142.76 L307.80 143.65 L308.09 144.54 L308.37 145.43 L308.66 146.31 L308.94 147.20 L309.23 148.09 L309.51 148.98 L309.79 149.87 L310.07 150.76 L310.35 151.65 L310.63 152.54 L310.91 153.42 L311.19 154.31 L311.47 155.20 L311.74 156.09 L312.02 156.98 L312.30 157.87 L312.57 158.76 L312.85 159.65 L313.12 160.54 L313.40 161.43 L313.68 162.32 L313.95 163.21 L314.23 164.10 L314.50 164.99 L314.78 165.88 L315.05 166.77 L315.33 167.66 L315.60 168.55 L315.88 169.44 L316.15 170.33 L316.42 171.22 L316.70 172.11 L316.97 173.00 L317.25 173.89 L317.52 174.78 L317.80 175.67 L318.07 176.56 L318.35 177.45 L318.62 178.34 L318.90 179.23 L319.17 180.11 L319.45 181.00 L319.72 181.89 L320.00 182.78 L320.27 183.67 L320.55 184.56 L320.82 185.44 L321.10 186.33 L321.38 187.22 L321.65 188.11 L321.93 188.99 L322.21 189.88 L322.48 190.77 L322.76 191.65 L323.04 192.54 L323.32 193.43 L323.60 194.31 L323.87 195.20 L324.15 196.08 L324.43 196.97 L324.71 197.86 L324.99 198.74 L325.27 199.62 L325.56 200.51 L325.84 201.39 L326.12 202.28 L326.40 203.16 L326.69 204.04 L326.98 204.91 L327.27 205.78 L327.56 206.64 L327.86 207.50 L328.15 208.36 L328.45 209.22 L328.74 210.08 L329.04 210.94 L329.34 211.80 L329.64 212.66 L329.94 213.51 L330.24 214.37 L330.54 215.23 L330.84 216.09 L331.14 216.95 L331.44 217.80 L331.75 218.66 L332.05 219.52 L332.36 220.37 L332.66 221.23 L332.97 222.08 L333.28 222.94 L333.59 223.79 L333.90 224.65 L334.21 225.50 L334.52 226.36 L334.83 227.21 L335.15 228.06 L335.46 228.92 L335.78 229.77 L336.09 230.62 L336.41 231.47 L336.73 232.32 L337.05 233.17 L337.37 234.02 L337.70 234.87 L338.02 235.72 L338.34 236.57 L338.67 237.42 L339.00 238.27 L339.33 239.12 L339.65 239.96 L339.99 240.81 L340.32 241.65 L340.65 242.50 L340.99 243.35 L341.32 244.19 L341.66 245.03 L342.00 245.88 L342.34 246.72 L342.68 247.56 L343.02 248.40 L343.36 249.25 L343.71 250.09 L344.06 250.93 L344.40 251.77 L344.75 252.61 L345.10 253.44 L345.46 254.28 L345.81 255.11 L346.17 255.94 L346.53 256.77 L346.89 257.60 L347.25 258.43 L347.61 259.26 L347.98 260.09 L348.34 260.92 L348.71 261.75 L349.08 262.57 L349.45 263.40 L349.82 264.22 L350.19 265.05 L350.57 265.87 L350.94 266.70 L351.32 267.52 L351.70 268.34 L352.08 269.16 L352.47 269.98 L352.85 270.80 L353.24 271.62 L353.63 272.44 L354.02 273.26 L354.41 274.08 L354.81 274.89 L355.20 275.71 L355.60 276.52 L356.00 277.34 L356.40 278.15 L356.81 278.96 L357.21 279.77 L357.62 280.58 L358.03 281.39 L358.44 282.20 L358.85 283.00 L359.27 283.81 L359.69 284.62 L360.10 285.42 L360.53 286.22 L360.95 287.02 L361.38 287.83 L361.80 288.63 L362.24 289.42 L362.67 290.22 L363.11 291.02 L363.55 291.81 L363.99 292.60 L364.43 293.39 L364.88 294.18 L365.34 294.96 L365.80 295.75 L366.26 296.53 L366.72 297.31 L367.19 298.08 L367.67 298.86 L368.15 299.63 L368.63 300.39 L369.12 301.16 L369.62 301.92 L370.12 302.67 L370.62 303.43 L371.13 304.18 L371.65 304.92 L372.17 305.66 L372.70 306.40 L373.23 307.13 L373.78 307.85 L374.32 308.57 L374.88 309.29 L375.44 310.00 L376.00 310.71 L376.57 311.40 L377.15 312.09 L377.73 312.78 L378.32 313.46 L378.91 314.14 L379.51 314.81 L380.12 315.47 L380.73 316.13 L381.34 316.79 L381.96 317.44 L382.58 318.09 L383.21 318.73 L383.84 319.37 L384.48 320.00 L385.12 320.62 L385.77 321.25 L386.42 321.86 L387.07 322.48 L387.73 323.08 L388.40 323.69 L389.06 324.29 L389.74 324.88 L390.41 325.47 L391.09 326.05 L391.77 326.63 L392.46 327.21 L393.15 327.78 L393.85 328.35 L394.54 328.91 L395.25 329.47 L395.95 330.02 L396.66 330.57 L397.37 331.12 L398.09 331.66 L398.81 332.19 L399.53 332.73 L400.26 333.26 L400.99 333.78 L401.72 334.30 L402.46 334.81 L403.20 335.33 L403.94 335.83 L404.69 336.34 L405.43 336.83 L406.19 337.33 L406.94 337.82 L407.70 338.31 L408.46 338.79 L409.22 339.27 L409.99 339.74 L410.76 340.21 L411.53 340.68 L412.31 341.14 L413.09 341.60 L413.87 342.06 L414.65 342.50 L415.44 342.95 L416.23 343.39 L417.02 343.83 L417.81 344.26 L418.61 344.69 L419.41 345.11 L420.21 345.53 L421.02 345.95 L421.82 346.36 L422.63 346.77 L423.45 347.17 L424.26 347.57 L425.08 347.96 L425.90 348.35 L426.72 348.73 L427.54 349.11 L428.37 349.49 L429.20 349.86 L430.03 350.23 L430.86 350.59 L431.70 350.94 L432.53 351.30 L433.37 351.64 L434.22 351.99 L435.06 352.33 L435.90 352.66 L436.75 352.99 L437.60 353.31 L438.45 353.63 L439.31 353.94 L440.16 354.25 L441.02 354.56 L441.88 354.86 L442.74 355.15 L443.61 355.44 L444.47 355.73 L445.34 356.01 L446.21 356.28 L447.08 356.55 L447.95 356.81 L448.82 357.07 L449.70 357.32 L450.57 357.57 L451.45 357.81 L452.33 358.05 L453.21 358.28 L454.10 358.51 L454.98 358.73 L455.86 358.95 L456.75 359.16 L457.64 359.37 L458.53 359.58 L459.42 359.77 L460.31 359.97 L461.20 360.16 L462.09 360.34 L462.99 360.52 L463.88 360.70 L464.78 360.87 L465.67 361.04 L466.57 361.20 L467.47 361.36 L468.37 361.51 L469.27 361.66 L470.17 361.81 L471.07 361.95 L471.97 362.09 L472.87 362.22 L473.78 362.35 L474.68 362.48 L475.58 362.61 L476.49 362.73 L477.39 362.84 L478.30 362.96 L479.20 363.07 L480.11 363.18 L481.02 363.28 L481.92 363.38 L482.83 363.48 L483.74 363.58 L484.65 363.67 L485.55 363.77 L486.46 363.86 L487.37 363.94 L488.28 364.03 L489.19 364.11 L490.10 364.19 L491.01 364.27 L491.92 364.35 L492.83 364.43 L493.74 364.50 L494.65 364.57 L495.56 364.64 L496.47 364.71 L497.38 364.78 L498.29 364.85 L499.20 364.92 L500.11 364.98 L501.02 365.05 L501.93 365.11 L502.84 365.17 L503.75 365.24 L504.66 365.30 L505.57 365.36 L506.49 365.42 L507.40 365.48 L508.31 365.55 L509.22 365.61 L510.13 365.67 L511.04 365.73 L511.95 365.79 L512.86 365.85 L513.78 365.92 L514.69 365.98 L515.60 366.04 L516.51 366.11 L517.42 366.17 L518.33 366.24 L519.24 366.31 L520.15 366.38 L521.06 366.45 L521.97 366.52 L522.89 366.59 L523.80 366.67 L524.71 366.74 L525.62 366.82 L526.53 366.90 L527.44 366.98 L528.35 367.06 L529.26 367.15 L530.17 367.23" stroke="rgb(244, 145, 99)" />
<path d="M203.01 131.68 L203.09 131.28 L203.17 130.87 L203.26 130.47 L203.34 130.07 L203.42 129.66 L203.50 129.26 L203.58 128.85 L203.66 128.45 L203.75 128.04 L203.83 127.64 L203.91 127.23 L204.00 126.83 L204.08 126.43 L204.17 126.02 L204.25 125.62 L204.34 125.21 L204.42 124.81 L204.51 124.41 L204.59 124.00 L204.68 123.60 L204.77 123.19 L204.85 122.79 L204.94 122.39 L205.03 121.98 L205.12 121.58 L205.21 121.18 L205.30 120.78 L205.39 120.37 L205.48 119.97 L205.57 119.57 L205.66 119.16 L205.75 118.76 L205.84 118.36 L205.94 117.96 L206.03 117.56 L206.12 117.15 L206.22 116.75 L206.31 116.35 L206.41 115.95 L206.50 115.55 L206.60 115.15 L206.70 114.74 L206.79 114.34 L206.89 113.94 L206.99 113.54 L207.09 113.14 L207.19 112.74 L207.29 112.34 L207.39 111.94 L207.49 111.54 L207.59 111.14 L207.69 110.74 L207.79 110.34 L207.90 109.94 L208.00 109.54 L208.10 109.14 L208.21 108.74 L208.31 108.35 L208.42 107.95 L208.52 107.55 L208.63 107.15 L208.74 106.75 L208.85 106.36 L208.96 105.96 L209.07 105.56 L209.18 105.16 L209.29 104.77 L209.40 104.37 L209.51 103.98 L209.62 103.58 L209.73 103.18 L209.85 102.79 L209.96 102.39 L210.08 102.00 L210.19 101.60 L210.31 101.21 L210.43 100.81 L210.54 100.42 L210.66 100.03 L210.78 99.63 L210.90 99.24 L211.02 98.85 L211.14 98.45 L211.26 98.06 L211.38 97.67 L211.51 97.28 L211.63 96.88 L211.75 96.49 L211.88 96.10 L212.00 95.71 L212.13 95.32 L212.26 94.93 L212.38 94.54 L212.51 94.15 L212.64 93.76 L212.77 93.37 L212.90 92.99 L213.03 92.60 L213.16 92.21 L213.30 91.82 L213.43 91.44 L213.56 91.05 L213.69 90.66 L213.83 90.28 L213.96 89.89 L214.10 89.50 L214.23 89.12 L214.37 88.73 L214.51 88.35 L214.64 87.96 L214.78 87.57 L214.92 87.19 L215.05 86.80 L215.19 86.42 L215.33 86.03 L215.47 85.65 L215.60 85.26 L215.74 84.88 L215.88 84.49 L216.02 84.11 L216.16 83.72 L216.30 83.34 L216.44 82.95 L216.58 82.56 L216.71 82.18 L216.85 81.79 L216.99 81.41 L217.13 81.02 L217.27 80.64 L217.41 80.25 L217.55 79.86 L217.69 79.48 L217.83 79.09 L217.97 78.70 L218.11 78.32 L218.25 77.93 L218.39 77.54 L218.53 77.16 L218.67 76.77 L218.81 76.38 L218.95 76.00 L219.09 75.61 L219.23 75.22 L219.37 74.83 L219.51 74.45 L219.65 74.06 L219.80 73.67 L219.94 73.29 L220.08 72.90 L220.23 72.51 L220.37 72.13 L220.52 71.74 L220.66 71.36 L220.81 70.97 L220.95 70.59 L221.10 70.20 L221.25 69.82 L221.40 69.43 L221.55 69.05 L221.70 68.66 L221.85 68.28 L222.00 67.90 L222.16 67.51 L222.31 67.13 L222.47 66.75 L222.62 66.37 L222.78 65.98 L222.94 65.60 L223.10 65.22 L223.26 64.84 L223.42 64.46 L223.59 64.08 L223.75 63.71 L223.92 63.33 L224.09 62.95 L224.25 62.57 L224.42 62.20 L224.60 61.82 L224.77 61.45 L224.94 61.07 L225.12 60.70 L225.30 60.33 L225.47 59.96 L225.65 59.58 L225.84 59.21 L226.02 58.84 L226.21 58.48 L226.39 58.11 L226.58 57.74 L226.77 57.38 L226.96 57.01 L227.16 56.65 L227.35 56.28 L227.55 55.92 L227.75 55.56 L227.95 55.20 L228.16 54.84 L228.36 54.48 L228.57 54.13 L228.78 53.77 L228.99 53.42 L229.20 53.07 L229.42 52.71 L229.63 52.36 L229.85 52.02 L230.07 51.67 L230.30 51.32 L230.52 50.98 L230.75 50.64 L230.98 50.30 L231.22 49.96 L231.45 49.62 L231.69 49.28 L231.93 48.95 L232.17 48.62 L232.42 48.29 L232.67 47.96 L232.92 47.64 L233.18 47.32 L233.43 47.00 L233.70 46.68 L233.96 46.37 L234.23 46.06 L234.50 45.75 L234.78 45.45 L235.06 45.15 L235.34 44.85 L235.63 44.56 L235.92 44.27 L236.22 43.99 L236.52 43.71 L236.82 43.43 L237.13 43.16 L237.44 42.90 L237.76 42.64 L238.08 42.38 L238.41 42.14 L238.74 41.90 L239.08 41.66 L239.42 41.43 L239.77 41.21 L240.12 41.00 L240.47 40.80 L240.84 40.60 L241.20 40.41 L241.57 40.23 L241.95 40.07 L242.33 39.91 L242.71 39.76 L243.10 39.62 L243.49 39.50 L243.89 39.38 L244.29 39.28 L244.69 39.20 L245.10 39.13 L245.51 39.07 L245.92 39.03 L246.33 39.01 L246.74 39.00 L247.66 39.04 L248.56 39.17 L249.46 39.37 L250.33 39.64 L251.19 39.96 L252.03 40.32 L252.85 40.73 L253.65 41.17 L254.44 41.64 L255.22 42.13 L255.97 42.64 L256.72 43.18 L257.44 43.73 L258.15 44.31 L258.85 44.90 L259.53 45.51 L260.20 46.13 L260.85 46.76 L261.50 47.41 L262.12 48.07 L262.74 48.74 L263.35 49.42 L263.95 50.10 L264.53 50.80 L265.11 51.50 L265.68 52.21 L266.25 52.93 L266.80 53.65 L267.35 54.38 L267.89 55.11 L268.43 55.85 L268.96 56.59 L269.49 57.33 L270.01 58.08 L270.53 58.83 L271.04 59.59 L271.55 60.35 L272.05 61.11 L272.55 61.88 L273.04 62.64 L273.53 63.41 L274.02 64.19 L274.51 64.96 L274.99 65.74 L275.46 66.52 L275.94 67.30 L276.41 68.09 L276.87 68.87 L277.34 69.66 L277.80 70.45 L278.26 71.24 L278.72 72.04 L279.17 72.83 L279.62 73.63 L280.07 74.43 L280.52 75.23 L280.96 76.03 L281.40 76.83 L281.84 77.63 L282.28 78.44 L282.71 79.25 L283.14 80.06 L283.57 80.86 L284.00 81.68 L284.42 82.49 L284.84 83.30 L285.26 84.12 L285.68 84.93 L286.10 85.75 L286.51 86.57 L286.92 87.39 L287.33 88.21 L287.73 89.03 L288.13 89.85 L288.54 90.68 L288.94 91.50 L289.33 92.33 L289.73 93.15 L290.12 93.98 L290.51 94.81 L290.90 95.64 L291.28 96.47 L291.67 97.30 L292.05 98.13 L292.43 98.97 L292.81 99.80 L293.19 100.64 L293.56 101.47 L293.92 102.33 L294.28 103.20 L294.64 104.06 L295.00 104.93 L295.35 105.80 L295.71 106.67 L296.06 107.53 L296.41 108.40 L296.76 109.27 L297.10 110.14 L297.45 111.02 L297.79 111.89 L298.14 112.76 L298.48 113.63 L298.82 114.51 L299.15 115.38 L299.49 116.26 L299.82 117.13 L300.16 118.01 L300.49 118.88 L300.82 119.76 L301.14 120.64 L301.47 121.52 L301.79 122.40 L302.12 123.28 L302.44 124.16 L302.76 125.04 L303.07 125.92 L303.39 126.80 L303.70 127.68 L304.01 128.57 L304.32 129.45 L304.63 130.34 L304.93 131.22 L305.24 132.11 L305.54 133.00 L305.84 133.88 L306.14 134.77 L306.44 135.66 L306.74 136.55 L307.03 137.44 L307.32 138.33 L307.62 139.22 L307.91 140.11 L308.20 141.00 L308.49 141.89 L308.77 142.78 L309.06 143.67 L309.35 144.56 L309.63 145.46 L309.91 146.35 L310.20 147.24 L310.48 148.13 L310.76 149.03 L311.04 149.92 L311.32 150.81 L311.60 151.71 L311.87 152.60 L312.15 153.50 L312.43 154.39 L312.70 155.28 L312.98 156.18 L313.26 157.07 L313.53 157.97 L313.81 158.86 L314.08 159.75 L314.36 160.65 L314.63 161.54 L314.90 162.44 L315.18 163.33 L315.45 164.23 L315.73 165.12 L316.00 166.01 L316.27 166.91 L316.55 167.80 L316.82 168.70 L317.09 169.59 L317.37 170.48 L317.64 171.38 L317.91 172.27 L318.18 173.17 L318.46 174.06 L318.73 174.95 L319.00 175.85 L319.28 176.74 L319.55 177.63 L319.82 178.53 L320.09 179.42 L320.37 180.31 L320.64 181.21 L320.91 182.10 L321.19 182.99 L321.46 183.88 L321.73 184.78 L322.01 185.67 L322.28 186.56 L322.55 187.45 L322.83 188.34 L323.10 189.23 L323.38 190.13 L323.65 191.02 L323.93 191.91 L324.20 192.80 L324.48 193.69 L324.75 194.58 L325.03 195.47 L325.31 196.36 L325.58 197.25 L325.86 198.14 L326.14 199.03 L326.42 199.92 L326.70 200.81 L326.98 201.70 L327.26 202.58 L327.54 203.46 L327.83 204.32 L328.12 205.19 L328.41 206.05 L328.71 206.91 L329.00 207.78 L329.29 208.64 L329.58 209.50 L329.88 210.37 L330.17 211.23 L330.47 212.09 L330.77 212.95 L331.06 213.81 L331.36 214.68 L331.66 215.54 L331.96 216.40 L332.26 217.26 L332.56 218.12 L332.86 218.98 L333.16 219.84 L333.47 220.70 L333.77 221.56 L334.08 222.41 L334.38 223.27 L334.69 224.13 L335.00 224.99 L335.31 225.84 L335.62 226.70 L335.93 227.56 L336.24 228.41 L336.55 229.27 L336.87 230.12 L337.18 230.98 L337.50 231.83 L337.81 232.69 L338.13 233.54 L338.45 234.39 L338.77 235.25 L339.10 236.10 L339.42 236.95 L339.74 237.80 L340.07 238.65 L340.39 239.50 L340.72 240.35 L341.05 241.20 L341.38 242.05 L341.71 242.90 L342.05 243.75 L342.38 244.59 L342.72 245.44 L343.05 246.29 L343.39 247.13 L343.73 247.98 L344.07 248.82 L344.42 249.67 L344.76 250.51 L345.11 251.35 L345.46 252.19 L345.81 253.03 L346.16 253.87 L346.51 254.70 L346.86 255.54 L347.22 256.37 L347.58 257.20 L347.94 258.04 L348.30 258.87 L348.66 259.70 L349.02 260.53 L349.39 261.36 L349.76 262.19 L350.12 263.02 L350.49 263.85 L350.87 264.68 L351.24 265.50 L351.62 266.33 L351.99 267.16 L352.37 267.98 L352.75 268.80 L353.13 269.63 L353.52 270.45 L353.90 271.27 L354.29 272.09 L354.68 272.91 L355.07 273.73 L355.47 274.55 L355.86 275.37 L356.26 276.18 L356.66 277.00 L357.06 277.81 L357.46 278.63 L357.87 279.44 L358.28 280.25 L358.69 281.06 L359.10 281.87 L359.51 282.68 L359.93 283.49 L360.35 284.30 L360.77 285.10 L361.19 285.91 L361.61 286.71 L362.04 287.51 L362.47 288.32 L362.90 289.12 L363.34 289.91 L363.78 290.71 L364.22 291.50 L364.66 292.30 L365.11 293.09 L365.56 293.88 L366.02 294.66 L366.48 295.45 L366.94 296.23 L367.41 297.01 L367.89 297.78 L368.36 298.56 L368.85 299.33 L369.33 300.09 L369.83 300.86 L370.32 301.62 L370.83 302.38 L371.33 303.13 L371.85 303.88 L372.37 304.62 L372.89 305.36 L373.42 306.10 L373.96 306.83 L374.50 307.56 L375.05 308.28 L375.61 309.00 L376.16 309.71 L376.73 310.41 L377.30 311.11 L377.88 311.80 L378.46 312.49 L379.05 313.18 L379.64 313.86 L380.24 314.53 L380.84 315.20 L381.45 315.86 L382.06 316.52 L382.68 317.18 L383.30 317.83 L383.93 318.48 L384.56 319.12 L385.19 319.75 L385.83 320.39 L386.47 321.01 L387.12 321.64 L387.77 322.26 L388.43 322.87 L389.09 323.48 L389.75 324.08 L390.42 324.69 L391.10 325.28 L391.77 325.87 L392.45 326.46 L393.14 327.04 L393.82 327.62 L394.52 328.20 L395.21 328.77 L395.91 329.33 L396.61 329.89 L397.32 330.45 L398.03 331.00 L398.74 331.55 L399.46 332.09 L400.18 332.63 L400.91 333.17 L401.63 333.70 L402.36 334.23 L403.10 334.75 L403.83 335.27 L404.58 335.78 L405.32 336.29 L406.07 336.80 L406.82 337.30 L407.57 337.80 L408.33 338.29 L409.09 338.78 L409.85 339.27 L410.62 339.75 L411.38 340.23 L412.16 340.70 L412.93 341.17 L413.71 341.63 L414.49 342.09 L415.27 342.54 L416.06 342.99 L416.85 343.44 L417.64 343.88 L418.44 344.32 L419.23 344.75 L420.04 345.18 L420.84 345.60 L421.64 346.02 L422.45 346.44 L423.26 346.85 L424.08 347.25 L424.89 347.65 L425.71 348.05 L426.53 348.44 L427.35 348.83 L428.18 349.21 L429.01 349.59 L429.84 349.96 L430.67 350.33 L431.50 350.69 L432.34 351.05 L433.18 351.41 L434.02 351.75 L434.86 352.10 L435.71 352.44 L436.56 352.77 L437.41 353.10 L438.26 353.42 L439.11 353.74 L439.97 354.06 L440.83 354.37 L441.69 354.67 L442.55 354.97 L443.42 355.26 L444.28 355.55 L445.15 355.84 L446.02 356.11 L446.89 356.38 L447.76 356.65 L448.64 356.91 L449.52 357.17 L450.39 357.42 L451.27 357.67 L452.15 357.91 L453.04 358.14 L453.92 358.37 L454.81 358.60 L455.69 358.82 L456.58 359.03 L457.47 359.24 L458.36 359.45 L459.25 359.65 L460.15 359.84 L461.04 360.03 L461.93 360.22 L462.83 360.40 L463.73 360.58 L464.62 360.75 L465.52 360.92 L466.42 361.08 L467.32 361.24 L468.22 361.40 L469.13 361.55 L470.03 361.69 L470.93 361.84 L471.83 361.98 L472.74 362.11 L473.64 362.24 L474.55 362.37 L475.46 362.50 L476.36 362.62 L477.27 362.74 L478.18 362.85 L479.08 362.96 L479.99 363.07 L480.90 363.18 L481.81 363.28 L482.72 363.38 L483.63 363.48 L484.54 363.57 L485.45 363.67 L486.36 363.76 L487.27 363.84 L488.18 363.93 L489.09 364.01 L490.00 364.09 L490.91 364.17 L491.83 364.25 L492.74 364.33 L493.65 364.40 L494.56 364.48 L495.48 364.55 L496.39 364.62 L497.30 364.69 L498.21 364.76 L499.13 364.83 L500.04 364.89 L500.95 364.96 L501.86 365.02 L502.78 365.09 L503.69 365.15 L504.60 365.22 L505.52 365.28 L506.43 365.34 L507.34 365.41 L508.26 365.47 L509.17 365.53 L510.08 365.59 L511.00 365.66 L511.91 365.72 L512.82 365.78 L513.74 365.85 L514.65 365.91 L515.57 365.98 L516.48 366.05 L517.39 366.12 L518.30 366.18 L519.22 366.25 L520.13 366.32 L521.04 366.40 L521.96 366.47 L522.87 366.55 L523.78 366.62 L524.69 366.70 L525.61 366.78 L526.52 366.86 L527.43 366.95 L528.34 367.03 L529.26 367.12 L530.17 367.21" stroke="rgb(243, 131, 80)" />
<path d="M203.02 132.10 L203.10 131.69 L203.18 131.28 L203.26 130.86 L203.35 130.45 L203.43 130.04 L203.51 129.62 L203.60 129.21 L203.68 128.80 L203.77 128.38 L203.85 127.97 L203.94 127.56 L204.02 127.14 L204.11 126.73 L204.20 126.32 L204.28 125.91 L204.37 125.49 L204.46 125.08 L204.54 124.67 L204.63 124.26 L204.72 123.84 L204.81 123.43 L204.90 123.02 L204.99 122.61 L205.08 122.19 L205.17 121.78 L205.26 121.37 L205.35 120.96 L205.44 120.55 L205.53 120.14 L205.63 119.72 L205.72 119.31 L205.81 118.90 L205.90 118.49 L206.00 118.08 L206.09 117.67 L206.19 117.26 L206.28 116.85 L206.38 116.44 L206.48 116.03 L206.57 115.62 L206.67 115.21 L206.77 114.80 L206.86 114.39 L206.96 113.98 L207.06 113.57 L207.16 113.16 L207.26 112.75 L207.36 112.34 L207.46 111.93 L207.56 111.52 L207.66 111.11 L207.77 110.70 L207.87 110.29 L207.97 109.88 L208.08 109.48 L208.18 109.07 L208.29 108.66 L208.39 108.25 L208.50 107.84 L208.60 107.44 L208.71 107.03 L208.82 106.62 L208.93 106.22 L209.04 105.81 L209.14 105.40 L209.25 105.00 L209.37 104.59 L209.48 104.18 L209.59 103.78 L209.70 103.37 L209.81 102.97 L209.93 102.56 L210.04 102.16 L210.15 101.75 L210.27 101.35 L210.38 100.94 L210.50 100.54 L210.62 100.13 L210.73 99.73 L210.85 99.33 L210.97 98.92 L211.09 98.52 L211.21 98.12 L211.33 97.72 L211.45 97.32 L211.57 96.91 L211.69 96.51 L211.82 96.11 L211.94 95.71 L212.06 95.31 L212.19 94.91 L212.31 94.51 L212.44 94.11 L212.57 93.71 L212.69 93.31 L212.82 92.91 L212.95 92.51 L213.08 92.11 L213.21 91.71 L213.34 91.32 L213.47 90.92 L213.60 90.52 L213.73 90.12 L213.86 89.73 L214.00 89.33 L214.13 88.93 L214.26 88.54 L214.40 88.14 L214.53 87.74 L214.67 87.35 L214.80 86.95 L214.94 86.55 L215.07 86.16 L215.21 85.76 L215.34 85.37 L215.48 84.97 L215.61 84.58 L215.75 84.18 L215.89 83.78 L216.03 83.39 L216.16 82.99 L216.30 82.60 L216.44 82.20 L216.57 81.81 L216.71 81.41 L216.85 81.01 L216.99 80.62 L217.13 80.22 L217.27 79.83 L217.40 79.43 L217.54 79.03 L217.68 78.64 L217.82 78.24 L217.96 77.84 L218.10 77.45 L218.24 77.05 L218.38 76.65 L218.52 76.26 L218.66 75.86 L218.80 75.46 L218.94 75.07 L219.08 74.67 L219.22 74.27 L219.36 73.88 L219.50 73.48 L219.65 73.09 L219.79 72.69 L219.93 72.29 L220.08 71.90 L220.22 71.50 L220.37 71.11 L220.52 70.71 L220.66 70.32 L220.81 69.92 L220.96 69.53 L221.11 69.13 L221.26 68.74 L221.41 68.35 L221.56 67.95 L221.72 67.56 L221.87 67.17 L222.02 66.78 L222.18 66.38 L222.34 65.99 L222.49 65.60 L222.65 65.21 L222.81 64.82 L222.97 64.43 L223.14 64.04 L223.30 63.65 L223.46 63.27 L223.63 62.88 L223.80 62.49 L223.97 62.11 L224.14 61.72 L224.31 61.33 L224.48 60.95 L224.65 60.57 L224.83 60.18 L225.01 59.80 L225.19 59.42 L225.37 59.04 L225.55 58.66 L225.73 58.28 L225.92 57.90 L226.10 57.52 L226.29 57.14 L226.48 56.77 L226.67 56.39 L226.86 56.02 L227.06 55.64 L227.26 55.27 L227.46 54.90 L227.66 54.53 L227.86 54.16 L228.06 53.79 L228.27 53.42 L228.48 53.06 L228.69 52.69 L228.90 52.33 L229.11 51.96 L229.33 51.60 L229.55 51.24 L229.77 50.88 L229.99 50.52 L230.21 50.17 L230.44 49.81 L230.66 49.46 L230.90 49.11 L231.13 48.76 L231.36 48.41 L231.60 48.06 L231.84 47.72 L232.08 47.38 L232.33 47.03 L232.58 46.70 L232.83 46.36 L233.08 46.03 L233.34 45.69 L233.60 45.37 L233.87 45.04 L234.14 44.72 L234.41 44.40 L234.68 44.08 L234.96 43.77 L235.24 43.46 L235.53 43.15 L235.82 42.85 L236.12 42.55 L236.42 42.26 L236.72 41.97 L237.03 41.68 L237.34 41.40 L237.66 41.13 L237.98 40.86 L238.31 40.60 L238.64 40.34 L238.97 40.09 L239.32 39.85 L239.66 39.61 L240.01 39.38 L240.37 39.16 L240.73 38.95 L241.10 38.74 L241.47 38.55 L241.85 38.36 L242.23 38.19 L242.62 38.02 L243.01 37.87 L243.41 37.73 L243.81 37.60 L244.21 37.48 L244.62 37.38 L245.03 37.29 L245.45 37.21 L245.87 37.15 L246.29 37.11 L246.71 37.09 L247.13 37.08 L248.05 37.12 L248.95 37.25 L249.85 37.46 L250.72 37.73 L251.58 38.06 L252.42 38.43 L253.24 38.84 L254.05 39.28 L254.84 39.75 L255.61 40.24 L256.37 40.75 L257.12 41.29 L257.85 41.84 L258.57 42.41 L259.27 43.00 L259.96 43.60 L260.64 44.22 L261.30 44.85 L261.95 45.49 L262.59 46.15 L263.22 46.81 L263.84 47.48 L264.44 48.16 L265.04 48.86 L265.63 49.55 L266.21 50.26 L266.78 50.97 L267.35 51.69 L267.91 52.41 L268.46 53.14 L269.01 53.87 L269.55 54.61 L270.09 55.35 L270.62 56.10 L271.14 56.84 L271.66 57.60 L272.18 58.35 L272.69 59.11 L273.20 59.88 L273.70 60.64 L274.20 61.41 L274.69 62.18 L275.19 62.95 L275.67 63.73 L276.16 64.51 L276.64 65.29 L277.12 66.07 L277.59 66.86 L278.06 67.65 L278.53 68.44 L278.99 69.23 L279.45 70.02 L279.91 70.82 L280.37 71.61 L280.82 72.41 L281.27 73.21 L281.72 74.01 L282.16 74.82 L282.60 75.62 L283.04 76.43 L283.48 77.24 L283.91 78.05 L284.34 78.86 L284.77 79.67 L285.20 80.49 L285.62 81.30 L286.04 82.12 L286.46 82.94 L286.87 83.76 L287.29 84.58 L287.70 85.40 L288.10 86.22 L288.51 87.05 L288.91 87.87 L289.31 88.70 L289.71 89.53 L290.11 90.36 L290.50 91.19 L290.89 92.02 L291.28 92.85 L291.67 93.68 L292.05 94.51 L292.43 95.35 L292.81 96.19 L293.19 97.02 L293.57 97.86 L293.94 98.70 L294.32 99.54 L294.68 100.40 L295.04 101.27 L295.39 102.14 L295.74 103.02 L296.10 103.89 L296.45 104.76 L296.80 105.64 L297.14 106.51 L297.49 107.39 L297.83 108.26 L298.17 109.14 L298.51 110.02 L298.85 110.89 L299.19 111.77 L299.53 112.65 L299.86 113.53 L300.20 114.41 L300.53 115.29 L300.86 116.17 L301.19 117.05 L301.51 117.94 L301.84 118.82 L302.16 119.70 L302.49 120.59 L302.81 121.47 L303.12 122.36 L303.44 123.24 L303.76 124.13 L304.07 125.02 L304.38 125.90 L304.69 126.79 L305.00 127.68 L305.31 128.57 L305.61 129.46 L305.91 130.35 L306.22 131.24 L306.52 132.13 L306.82 133.02 L307.11 133.92 L307.41 134.81 L307.70 135.70 L308.00 136.60 L308.29 137.49 L308.58 138.38 L308.87 139.28 L309.16 140.17 L309.44 141.07 L309.73 141.97 L310.02 142.86 L310.30 143.76 L310.58 144.65 L310.86 145.55 L311.15 146.45 L311.43 147.34 L311.71 148.24 L311.99 149.14 L312.26 150.04 L312.54 150.93 L312.82 151.83 L313.09 152.73 L313.37 153.63 L313.65 154.53 L313.92 155.43 L314.20 156.32 L314.47 157.22 L314.74 158.12 L315.02 159.02 L315.29 159.92 L315.57 160.81 L315.84 161.71 L316.11 162.61 L316.38 163.51 L316.66 164.41 L316.93 165.31 L317.20 166.20 L317.47 167.10 L317.74 168.00 L318.01 168.90 L318.29 169.80 L318.56 170.70 L318.83 171.59 L319.10 172.49 L319.37 173.39 L319.64 174.29 L319.91 175.18 L320.18 176.08 L320.45 176.98 L320.72 177.88 L320.99 178.78 L321.27 179.67 L321.54 180.57 L321.81 181.47 L322.08 182.36 L322.35 183.26 L322.62 184.16 L322.89 185.05 L323.16 185.95 L323.43 186.85 L323.71 187.74 L323.98 188.64 L324.25 189.53 L324.52 190.43 L324.79 191.33 L325.07 192.22 L325.34 193.12 L325.61 194.01 L325.89 194.91 L326.16 195.80 L326.43 196.69 L326.71 197.59 L326.98 198.48 L327.26 199.38 L327.53 200.27 L327.81 201.16 L328.09 202.04 L328.38 202.91 L328.67 203.78 L328.96 204.64 L329.25 205.51 L329.53 206.38 L329.82 207.24 L330.11 208.11 L330.41 208.97 L330.70 209.84 L330.99 210.71 L331.28 211.57 L331.58 212.44 L331.87 213.30 L332.16 214.16 L332.46 215.03 L332.76 215.89 L333.05 216.76 L333.35 217.62 L333.65 218.48 L333.95 219.35 L334.25 220.21 L334.55 221.07 L334.86 221.93 L335.16 222.79 L335.46 223.65 L335.77 224.51 L336.07 225.37 L336.38 226.23 L336.69 227.09 L337.00 227.95 L337.31 228.81 L337.62 229.67 L337.93 230.53 L338.24 231.39 L338.56 232.24 L338.87 233.10 L339.19 233.96 L339.51 234.81 L339.83 235.67 L340.15 236.52 L340.47 237.38 L340.79 238.23 L341.12 239.08 L341.44 239.94 L341.77 240.79 L342.10 241.64 L342.43 242.49 L342.76 243.35 L343.09 244.20 L343.42 245.05 L343.76 245.90 L344.09 246.74 L344.43 247.59 L344.77 248.44 L345.11 249.29 L345.45 250.13 L345.80 250.98 L346.14 251.82 L346.49 252.66 L346.84 253.50 L347.19 254.33 L347.54 255.17 L347.90 256.01 L348.25 256.84 L348.61 257.68 L348.97 258.51 L349.33 259.35 L349.69 260.18 L350.06 261.02 L350.42 261.85 L350.79 262.68 L351.16 263.51 L351.53 264.34 L351.90 265.17 L352.28 266.00 L352.65 266.83 L353.03 267.65 L353.41 268.48 L353.79 269.31 L354.17 270.13 L354.56 270.96 L354.95 271.78 L355.33 272.60 L355.73 273.42 L356.12 274.24 L356.51 275.06 L356.91 275.88 L357.31 276.70 L357.71 277.52 L358.12 278.33 L358.52 279.15 L358.93 279.96 L359.34 280.77 L359.75 281.59 L360.16 282.40 L360.58 283.21 L361.00 284.01 L361.42 284.82 L361.84 285.63 L362.27 286.43 L362.70 287.24 L363.13 288.04 L363.56 288.84 L364.00 289.64 L364.44 290.44 L364.89 291.23 L365.33 292.02 L365.78 292.82 L366.24 293.61 L366.70 294.39 L367.16 295.18 L367.63 295.96 L368.10 296.74 L368.58 297.52 L369.06 298.29 L369.54 299.06 L370.03 299.83 L370.53 300.59 L371.03 301.35 L371.53 302.11 L372.04 302.86 L372.56 303.61 L373.08 304.36 L373.61 305.10 L374.14 305.84 L374.68 306.57 L375.22 307.30 L375.77 308.02 L376.32 308.74 L376.89 309.45 L377.45 310.15 L378.02 310.85 L378.60 311.55 L379.18 312.24 L379.77 312.93 L380.36 313.61 L380.95 314.29 L381.56 314.96 L382.16 315.63 L382.77 316.29 L383.39 316.95 L384.01 317.61 L384.63 318.26 L385.26 318.91 L385.89 319.55 L386.53 320.19 L387.17 320.82 L387.81 321.45 L388.46 322.07 L389.12 322.69 L389.77 323.31 L390.44 323.92 L391.10 324.53 L391.77 325.13 L392.44 325.73 L393.12 326.32 L393.80 326.91 L394.49 327.50 L395.18 328.08 L395.87 328.66 L396.57 329.23 L397.27 329.80 L397.97 330.36 L398.68 330.92 L399.39 331.48 L400.11 332.03 L400.82 332.58 L401.55 333.12 L402.27 333.66 L403.00 334.19 L403.73 334.72 L404.47 335.25 L405.21 335.77 L405.95 336.28 L406.70 336.80 L407.45 337.31 L408.20 337.81 L408.95 338.31 L409.71 338.80 L410.48 339.30 L411.24 339.78 L412.01 340.26 L412.78 340.74 L413.56 341.21 L414.33 341.68 L415.12 342.15 L415.90 342.61 L416.69 343.06 L417.48 343.51 L418.27 343.96 L419.06 344.40 L419.86 344.83 L420.66 345.27 L421.47 345.69 L422.27 346.12 L423.08 346.53 L423.90 346.95 L424.71 347.36 L425.53 347.76 L426.35 348.16 L427.17 348.55 L427.99 348.94 L428.82 349.32 L429.65 349.70 L430.48 350.08 L431.32 350.45 L432.15 350.81 L432.99 351.17 L433.83 351.53 L434.68 351.88 L435.52 352.22 L436.37 352.56 L437.22 352.90 L438.07 353.22 L438.93 353.55 L439.78 353.87 L440.64 354.18 L441.50 354.49 L442.37 354.79 L443.23 355.09 L444.10 355.38 L444.97 355.67 L445.84 355.95 L446.71 356.23 L447.58 356.50 L448.46 356.76 L449.34 357.02 L450.22 357.27 L451.10 357.52 L451.98 357.76 L452.87 358.00 L453.75 358.23 L454.64 358.46 L455.53 358.68 L456.42 358.90 L457.31 359.11 L458.20 359.32 L459.09 359.52 L459.99 359.72 L460.88 359.91 L461.78 360.10 L462.68 360.28 L463.58 360.46 L464.48 360.63 L465.38 360.80 L466.28 360.97 L467.18 361.13 L468.08 361.28 L468.99 361.43 L469.89 361.58 L470.80 361.73 L471.70 361.87 L472.61 362.00 L473.52 362.14 L474.42 362.26 L475.33 362.39 L476.24 362.51 L477.15 362.63 L478.06 362.75 L478.97 362.86 L479.88 362.97 L480.79 363.07 L481.70 363.18 L482.61 363.28 L483.52 363.38 L484.43 363.47 L485.35 363.57 L486.26 363.66 L487.17 363.75 L488.09 363.83 L489.00 363.92 L489.91 364.00 L490.83 364.08 L491.74 364.16 L492.65 364.24 L493.57 364.31 L494.48 364.39 L495.40 364.46 L496.31 364.53 L497.23 364.60 L498.14 364.67 L499.06 364.74 L499.97 364.81 L500.89 364.87 L501.80 364.94 L502.72 365.01 L503.63 365.07 L504.55 365.14 L505.46 365.20 L506.38 365.26 L507.29 365.33 L508.21 365.39 L509.12 365.46 L510.04 365.52 L510.96 365.59 L511.87 365.65 L512.79 365.72 L513.70 365.78 L514.62 365.85 L515.53 365.92 L516.45 365.99 L517.36 366.06 L518.28 366.13 L519.19 366.20 L520.11 366.27 L521.02 366.35 L521.94 366.42 L522.85 366.50 L523.77 366.58 L524.68 366.66 L525.60 366.75 L526.51 366.83 L527.43 366.92 L528.34 367.01 L529.25 367.10 L530.17 367.19" stroke="rgb(242, 118, 61)" />
<path d="M203.02 132.49 L203.10 132.07 L203.19 131.65 L203.27 131.22 L203.36 130.80 L203.44 130.38 L203.53 129.96 L203.61 129.54 L203.70 129.12 L203.79 128.70 L203.87 128.28 L203.96 127.85 L204.05 127.43 L204.13 127.01 L204.22 126.59 L204.31 126.17 L204.40 125.75 L204.49 125.33 L204.58 124.91 L204.67 124.49 L204.76 124.07 L204.85 123.65 L204.94 123.23 L205.03 122.81 L205.12 122.39 L205.21 121.97 L205.31 121.55 L205.40 121.13 L205.49 120.71 L205.58 120.29 L205.68 119.87 L205.77 119.45 L205.87 119.03 L205.96 118.61 L206.06 118.19 L206.15 117.77 L206.25 117.35 L206.34 116.93 L206.44 116.52 L206.54 116.10 L206.63 115.68 L206.73 115.26 L206.83 114.84 L206.93 114.42 L207.03 114.01 L207.13 113.59 L207.23 113.17 L207.33 112.75 L207.43 112.33 L207.53 111.92 L207.63 111.50 L207.74 111.08 L207.84 110.66 L207.94 110.25 L208.05 109.83 L208.15 109.41 L208.25 109.00 L208.36 108.58 L208.46 108.16 L208.57 107.75 L208.68 107.33 L208.78 106.92 L208.89 106.50 L209.00 106.09 L209.11 105.67 L209.22 105.25 L209.33 104.84 L209.44 104.42 L209.55 104.01 L209.66 103.60 L209.77 103.18 L209.88 102.77 L210.00 102.35 L210.11 101.94 L210.22 101.53 L210.34 101.11 L210.45 100.70 L210.57 100.29 L210.68 99.87 L210.80 99.46 L210.92 99.05 L211.04 98.64 L211.15 98.22 L211.27 97.81 L211.39 97.40 L211.51 96.99 L211.63 96.58 L211.75 96.17 L211.87 95.76 L212.00 95.35 L212.12 94.94 L212.24 94.53 L212.37 94.12 L212.49 93.71 L212.62 93.30 L212.74 92.89 L212.87 92.48 L213.00 92.07 L213.12 91.67 L213.25 91.26 L213.38 90.85 L213.51 90.44 L213.64 90.04 L213.77 89.63 L213.90 89.22 L214.03 88.82 L214.16 88.41 L214.29 88.00 L214.42 87.60 L214.55 87.19 L214.69 86.78 L214.82 86.38 L214.95 85.97 L215.09 85.57 L215.22 85.16 L215.36 84.76 L215.49 84.35 L215.62 83.94 L215.76 83.54 L215.90 83.13 L216.03 82.73 L216.17 82.32 L216.30 81.92 L216.44 81.51 L216.57 81.11 L216.71 80.70 L216.85 80.30 L216.98 79.89 L217.12 79.49 L217.26 79.08 L217.40 78.67 L217.54 78.27 L217.67 77.86 L217.81 77.46 L217.95 77.05 L218.09 76.65 L218.23 76.24 L218.37 75.84 L218.51 75.43 L218.65 75.03 L218.79 74.62 L218.93 74.21 L219.07 73.81 L219.21 73.40 L219.36 73.00 L219.50 72.59 L219.64 72.19 L219.79 71.79 L219.93 71.38 L220.08 70.98 L220.22 70.57 L220.37 70.17 L220.52 69.77 L220.67 69.36 L220.81 68.96 L220.96 68.56 L221.12 68.16 L221.27 67.75 L221.42 67.35 L221.57 66.95 L221.73 66.55 L221.88 66.15 L222.04 65.75 L222.20 65.35 L222.36 64.95 L222.52 64.55 L222.68 64.15 L222.84 63.75 L223.00 63.36 L223.17 62.96 L223.33 62.56 L223.50 62.17 L223.67 61.77 L223.84 61.38 L224.01 60.98 L224.18 60.59 L224.36 60.20 L224.53 59.80 L224.71 59.41 L224.89 59.02 L225.07 58.63 L225.25 58.24 L225.43 57.85 L225.61 57.46 L225.80 57.07 L225.99 56.69 L226.18 56.30 L226.37 55.92 L226.56 55.53 L226.75 55.15 L226.95 54.77 L227.15 54.39 L227.35 54.00 L227.55 53.63 L227.75 53.25 L227.96 52.87 L228.16 52.49 L228.37 52.12 L228.58 51.74 L228.80 51.37 L229.01 51.00 L229.23 50.63 L229.44 50.26 L229.66 49.89 L229.89 49.52 L230.11 49.15 L230.34 48.79 L230.56 48.43 L230.79 48.06 L231.03 47.70 L231.26 47.34 L231.50 46.99 L231.74 46.63 L231.98 46.28 L232.23 45.93 L232.47 45.58 L232.72 45.23 L232.98 44.89 L233.24 44.54 L233.50 44.20 L233.76 43.86 L234.03 43.53 L234.30 43.20 L234.57 42.87 L234.85 42.54 L235.13 42.22 L235.41 41.90 L235.70 41.59 L236.00 41.27 L236.30 40.97 L236.60 40.66 L236.90 40.37 L237.22 40.07 L237.53 39.78 L237.85 39.50 L238.18 39.22 L238.51 38.95 L238.85 38.69 L239.19 38.43 L239.53 38.18 L239.89 37.93 L240.24 37.70 L240.61 37.47 L240.97 37.25 L241.35 37.04 L241.73 36.84 L242.11 36.65 L242.50 36.46 L242.89 36.29 L243.29 36.13 L243.69 35.99 L244.10 35.85 L244.51 35.73 L244.93 35.62 L245.35 35.53 L245.77 35.45 L246.20 35.39 L246.62 35.35 L247.05 35.32 L247.48 35.31 L248.40 35.36 L249.31 35.49 L250.21 35.70 L251.08 35.98 L251.94 36.31 L252.78 36.69 L253.60 37.10 L254.41 37.55 L255.20 38.02 L255.98 38.51 L256.74 39.02 L257.49 39.55 L258.23 40.11 L258.95 40.67 L259.66 41.26 L260.36 41.86 L261.04 42.47 L261.71 43.09 L262.37 43.73 L263.02 44.38 L263.66 45.04 L264.28 45.71 L264.90 46.38 L265.51 47.07 L266.11 47.76 L266.70 48.46 L267.28 49.17 L267.85 49.88 L268.42 50.60 L268.99 51.32 L269.54 52.05 L270.09 52.79 L270.64 53.53 L271.17 54.27 L271.71 55.02 L272.24 55.77 L272.76 56.52 L273.28 57.28 L273.79 58.04 L274.30 58.80 L274.81 59.57 L275.31 60.34 L275.81 61.11 L276.31 61.88 L276.80 62.66 L277.28 63.44 L277.77 64.22 L278.25 65.01 L278.72 65.80 L279.19 66.58 L279.66 67.38 L280.13 68.17 L280.59 68.96 L281.05 69.76 L281.51 70.56 L281.96 71.36 L282.41 72.16 L282.86 72.97 L283.30 73.78 L283.74 74.58 L284.18 75.39 L284.62 76.20 L285.05 77.02 L285.48 77.83 L285.91 78.65 L286.33 79.46 L286.75 80.28 L287.17 81.10 L287.59 81.93 L288.00 82.75 L288.41 83.57 L288.82 84.40 L289.22 85.22 L289.62 86.05 L290.02 86.88 L290.42 87.71 L290.82 88.54 L291.21 89.38 L291.60 90.21 L291.99 91.04 L292.37 91.88 L292.76 92.72 L293.14 93.56 L293.52 94.39 L293.89 95.23 L294.27 96.07 L294.64 96.92 L295.01 97.76 L295.37 98.63 L295.73 99.50 L296.08 100.38 L296.43 101.26 L296.78 102.13 L297.13 103.01 L297.47 103.89 L297.82 104.77 L298.16 105.65 L298.50 106.53 L298.84 107.41 L299.18 108.30 L299.51 109.18 L299.85 110.06 L300.18 110.95 L300.52 111.83 L300.85 112.71 L301.18 113.60 L301.50 114.49 L301.83 115.37 L302.16 116.26 L302.48 117.15 L302.80 118.03 L303.12 118.92 L303.44 119.81 L303.76 120.70 L304.07 121.59 L304.39 122.48 L304.70 123.37 L305.01 124.27 L305.32 125.16 L305.62 126.05 L305.93 126.94 L306.23 127.84 L306.54 128.73 L306.84 129.63 L307.14 130.52 L307.43 131.42 L307.73 132.31 L308.03 133.21 L308.32 134.11 L308.61 135.01 L308.91 135.90 L309.20 136.80 L309.49 137.70 L309.77 138.60 L310.06 139.50 L310.35 140.40 L310.63 141.30 L310.91 142.20 L311.20 143.10 L311.48 144.00 L311.76 144.90 L312.04 145.80 L312.32 146.70 L312.60 147.60 L312.88 148.50 L313.15 149.40 L313.43 150.30 L313.71 151.21 L313.98 152.11 L314.26 153.01 L314.53 153.91 L314.81 154.81 L315.08 155.72 L315.35 156.62 L315.63 157.52 L315.90 158.42 L316.17 159.32 L316.44 160.23 L316.72 161.13 L316.99 162.03 L317.26 162.93 L317.53 163.83 L317.80 164.74 L318.07 165.64 L318.34 166.54 L318.61 167.44 L318.88 168.34 L319.15 169.25 L319.42 170.15 L319.69 171.05 L319.96 171.95 L320.23 172.85 L320.50 173.76 L320.77 174.66 L321.03 175.56 L321.30 176.46 L321.57 177.36 L321.84 178.26 L322.11 179.17 L322.38 180.07 L322.65 180.97 L322.92 181.87 L323.18 182.77 L323.45 183.67 L323.72 184.57 L323.99 185.47 L324.26 186.37 L324.53 187.27 L324.80 188.17 L325.07 189.07 L325.34 189.97 L325.61 190.87 L325.88 191.77 L326.15 192.67 L326.42 193.57 L326.69 194.47 L326.96 195.37 L327.23 196.27 L327.50 197.16 L327.78 198.06 L328.05 198.96 L328.32 199.86 L328.60 200.74 L328.89 201.61 L329.17 202.48 L329.46 203.35 L329.74 204.22 L330.03 205.09 L330.31 205.96 L330.60 206.83 L330.89 207.70 L331.18 208.56 L331.47 209.43 L331.76 210.30 L332.05 211.17 L332.34 212.04 L332.63 212.90 L332.92 213.77 L333.22 214.64 L333.51 215.51 L333.80 216.37 L334.10 217.24 L334.40 218.10 L334.69 218.97 L334.99 219.83 L335.29 220.70 L335.59 221.56 L335.89 222.43 L336.19 223.29 L336.49 224.16 L336.80 225.02 L337.10 225.88 L337.41 226.74 L337.71 227.61 L338.02 228.47 L338.33 229.33 L338.64 230.19 L338.95 231.05 L339.26 231.91 L339.58 232.77 L339.89 233.63 L340.21 234.49 L340.52 235.35 L340.84 236.21 L341.16 237.06 L341.48 237.92 L341.80 238.78 L342.12 239.63 L342.45 240.49 L342.77 241.34 L343.10 242.20 L343.43 243.05 L343.76 243.90 L344.09 244.76 L344.42 245.61 L344.76 246.46 L345.09 247.31 L345.43 248.16 L345.77 249.01 L346.11 249.86 L346.45 250.70 L346.80 251.55 L347.14 252.39 L347.49 253.23 L347.84 254.07 L348.19 254.91 L348.55 255.75 L348.90 256.59 L349.26 257.43 L349.61 258.26 L349.97 259.10 L350.33 259.94 L350.70 260.77 L351.06 261.61 L351.43 262.44 L351.79 263.27 L352.16 264.11 L352.53 264.94 L352.91 265.77 L353.28 266.60 L353.66 267.43 L354.04 268.26 L354.42 269.08 L354.80 269.91 L355.19 270.74 L355.57 271.56 L355.96 272.39 L356.35 273.21 L356.75 274.03 L357.14 274.85 L357.54 275.67 L357.94 276.49 L358.34 277.31 L358.74 278.13 L359.15 278.95 L359.56 279.76 L359.97 280.58 L360.38 281.39 L360.80 282.20 L361.21 283.01 L361.63 283.82 L362.06 284.63 L362.48 285.44 L362.91 286.25 L363.34 287.05 L363.77 287.85 L364.21 288.65 L364.65 289.45 L365.09 290.25 L365.54 291.05 L365.99 291.84 L366.44 292.63 L366.90 293.42 L367.36 294.21 L367.83 295.00 L368.30 295.78 L368.77 296.56 L369.25 297.33 L369.73 298.11 L370.22 298.88 L370.71 299.65 L371.21 300.41 L371.71 301.17 L372.22 301.93 L372.73 302.68 L373.25 303.43 L373.77 304.18 L374.30 304.92 L374.84 305.66 L375.38 306.39 L375.92 307.12 L376.47 307.85 L377.03 308.56 L377.59 309.27 L378.15 309.98 L378.73 310.68 L379.30 311.38 L379.88 312.08 L380.47 312.77 L381.06 313.45 L381.65 314.13 L382.25 314.81 L382.86 315.48 L383.47 316.15 L384.08 316.81 L384.70 317.47 L385.32 318.13 L385.94 318.78 L386.58 319.43 L387.21 320.07 L387.85 320.71 L388.49 321.34 L389.14 321.97 L389.79 322.60 L390.45 323.22 L391.11 323.84 L391.77 324.45 L392.44 325.06 L393.11 325.66 L393.78 326.26 L394.46 326.86 L395.15 327.45 L395.83 328.04 L396.52 328.62 L397.22 329.20 L397.92 329.78 L398.62 330.35 L399.33 330.91 L400.04 331.47 L400.75 332.03 L401.47 332.58 L402.19 333.13 L402.91 333.68 L403.64 334.22 L404.37 334.75 L405.11 335.28 L405.84 335.81 L406.59 336.33 L407.33 336.85 L408.08 337.36 L408.83 337.87 L409.59 338.38 L410.35 338.88 L411.11 339.37 L411.87 339.87 L412.64 340.35 L413.42 340.83 L414.19 341.31 L414.97 341.78 L415.75 342.25 L416.54 342.71 L417.32 343.17 L418.11 343.63 L418.91 344.07 L419.70 344.52 L420.50 344.96 L421.31 345.39 L422.11 345.82 L422.92 346.25 L423.73 346.67 L424.54 347.08 L425.36 347.49 L426.18 347.90 L427.00 348.30 L427.82 348.69 L428.65 349.08 L429.48 349.47 L430.31 349.85 L431.14 350.22 L431.98 350.59 L432.82 350.96 L433.66 351.32 L434.50 351.67 L435.35 352.02 L436.20 352.37 L437.05 352.71 L437.90 353.04 L438.75 353.37 L439.61 353.69 L440.47 354.01 L441.33 354.32 L442.20 354.63 L443.06 354.93 L443.93 355.23 L444.80 355.52 L445.67 355.80 L446.54 356.08 L447.42 356.35 L448.30 356.62 L449.18 356.88 L450.06 357.14 L450.94 357.39 L451.82 357.64 L452.71 357.87 L453.60 358.11 L454.48 358.34 L455.37 358.56 L456.27 358.78 L457.16 358.99 L458.05 359.20 L458.95 359.41 L459.84 359.60 L460.74 359.80 L461.64 359.99 L462.54 360.17 L463.44 360.35 L464.34 360.52 L465.24 360.69 L466.15 360.86 L467.05 361.02 L467.95 361.18 L468.86 361.33 L469.77 361.48 L470.67 361.63 L471.58 361.77 L472.49 361.90 L473.40 362.04 L474.31 362.17 L475.22 362.29 L476.13 362.41 L477.04 362.53 L477.95 362.65 L478.86 362.76 L479.77 362.87 L480.69 362.98 L481.60 363.08 L482.51 363.19 L483.43 363.28 L484.34 363.38 L485.25 363.47 L486.17 363.57 L487.08 363.66 L488.00 363.74 L488.91 363.83 L489.83 363.91 L490.74 363.99 L491.66 364.07 L492.58 364.15 L493.49 364.23 L494.41 364.30 L495.32 364.38 L496.24 364.45 L497.16 364.52 L498.07 364.59 L498.99 364.66 L499.91 364.73 L500.83 364.80 L501.74 364.86 L502.66 364.93 L503.58 365.00 L504.49 365.06 L505.41 365.13 L506.33 365.19 L507.25 365.26 L508.16 365.32 L509.08 365.39 L510.00 365.45 L510.92 365.52 L511.83 365.59 L512.75 365.66 L513.67 365.72 L514.59 365.79 L515.50 365.86 L516.42 365.93 L517.34 366.00 L518.26 366.08 L519.17 366.15 L520.09 366.23 L521.01 366.30 L521.92 366.38 L522.84 366.46 L523.76 366.54 L524.67 366.63 L525.59 366.71 L526.51 366.80 L527.42 366.89 L528.34 366.98 L529.25 367.08 L530.17 367.17" stroke="rgb(240, 105, 43)" />
<path d="M203.02 132.74 L203.10 132.31 L203.19 131.88 L203.27 131.46 L203.36 131.03 L203.45 130.61 L203.54 130.18 L203.62 129.75 L203.71 129.33 L203.80 128.90 L203.89 128.47 L203.97 128.05 L204.06 127.62 L204.15 127.20 L204.24 126.77 L204.33 126.34 L204.42 125.92 L204.51 125.49 L204.60 125.07 L204.69 124.64 L204.78 124.21 L204.87 123.79 L204.97 123.36 L205.06 122.94 L205.15 122.51 L205.24 122.09 L205.34 121.66 L205.43 121.24 L205.52 120.81 L205.62 120.39 L205.71 119.96 L205.81 119.54 L205.90 119.11 L206.00 118.69 L206.09 118.26 L206.19 117.84 L206.28 117.42 L206.38 116.99 L206.48 116.57 L206.58 116.14 L206.67 115.72 L206.77 115.30 L206.87 114.87 L206.97 114.45 L207.07 114.02 L207.17 113.60 L207.27 113.18 L207.37 112.75 L207.47 112.33 L207.58 111.91 L207.68 111.49 L207.78 111.06 L207.88 110.64 L207.99 110.22 L208.09 109.80 L208.20 109.37 L208.30 108.95 L208.41 108.53 L208.51 108.11 L208.62 107.69 L208.72 107.26 L208.83 106.84 L208.94 106.42 L209.05 106.00 L209.16 105.58 L209.27 105.16 L209.37 104.74 L209.48 104.32 L209.60 103.90 L209.71 103.48 L209.82 103.06 L209.93 102.64 L210.04 102.22 L210.16 101.80 L210.27 101.38 L210.38 100.96 L210.50 100.54 L210.61 100.12 L210.73 99.70 L210.84 99.29 L210.96 98.87 L211.08 98.45 L211.20 98.03 L211.31 97.62 L211.43 97.20 L211.55 96.78 L211.67 96.36 L211.79 95.95 L211.91 95.53 L212.03 95.11 L212.16 94.70 L212.28 94.28 L212.40 93.87 L212.52 93.45 L212.65 93.04 L212.77 92.62 L212.90 92.21 L213.02 91.79 L213.15 91.38 L213.28 90.96 L213.40 90.55 L213.53 90.14 L213.66 89.72 L213.79 89.31 L213.92 88.90 L214.05 88.48 L214.18 88.07 L214.31 87.66 L214.44 87.25 L214.57 86.83 L214.70 86.42 L214.83 86.01 L214.97 85.60 L215.10 85.18 L215.23 84.77 L215.36 84.36 L215.50 83.95 L215.63 83.54 L215.77 83.13 L215.90 82.71 L216.03 82.30 L216.17 81.89 L216.30 81.48 L216.44 81.07 L216.57 80.66 L216.71 80.24 L216.85 79.83 L216.98 79.42 L217.12 79.01 L217.26 78.60 L217.39 78.19 L217.53 77.78 L217.67 77.36 L217.81 76.95 L217.94 76.54 L218.08 76.13 L218.22 75.72 L218.36 75.31 L218.50 74.90 L218.64 74.49 L218.78 74.07 L218.92 73.66 L219.07 73.25 L219.21 72.84 L219.35 72.43 L219.49 72.02 L219.64 71.61 L219.78 71.20 L219.93 70.79 L220.07 70.38 L220.22 69.97 L220.37 69.56 L220.52 69.15 L220.67 68.75 L220.82 68.34 L220.97 67.93 L221.12 67.52 L221.27 67.11 L221.43 66.71 L221.58 66.30 L221.74 65.89 L221.89 65.49 L222.05 65.08 L222.21 64.68 L222.37 64.27 L222.53 63.87 L222.69 63.47 L222.86 63.06 L223.02 62.66 L223.19 62.26 L223.36 61.86 L223.52 61.46 L223.69 61.05 L223.87 60.65 L224.04 60.26 L224.21 59.86 L224.39 59.46 L224.57 59.06 L224.74 58.66 L224.92 58.27 L225.10 57.87 L225.29 57.48 L225.47 57.08 L225.66 56.69 L225.85 56.30 L226.03 55.91 L226.23 55.51 L226.42 55.12 L226.61 54.73 L226.81 54.35 L227.01 53.96 L227.21 53.57 L227.41 53.19 L227.61 52.80 L227.81 52.42 L228.02 52.04 L228.23 51.65 L228.44 51.27 L228.65 50.89 L228.87 50.51 L229.08 50.14 L229.30 49.76 L229.52 49.39 L229.74 49.01 L229.96 48.64 L230.19 48.27 L230.42 47.90 L230.65 47.53 L230.88 47.16 L231.11 46.79 L231.35 46.43 L231.59 46.07 L231.83 45.71 L232.07 45.35 L232.32 44.99 L232.57 44.63 L232.82 44.28 L233.07 43.93 L233.33 43.58 L233.59 43.24 L233.86 42.89 L234.13 42.55 L234.40 42.21 L234.68 41.88 L234.95 41.55 L235.24 41.22 L235.52 40.89 L235.82 40.57 L236.11 40.26 L236.41 39.94 L236.72 39.63 L237.03 39.33 L237.34 39.03 L237.66 38.74 L237.98 38.45 L238.31 38.17 L238.64 37.89 L238.98 37.62 L239.33 37.36 L239.68 37.10 L240.03 36.85 L240.39 36.61 L240.76 36.38 L241.13 36.15 L241.51 35.94 L241.89 35.73 L242.28 35.53 L242.67 35.35 L243.07 35.17 L243.47 35.01 L243.88 34.86 L244.29 34.72 L244.71 34.60 L245.13 34.49 L245.55 34.39 L245.98 34.31 L246.41 34.25 L246.84 34.21 L247.28 34.18 L247.71 34.17 L248.63 34.22 L249.54 34.35 L250.44 34.56 L251.32 34.84 L252.18 35.18 L253.02 35.56 L253.84 35.97 L254.64 36.42 L255.43 36.89 L256.21 37.39 L256.98 37.90 L257.73 38.43 L258.47 38.98 L259.20 39.55 L259.91 40.13 L260.61 40.72 L261.30 41.33 L261.98 41.96 L262.64 42.59 L263.30 43.23 L263.94 43.89 L264.57 44.55 L265.19 45.23 L265.81 45.91 L266.41 46.60 L267.01 47.30 L267.60 48.00 L268.18 48.71 L268.76 49.43 L269.32 50.15 L269.89 50.88 L270.44 51.61 L270.99 52.35 L271.53 53.09 L272.07 53.84 L272.61 54.58 L273.14 55.34 L273.66 56.09 L274.18 56.85 L274.70 57.61 L275.21 58.38 L275.71 59.15 L276.22 59.92 L276.71 60.69 L277.21 61.47 L277.70 62.25 L278.19 63.03 L278.67 63.81 L279.15 64.60 L279.63 65.39 L280.10 66.18 L280.57 66.97 L281.03 67.77 L281.49 68.56 L281.95 69.36 L282.41 70.16 L282.86 70.97 L283.31 71.77 L283.76 72.58 L284.20 73.39 L284.64 74.20 L285.08 75.01 L285.51 75.82 L285.94 76.64 L286.37 77.46 L286.79 78.28 L287.21 79.10 L287.63 79.92 L288.05 80.74 L288.46 81.56 L288.87 82.39 L289.28 83.22 L289.68 84.05 L290.09 84.88 L290.49 85.71 L290.88 86.54 L291.28 87.37 L291.67 88.21 L292.06 89.04 L292.45 89.88 L292.83 90.72 L293.21 91.55 L293.59 92.39 L293.97 93.23 L294.35 94.08 L294.72 94.92 L295.09 95.76 L295.46 96.61 L295.82 97.48 L296.17 98.36 L296.52 99.24 L296.87 100.12 L297.22 101.00 L297.57 101.88 L297.91 102.76 L298.25 103.65 L298.59 104.53 L298.93 105.41 L299.27 106.30 L299.61 107.18 L299.94 108.07 L300.28 108.96 L300.61 109.84 L300.94 110.73 L301.27 111.62 L301.60 112.51 L301.92 113.40 L302.25 114.28 L302.57 115.17 L302.89 116.06 L303.21 116.96 L303.53 117.85 L303.85 118.74 L304.17 119.63 L304.48 120.52 L304.79 121.42 L305.10 122.31 L305.41 123.21 L305.72 124.10 L306.03 125.00 L306.33 125.89 L306.64 126.79 L306.94 127.69 L307.24 128.58 L307.54 129.48 L307.84 130.38 L308.13 131.28 L308.43 132.18 L308.72 133.08 L309.01 133.98 L309.30 134.88 L309.60 135.78 L309.88 136.68 L310.17 137.58 L310.46 138.48 L310.74 139.38 L311.03 140.28 L311.31 141.19 L311.60 142.09 L311.88 142.99 L312.16 143.89 L312.44 144.80 L312.72 145.70 L313.00 146.60 L313.27 147.51 L313.55 148.41 L313.83 149.32 L314.10 150.22 L314.38 151.12 L314.65 152.03 L314.93 152.93 L315.20 153.84 L315.48 154.74 L315.75 155.64 L316.02 156.55 L316.29 157.45 L316.57 158.36 L316.84 159.26 L317.11 160.17 L317.38 161.07 L317.65 161.98 L317.92 162.88 L318.19 163.79 L318.46 164.69 L318.73 165.60 L319.00 166.50 L319.27 167.40 L319.54 168.31 L319.80 169.21 L320.07 170.12 L320.34 171.02 L320.61 171.93 L320.88 172.83 L321.14 173.74 L321.41 174.64 L321.68 175.54 L321.95 176.45 L322.21 177.35 L322.48 178.26 L322.75 179.16 L323.01 180.06 L323.28 180.97 L323.55 181.87 L323.82 182.77 L324.08 183.68 L324.35 184.58 L324.62 185.48 L324.89 186.39 L325.15 187.29 L325.42 188.19 L325.69 189.10 L325.96 190.00 L326.23 190.90 L326.49 191.80 L326.76 192.70 L327.03 193.61 L327.30 194.51 L327.57 195.41 L327.84 196.31 L328.11 197.21 L328.38 198.11 L328.65 199.01 L328.93 199.90 L329.21 200.77 L329.49 201.64 L329.78 202.51 L330.06 203.38 L330.35 204.25 L330.63 205.13 L330.92 206.00 L331.20 206.87 L331.49 207.74 L331.78 208.61 L332.06 209.48 L332.35 210.35 L332.64 211.22 L332.93 212.09 L333.22 212.96 L333.51 213.83 L333.80 214.70 L334.10 215.56 L334.39 216.43 L334.68 217.30 L334.98 218.17 L335.27 219.03 L335.57 219.90 L335.87 220.77 L336.17 221.64 L336.47 222.50 L336.77 223.37 L337.07 224.23 L337.37 225.10 L337.67 225.96 L337.98 226.83 L338.28 227.69 L338.59 228.55 L338.90 229.42 L339.20 230.28 L339.51 231.14 L339.82 232.00 L340.14 232.87 L340.45 233.73 L340.76 234.59 L341.08 235.45 L341.40 236.31 L341.71 237.17 L342.03 238.02 L342.35 238.88 L342.68 239.74 L343.00 240.60 L343.33 241.45 L343.65 242.31 L343.98 243.17 L344.31 244.02 L344.64 244.88 L344.97 245.73 L345.30 246.58 L345.64 247.44 L345.97 248.29 L346.31 249.14 L346.65 249.98 L347.00 250.83 L347.34 251.67 L347.69 252.51 L348.03 253.36 L348.38 254.20 L348.73 255.04 L349.09 255.88 L349.44 256.72 L349.80 257.56 L350.15 258.40 L350.51 259.24 L350.87 260.07 L351.23 260.91 L351.60 261.75 L351.96 262.58 L352.33 263.42 L352.70 264.25 L353.07 265.08 L353.45 265.91 L353.82 266.75 L354.20 267.58 L354.58 268.41 L354.96 269.24 L355.34 270.06 L355.73 270.89 L356.12 271.72 L356.51 272.54 L356.90 273.37 L357.29 274.19 L357.69 275.01 L358.09 275.83 L358.49 276.65 L358.89 277.47 L359.29 278.29 L359.70 279.11 L360.11 279.92 L360.52 280.74 L360.94 281.55 L361.35 282.37 L361.77 283.18 L362.19 283.99 L362.62 284.80 L363.04 285.60 L363.47 286.41 L363.91 287.21 L364.34 288.02 L364.78 288.82 L365.22 289.62 L365.67 290.42 L366.12 291.21 L366.57 292.00 L367.03 292.80 L367.49 293.59 L367.95 294.37 L368.42 295.16 L368.90 295.94 L369.37 296.72 L369.85 297.49 L370.34 298.27 L370.83 299.04 L371.33 299.80 L371.83 300.57 L372.33 301.33 L372.84 302.08 L373.36 302.84 L373.88 303.59 L374.41 304.33 L374.94 305.07 L375.48 305.81 L376.02 306.54 L376.57 307.27 L377.12 307.99 L377.68 308.71 L378.24 309.42 L378.81 310.12 L379.38 310.83 L379.96 311.52 L380.54 312.22 L381.13 312.91 L381.72 313.60 L382.31 314.28 L382.91 314.96 L383.52 315.63 L384.13 316.30 L384.74 316.96 L385.36 317.63 L385.98 318.28 L386.61 318.94 L387.24 319.58 L387.87 320.23 L388.51 320.87 L389.15 321.51 L389.80 322.14 L390.45 322.77 L391.11 323.39 L391.77 324.01 L392.43 324.63 L393.10 325.24 L393.77 325.84 L394.45 326.45 L395.13 327.04 L395.81 327.64 L396.50 328.23 L397.19 328.81 L397.88 329.40 L398.58 329.97 L399.28 330.55 L399.99 331.11 L400.70 331.68 L401.42 332.24 L402.13 332.79 L402.85 333.34 L403.58 333.89 L404.31 334.43 L405.04 334.97 L405.78 335.50 L406.51 336.03 L407.26 336.56 L408.00 337.08 L408.75 337.59 L409.51 338.10 L410.26 338.61 L411.02 339.11 L411.79 339.61 L412.55 340.10 L413.32 340.59 L414.10 341.07 L414.87 341.55 L415.65 342.02 L416.44 342.49 L417.22 342.95 L418.01 343.41 L418.81 343.86 L419.60 344.31 L420.40 344.76 L421.20 345.20 L422.01 345.63 L422.81 346.06 L423.62 346.48 L424.43 346.90 L425.25 347.32 L426.07 347.73 L426.89 348.13 L427.71 348.53 L428.54 348.93 L429.37 349.32 L430.20 349.70 L431.03 350.08 L431.87 350.45 L432.71 350.82 L433.55 351.18 L434.39 351.54 L435.24 351.90 L436.08 352.24 L436.93 352.58 L437.79 352.92 L438.64 353.25 L439.50 353.58 L440.36 353.90 L441.22 354.22 L442.09 354.52 L442.95 354.83 L443.82 355.13 L444.69 355.42 L445.56 355.71 L446.44 355.99 L447.31 356.26 L448.19 356.53 L449.07 356.79 L449.95 357.05 L450.84 357.30 L451.72 357.55 L452.61 357.79 L453.50 358.03 L454.38 358.26 L455.28 358.48 L456.17 358.70 L457.06 358.92 L457.96 359.13 L458.85 359.33 L459.75 359.53 L460.65 359.72 L461.55 359.91 L462.45 360.10 L463.35 360.28 L464.25 360.45 L465.16 360.63 L466.06 360.79 L466.96 360.95 L467.87 361.11 L468.78 361.27 L469.68 361.41 L470.59 361.56 L471.50 361.70 L472.41 361.84 L473.32 361.97 L474.23 362.10 L475.14 362.23 L476.05 362.35 L476.97 362.47 L477.88 362.59 L478.79 362.70 L479.71 362.81 L480.62 362.92 L481.53 363.02 L482.45 363.13 L483.36 363.23 L484.28 363.32 L485.19 363.42 L486.11 363.51 L487.02 363.60 L487.94 363.69 L488.86 363.77 L489.77 363.85 L490.69 363.94 L491.61 364.02 L492.53 364.09 L493.44 364.17 L494.36 364.25 L495.28 364.32 L496.20 364.39 L497.11 364.47 L498.03 364.54 L498.95 364.61 L499.87 364.68 L500.79 364.74 L501.70 364.81 L502.62 364.88 L503.54 364.95 L504.46 365.01 L505.38 365.08 L506.30 365.15 L507.22 365.21 L508.13 365.28 L509.05 365.34 L509.97 365.41 L510.89 365.48 L511.81 365.55 L512.73 365.61 L513.65 365.68 L514.57 365.75 L515.48 365.82 L516.40 365.90 L517.32 365.97 L518.24 366.04 L519.16 366.12 L520.08 366.19 L521.00 366.27 L521.91 366.35 L522.83 366.43 L523.75 366.52 L524.67 366.60 L525.58 366.69 L526.50 366.78 L527.42 366.87 L528.34 366.97 L529.25 367.06 L530.17 367.16" stroke="rgb(239, 92, 25)" />
<path d="M203.02 132.94 L203.10 132.51 L203.19 132.08 L203.28 131.65 L203.37 131.22 L203.45 130.79 L203.54 130.36 L203.63 129.93 L203.72 129.50 L203.81 129.07 L203.90 128.64 L203.99 128.20 L204.08 127.77 L204.17 127.34 L204.26 126.91 L204.35 126.48 L204.44 126.05 L204.53 125.62 L204.62 125.19 L204.71 124.76 L204.80 124.33 L204.89 123.90 L204.99 123.47 L205.08 123.04 L205.17 122.62 L205.27 122.19 L205.36 121.76 L205.45 121.33 L205.55 120.90 L205.64 120.47 L205.74 120.04 L205.83 119.61 L205.93 119.18 L206.03 118.75 L206.12 118.32 L206.22 117.89 L206.32 117.47 L206.41 117.04 L206.51 116.61 L206.61 116.18 L206.71 115.75 L206.81 115.32 L206.91 114.90 L207.01 114.47 L207.11 114.04 L207.21 113.61 L207.31 113.19 L207.41 112.76 L207.51 112.33 L207.61 111.90 L207.72 111.48 L207.82 111.05 L207.92 110.62 L208.03 110.19 L208.13 109.77 L208.23 109.34 L208.34 108.91 L208.44 108.49 L208.55 108.06 L208.66 107.64 L208.76 107.21 L208.87 106.78 L208.98 106.36 L209.09 105.93 L209.20 105.51 L209.30 105.08 L209.41 104.66 L209.52 104.23 L209.63 103.81 L209.74 103.38 L209.86 102.96 L209.97 102.53 L210.08 102.11 L210.19 101.68 L210.31 101.26 L210.42 100.84 L210.53 100.41 L210.65 99.99 L210.76 99.57 L210.88 99.14 L211.00 98.72 L211.11 98.30 L211.23 97.88 L211.35 97.45 L211.47 97.03 L211.58 96.61 L211.70 96.19 L211.82 95.77 L211.94 95.34 L212.06 94.92 L212.18 94.50 L212.31 94.08 L212.43 93.66 L212.55 93.24 L212.68 92.82 L212.80 92.40 L212.92 91.98 L213.05 91.56 L213.17 91.14 L213.30 90.72 L213.43 90.30 L213.55 89.88 L213.68 89.47 L213.81 89.05 L213.94 88.63 L214.06 88.21 L214.19 87.79 L214.32 87.38 L214.45 86.96 L214.58 86.54 L214.71 86.12 L214.84 85.71 L214.98 85.29 L215.11 84.87 L215.24 84.45 L215.37 84.04 L215.50 83.62 L215.64 83.20 L215.77 82.79 L215.90 82.37 L216.04 81.95 L216.17 81.54 L216.30 81.12 L216.44 80.70 L216.57 80.29 L216.71 79.87 L216.84 79.45 L216.98 79.04 L217.12 78.62 L217.25 78.20 L217.39 77.79 L217.53 77.37 L217.66 76.96 L217.80 76.54 L217.94 76.12 L218.08 75.71 L218.22 75.29 L218.36 74.87 L218.50 74.46 L218.64 74.04 L218.78 73.63 L218.92 73.21 L219.06 72.80 L219.20 72.38 L219.35 71.97 L219.49 71.55 L219.64 71.14 L219.78 70.72 L219.93 70.31 L220.07 69.89 L220.22 69.48 L220.37 69.07 L220.52 68.65 L220.67 68.24 L220.82 67.83 L220.97 67.42 L221.12 67.00 L221.28 66.59 L221.43 66.18 L221.59 65.77 L221.74 65.36 L221.90 64.95 L222.06 64.54 L222.22 64.13 L222.38 63.72 L222.54 63.31 L222.71 62.90 L222.87 62.50 L223.04 62.09 L223.21 61.68 L223.37 61.28 L223.54 60.87 L223.72 60.47 L223.89 60.06 L224.06 59.66 L224.24 59.26 L224.41 58.86 L224.59 58.45 L224.77 58.05 L224.95 57.65 L225.14 57.25 L225.32 56.85 L225.51 56.46 L225.69 56.06 L225.88 55.66 L226.07 55.26 L226.27 54.87 L226.46 54.48 L226.65 54.08 L226.85 53.69 L227.05 53.30 L227.25 52.91 L227.45 52.52 L227.66 52.13 L227.86 51.74 L228.07 51.35 L228.28 50.97 L228.49 50.58 L228.71 50.20 L228.92 49.81 L229.14 49.43 L229.36 49.05 L229.58 48.67 L229.80 48.29 L230.03 47.92 L230.25 47.54 L230.48 47.17 L230.71 46.79 L230.95 46.42 L231.18 46.05 L231.42 45.68 L231.66 45.31 L231.90 44.95 L232.15 44.59 L232.39 44.22 L232.64 43.86 L232.90 43.51 L233.15 43.15 L233.41 42.80 L233.68 42.45 L233.94 42.10 L234.21 41.75 L234.48 41.41 L234.76 41.07 L235.04 40.73 L235.33 40.40 L235.62 40.07 L235.91 39.75 L236.21 39.42 L236.51 39.11 L236.81 38.79 L237.12 38.48 L237.44 38.18 L237.76 37.88 L238.09 37.59 L238.42 37.30 L238.75 37.02 L239.09 36.74 L239.44 36.48 L239.79 36.22 L240.15 35.96 L240.51 35.72 L240.88 35.48 L241.26 35.25 L241.64 35.03 L242.02 34.82 L242.41 34.62 L242.81 34.44 L243.21 34.26 L243.62 34.09 L244.03 33.94 L244.44 33.80 L244.86 33.67 L245.29 33.56 L245.72 33.46 L246.15 33.38 L246.58 33.32 L247.02 33.27 L247.46 33.25 L247.90 33.24 L248.82 33.29 L249.73 33.42 L250.63 33.63 L251.51 33.92 L252.37 34.25 L253.21 34.64 L254.03 35.05 L254.83 35.50 L255.63 35.98 L256.41 36.47 L257.17 36.98 L257.93 37.51 L258.67 38.06 L259.40 38.63 L260.12 39.20 L260.82 39.80 L261.51 40.41 L262.19 41.03 L262.86 41.66 L263.52 42.30 L264.17 42.95 L264.81 43.61 L265.44 44.28 L266.06 44.96 L266.67 45.65 L267.27 46.35 L267.86 47.05 L268.45 47.76 L269.03 48.47 L269.60 49.19 L270.17 49.92 L270.73 50.65 L271.28 51.38 L271.83 52.12 L272.37 52.87 L272.91 53.62 L273.44 54.37 L273.97 55.12 L274.50 55.88 L275.01 56.64 L275.53 57.40 L276.04 58.17 L276.55 58.94 L277.05 59.71 L277.55 60.49 L278.04 61.27 L278.53 62.05 L279.02 62.83 L279.50 63.62 L279.98 64.41 L280.45 65.20 L280.92 65.99 L281.39 66.79 L281.86 67.58 L282.32 68.38 L282.78 69.19 L283.23 69.99 L283.68 70.79 L284.13 71.60 L284.57 72.41 L285.01 73.22 L285.45 74.03 L285.88 74.85 L286.32 75.67 L286.74 76.48 L287.17 77.30 L287.59 78.12 L288.01 78.95 L288.43 79.77 L288.84 80.60 L289.25 81.42 L289.66 82.25 L290.06 83.08 L290.46 83.91 L290.86 84.74 L291.26 85.58 L291.65 86.41 L292.04 87.25 L292.43 88.09 L292.82 88.92 L293.20 89.76 L293.59 90.60 L293.97 91.44 L294.34 92.29 L294.72 93.13 L295.09 93.97 L295.46 94.82 L295.83 95.67 L296.19 96.54 L296.54 97.42 L296.89 98.30 L297.23 99.19 L297.58 100.07 L297.93 100.95 L298.27 101.84 L298.61 102.73 L298.95 103.61 L299.29 104.50 L299.62 105.39 L299.96 106.27 L300.29 107.16 L300.62 108.05 L300.95 108.94 L301.28 109.83 L301.61 110.72 L301.94 111.61 L302.26 112.50 L302.59 113.39 L302.91 114.29 L303.23 115.18 L303.55 116.07 L303.87 116.97 L304.19 117.86 L304.50 118.76 L304.81 119.65 L305.13 120.55 L305.44 121.44 L305.74 122.34 L306.05 123.24 L306.36 124.13 L306.66 125.03 L306.97 125.93 L307.27 126.83 L307.57 127.73 L307.87 128.63 L308.16 129.53 L308.46 130.43 L308.75 131.33 L309.05 132.23 L309.34 133.13 L309.63 134.04 L309.92 134.94 L310.21 135.84 L310.50 136.74 L310.79 137.65 L311.07 138.55 L311.36 139.46 L311.64 140.36 L311.92 141.26 L312.20 142.17 L312.48 143.07 L312.76 143.98 L313.04 144.88 L313.32 145.79 L313.60 146.69 L313.88 147.60 L314.15 148.51 L314.43 149.41 L314.70 150.32 L314.98 151.22 L315.25 152.13 L315.53 153.04 L315.80 153.94 L316.07 154.85 L316.34 155.76 L316.62 156.66 L316.89 157.57 L317.16 158.48 L317.43 159.38 L317.70 160.29 L317.97 161.20 L318.24 162.10 L318.51 163.01 L318.78 163.92 L319.04 164.82 L319.31 165.73 L319.58 166.64 L319.85 167.54 L320.12 168.45 L320.38 169.36 L320.65 170.26 L320.92 171.17 L321.19 172.08 L321.45 172.98 L321.72 173.89 L321.99 174.79 L322.25 175.70 L322.52 176.61 L322.78 177.51 L323.05 178.42 L323.32 179.32 L323.58 180.23 L323.85 181.14 L324.11 182.04 L324.38 182.95 L324.65 183.85 L324.91 184.76 L325.18 185.66 L325.44 186.57 L325.71 187.47 L325.98 188.38 L326.24 189.28 L326.51 190.19 L326.78 191.09 L327.04 192.00 L327.31 192.90 L327.58 193.80 L327.85 194.71 L328.11 195.61 L328.38 196.51 L328.65 197.42 L328.92 198.32 L329.20 199.21 L329.48 200.08 L329.76 200.95 L330.04 201.83 L330.32 202.70 L330.61 203.57 L330.89 204.45 L331.17 205.32 L331.46 206.19 L331.74 207.06 L332.03 207.93 L332.31 208.81 L332.60 209.68 L332.89 210.55 L333.18 211.42 L333.46 212.29 L333.75 213.16 L334.04 214.03 L334.33 214.90 L334.63 215.77 L334.92 216.64 L335.21 217.51 L335.51 218.38 L335.80 219.25 L336.10 220.12 L336.39 220.99 L336.69 221.85 L336.99 222.72 L337.29 223.59 L337.59 224.46 L337.89 225.32 L338.19 226.19 L338.50 227.05 L338.80 227.92 L339.10 228.78 L339.41 229.65 L339.72 230.51 L340.03 231.38 L340.34 232.24 L340.65 233.10 L340.96 233.96 L341.28 234.83 L341.59 235.69 L341.91 236.55 L342.22 237.41 L342.54 238.27 L342.86 239.13 L343.18 239.99 L343.51 240.85 L343.83 241.70 L344.16 242.56 L344.48 243.42 L344.81 244.28 L345.14 245.13 L345.47 245.99 L345.81 246.84 L346.14 247.70 L346.48 248.55 L346.82 249.39 L347.16 250.24 L347.50 251.08 L347.85 251.93 L348.19 252.77 L348.54 253.62 L348.89 254.46 L349.24 255.30 L349.59 256.14 L349.94 256.98 L350.30 257.83 L350.66 258.66 L351.02 259.50 L351.38 260.34 L351.74 261.18 L352.11 262.02 L352.47 262.85 L352.84 263.69 L353.21 264.52 L353.58 265.36 L353.96 266.19 L354.33 267.02 L354.71 267.85 L355.09 268.68 L355.47 269.51 L355.86 270.34 L356.24 271.17 L356.63 271.99 L357.02 272.82 L357.41 273.65 L357.81 274.47 L358.21 275.29 L358.61 276.11 L359.01 276.93 L359.41 277.75 L359.82 278.57 L360.23 279.39 L360.64 280.21 L361.05 281.02 L361.47 281.84 L361.88 282.65 L362.31 283.46 L362.73 284.27 L363.16 285.08 L363.58 285.89 L364.02 286.69 L364.45 287.50 L364.89 288.30 L365.33 289.10 L365.78 289.90 L366.23 290.70 L366.68 291.49 L367.13 292.28 L367.59 293.07 L368.06 293.86 L368.53 294.65 L369.00 295.43 L369.47 296.21 L369.96 296.99 L370.44 297.76 L370.93 298.54 L371.42 299.31 L371.92 300.07 L372.43 300.83 L372.94 301.59 L373.45 302.35 L373.97 303.10 L374.50 303.85 L375.02 304.59 L375.56 305.33 L376.10 306.07 L376.64 306.80 L377.19 307.52 L377.75 308.24 L378.31 308.95 L378.87 309.66 L379.44 310.37 L380.02 311.07 L380.60 311.77 L381.18 312.47 L381.77 313.16 L382.36 313.84 L382.96 314.53 L383.56 315.20 L384.17 315.88 L384.78 316.55 L385.39 317.21 L386.01 317.88 L386.63 318.53 L387.26 319.19 L387.89 319.84 L388.53 320.48 L389.17 321.12 L389.81 321.76 L390.46 322.40 L391.11 323.02 L391.77 323.65 L392.43 324.27 L393.09 324.89 L393.76 325.50 L394.43 326.11 L395.11 326.71 L395.79 327.31 L396.47 327.91 L397.16 328.50 L397.86 329.08 L398.55 329.67 L399.25 330.25 L399.95 330.82 L400.66 331.39 L401.37 331.95 L402.09 332.52 L402.81 333.07 L403.53 333.62 L404.26 334.17 L404.99 334.71 L405.72 335.25 L406.46 335.79 L407.20 336.32 L407.94 336.84 L408.69 337.36 L409.44 337.88 L410.20 338.39 L410.95 338.90 L411.72 339.40 L412.48 339.89 L413.25 340.39 L414.02 340.87 L414.80 341.35 L415.58 341.83 L416.36 342.30 L417.14 342.77 L417.93 343.23 L418.72 343.69 L419.52 344.15 L420.31 344.59 L421.12 345.04 L421.92 345.47 L422.72 345.91 L423.53 346.34 L424.35 346.76 L425.16 347.18 L425.98 347.59 L426.80 348.00 L427.62 348.40 L428.45 348.80 L429.28 349.19 L430.11 349.58 L430.94 349.96 L431.78 350.34 L432.61 350.71 L433.45 351.07 L434.30 351.43 L435.14 351.79 L435.99 352.14 L436.84 352.49 L437.70 352.82 L438.55 353.16 L439.41 353.49 L440.27 353.81 L441.13 354.13 L442.00 354.44 L442.86 354.74 L443.73 355.04 L444.60 355.34 L445.47 355.63 L446.35 355.91 L447.23 356.19 L448.10 356.46 L448.99 356.72 L449.87 356.98 L450.75 357.23 L451.64 357.48 L452.52 357.73 L453.41 357.96 L454.30 358.19 L455.19 358.42 L456.09 358.64 L456.98 358.86 L457.88 359.07 L458.78 359.27 L459.67 359.47 L460.57 359.67 L461.47 359.86 L462.37 360.04 L463.28 360.22 L464.18 360.40 L465.08 360.57 L465.99 360.74 L466.90 360.90 L467.80 361.06 L468.71 361.21 L469.62 361.36 L470.53 361.51 L471.44 361.65 L472.35 361.79 L473.26 361.92 L474.17 362.05 L475.08 362.18 L475.99 362.30 L476.91 362.42 L477.82 362.54 L478.74 362.65 L479.65 362.76 L480.56 362.87 L481.48 362.97 L482.40 363.08 L483.31 363.18 L484.23 363.27 L485.14 363.37 L486.06 363.46 L486.98 363.55 L487.89 363.64 L488.81 363.72 L489.73 363.81 L490.65 363.89 L491.57 363.97 L492.48 364.05 L493.40 364.13 L494.32 364.20 L495.24 364.28 L496.16 364.35 L497.08 364.42 L498.00 364.49 L498.92 364.56 L499.83 364.63 L500.75 364.70 L501.67 364.77 L502.59 364.84 L503.51 364.91 L504.43 364.97 L505.35 365.04 L506.27 365.11 L507.19 365.17 L508.11 365.24 L509.03 365.31 L509.95 365.38 L510.87 365.44 L511.79 365.51 L512.71 365.58 L513.63 365.65 L514.55 365.72 L515.47 365.79 L516.39 365.87 L517.31 365.94 L518.23 366.02 L519.15 366.09 L520.07 366.17 L520.99 366.25 L521.90 366.33 L522.82 366.41 L523.74 366.50 L524.66 366.58 L525.58 366.67 L526.50 366.76 L527.42 366.86 L528.33 366.95 L529.25 367.05 L530.17 367.15" stroke="rgb(238, 80, 8)" />
<path d="M244.58 28.35 L245.37 28.06 L246.17 27.82 L246.98 27.63 L247.81 27.50 L248.64 27.43 L249.48 27.44 L250.31 27.51 L251.14 27.67 L251.94 27.89 L252.74 28.16 L253.51 28.48 L254.27 28.83 L255.01 29.22 L255.74 29.62 L256.46 30.05 L257.18 30.49 L257.88 30.94 L258.58 31.40 L259.27 31.88 L259.95 32.37 L260.62 32.86 L261.29 33.37 L261.94 33.89 L262.59 34.42 L263.23 34.96 L263.86 35.51 L264.49 36.07 L265.10 36.64 L265.71 37.21 L266.32 37.79 L266.91 38.38 L267.50 38.98 L268.08 39.58 L268.65 40.19 L269.21 40.81 L269.77 41.43 L270.33 42.06 L270.87 42.70 L271.42 43.33 L271.95 43.98 L272.48 44.63 L273.00 45.28 L273.52 45.94 L274.04 46.60 L274.55 47.26 L275.05 47.93 L275.56 48.60 L276.05 49.27 L276.55 49.95 L277.04 50.63 L277.52 51.31 L278.00 51.99 L278.48 52.68 L278.95 53.37 L279.42 54.07 L279.89 54.76 L280.35 55.46 L280.81 56.16 L281.26 56.87 L281.71 57.57 L282.16 58.28 L282.60 58.99 L283.04 59.70 L283.47 60.42 L283.90 61.14 L284.33 61.86 L284.76 62.58 L285.18 63.30 L285.59 64.03 L286.01 64.76 L286.42 65.49 L286.82 66.22 L287.23 66.95 L287.63 67.69 L288.03 68.42 L288.42 69.16 L288.81 69.90 L289.20 70.64 L289.58 71.39 L289.97 72.13 L290.35 72.88 L290.72 73.63 L291.09 74.38 L291.46 75.13 L291.83 75.88 L292.20 76.63 L292.56 77.39 L292.92 78.14 L293.28 78.90 L293.63 79.66 L293.98 80.42 L294.33 81.18 L294.68 81.94 L295.03 82.70 L295.37 83.47 L295.71 84.23 L296.05 85.00 L296.38 85.76 L296.72 86.53 L297.05 87.30 L297.38 88.07 L297.71 88.84 L298.04 89.61 L298.36 90.38 L298.69 91.15 L299.01 91.93 L299.33 92.70 L299.65 93.48 L299.96 94.25 L300.28 95.03 L300.59 95.80 L300.91 96.58 L301.22 97.36 L301.53 98.13 L301.84 98.91 L302.14 99.69 L302.45 100.47 L302.76 101.25 L303.06 102.03 L303.36 102.81 L303.67 103.59 L303.97 104.37 L304.27 105.15 L304.57 105.93 L304.86 106.72 L305.16 107.50 L305.46 108.28 L305.75 109.07 L306.05 109.85 L306.34 110.63 L306.63 111.42 L306.92 112.20 L307.22 112.99 L307.50 113.77 L307.79 114.56 L308.08 115.35 L308.37 116.13 L308.65 116.92 L308.94 117.71 L309.22 118.49 L309.51 119.28 L309.79 120.07 L310.07 120.86 L310.35 121.65 L310.63 122.44 L310.91 123.23 L311.19 124.02 L311.46 124.81 L311.74 125.60 L312.01 126.39 L312.29 127.18 L312.56 127.97 L312.84 128.76 L313.11 129.55 L313.38 130.34 L313.65 131.14 L313.92 131.93 L314.19 132.72 L314.46 133.52 L314.73 134.31 L314.99 135.10 L315.26 135.90 L315.53 136.69 L315.79 137.48 L316.05 138.28 L316.32 139.07 L316.58 139.87 L316.84 140.66 L317.10 141.46 L317.37 142.25 L317.63 143.05 L317.88 143.85 L318.14 144.64 L318.40 145.44 L318.66 146.23 L318.92 147.03 L319.17 147.83 L319.43 148.63 L319.68 149.42 L319.94 150.22 L320.19 151.02 L320.45 151.82 L320.70 152.61 L320.95 153.41 L321.20 154.21 L321.46 155.01 L321.71 155.81 L321.96 156.61 L322.21 157.41 L322.46 158.21 L322.71 159.00 L322.95 159.80 L323.20 160.60 L323.45 161.40 L323.70 162.20 L323.94 163.00 L324.19 163.80 L324.43 164.60 L324.68 165.40 L324.93 166.21 L325.17 167.01 L325.41 167.81 L325.66 168.61 L325.90 169.41 L326.14 170.21 L326.39 171.01 L326.63 171.81 L326.87 172.61 L327.11 173.42 L327.35 174.22 L327.60 175.02 L327.84 175.82 L328.08 176.62 L328.32 177.43 L328.56 178.23 L328.80 179.03 L329.04 179.83 L329.27 180.63 L329.51 181.44 L329.75 182.24 L329.99 183.04 L330.23 183.84 L330.47 184.65 L330.70 185.45 L330.94 186.25 L331.18 187.06 L331.42 187.86 L331.65 188.66 L331.89 189.46 L332.13 190.27 L332.37 191.07 L332.61 191.87 L332.84 192.67 L333.08 193.48 L333.32 194.28 L333.56 195.08 L333.80 195.89 L334.03 196.69 L334.27 197.49 L334.51 198.29 L334.75 199.10 L334.99 199.90 L335.23 200.70 L335.47 201.50 L335.71 202.30 L335.95 203.11 L336.19 203.91 L336.43 204.71 L336.68 205.51 L336.92 206.31 L337.16 207.11 L337.40 207.91 L337.65 208.72 L337.89 209.52" stroke="#fff" stroke-width="5.1" stroke-linecap="butt" />
<path d="M72.16 375.01 L73.00 375.01 L73.83 375.01 L74.67 375.02 L75.51 375.02 L76.34 375.02 L77.18 375.01 L78.02 375.01 L78.86 375.01 L79.69 375.01 L80.53 375.00 L81.37 375.00 L82.20 374.99 L83.04 374.99 L83.88 374.98 L84.72 374.97 L85.55 374.97 L86.39 374.96 L87.23 374.95 L88.07 374.94 L88.90 374.93 L89.74 374.92 L90.58 374.91 L91.41 374.90 L92.25 374.89 L93.09 374.87 L93.93 374.86 L94.76 374.85 L95.60 374.84 L96.44 374.82 L97.27 374.81 L98.11 374.80 L98.95 374.78 L99.79 374.77 L100.62 374.76 L101.46 374.74 L102.30 374.73 L103.13 374.71 L103.97 374.70 L104.81 374.68 L105.64 374.67 L106.48 374.66 L107.32 374.64 L108.16 374.63 L108.99 374.61 L109.83 374.60 L110.67 374.59 L111.50 374.57 L112.34 374.56 L113.18 374.54 L114.02 374.53 L114.85 374.51 L115.69 374.49 L116.53 374.47 L117.36 374.44 L118.20 374.41 L119.04 374.38 L119.87 374.35 L120.71 374.31 L121.55 374.27 L122.38 374.22 L123.22 374.17 L124.05 374.11 L124.89 374.05 L125.72 373.98 L126.56 373.90 L127.39 373.82 L128.22 373.73 L129.05 373.63 L129.88 373.53 L130.71 373.42 L131.54 373.30 L132.37 373.16 L133.19 373.02 L134.02 372.87 L134.84 372.70 L135.65 372.51 L136.46 372.30 L137.27 372.08 L138.07 371.83 L138.86 371.55 L139.64 371.26 L140.41 370.93 L141.17 370.57 L141.91 370.19 L142.64 369.77 L143.34 369.32 L144.03 368.84 L144.69 368.32 L145.32 367.78 L145.93 367.20 L146.51 366.60 L147.07 365.97 L147.61 365.33 L148.12 364.67 L148.62 364.00 L149.10 363.31 L149.56 362.61 L150.01 361.91 L150.45 361.20 L150.88 360.48 L151.30 359.75 L151.71 359.02 L152.11 358.28 L152.50 357.55 L152.89 356.81 L153.28 356.06 L153.66 355.32 L154.04 354.57 L154.41 353.82 L154.78 353.07 L155.14 352.31 L155.50 351.56 L155.85 350.80 L156.20 350.04 L156.54 349.27 L156.88 348.51 L157.21 347.74 L157.54 346.97 L157.87 346.20 L158.19 345.42 L158.50 344.65 L158.81 343.87 L159.12 343.09 L159.42 342.31 L159.72 341.53 L160.02 340.75 L160.31 339.96 L160.60 339.18 L160.89 338.39 L161.17 337.60 L161.45 336.81 L161.72 336.02 L162.00 335.23 L162.27 334.44 L162.53 333.64 L162.80 332.85 L163.06 332.05 L163.31 331.26 L163.57 330.46 L163.82 329.66 L164.07 328.86 L164.31 328.06 L164.55 327.26 L164.79 326.46 L165.03 325.65 L165.27 324.85 L165.50 324.04 L165.73 323.24 L165.96 322.43 L166.18 321.63 L166.40 320.82 L166.62 320.01 L166.84 319.20 L167.06 318.40 L167.27 317.59 L167.48 316.78 L167.69 315.96 L167.90 315.15 L168.10 314.34 L168.31 313.53 L168.51 312.72 L168.71 311.90 L168.90 311.09 L169.10 310.28 L169.29 309.46 L169.49 308.65 L169.68 307.83 L169.87 307.02 L170.06 306.20 L170.24 305.38 L170.43 304.57 L170.61 303.75 L170.79 302.93 L170.98 302.12 L171.16 301.30 L171.34 300.48 L171.51 299.66 L171.69 298.85 L171.87 298.03 L172.04 297.21 L172.21 296.39 L172.39 295.57 L172.56 294.75 L172.73 293.93 L172.90 293.11 L173.07 292.29 L173.24 291.47 L173.41 290.65 L173.58 289.83 L173.75 289.01 L173.91 288.19 L174.08 287.37 L174.25 286.55 L174.41 285.73 L174.58 284.91 L174.74 284.09 L174.91 283.27 L175.07 282.45 L175.24 281.63 L175.40 280.80 L175.57 279.98 L175.73 279.16 L175.89 278.34 L176.05 277.52 L176.22 276.70 L176.38 275.88 L176.54 275.06 L176.70 274.23 L176.86 273.41 L177.02 272.59 L177.19 271.77 L177.35 270.95 L177.51 270.13 L177.67 269.30 L177.83 268.48 L177.98 267.66 L178.14 266.84 L178.30 266.02 L178.46 265.19 L178.62 264.37 L178.78 263.55 L178.93 262.73 L179.09 261.91 L179.25 261.08 L179.41 260.26 L179.56 259.44 L179.72 258.62 L179.88 257.79 L180.03 256.97 L180.19 256.15 L180.34 255.33 L180.50 254.50 L180.66 253.68 L180.81 252.86 L180.97 252.03 L181.12 251.21 L181.27 250.39 L181.43 249.57 L181.58 248.74 L181.74 247.92 L181.89 247.10 L182.04 246.27 L182.20 245.45 L182.35 244.63 L182.50 243.81 L182.66 242.98 L182.81 242.16 L182.96 241.34 L183.12 240.51 L183.27 239.69 L183.42 238.87 L183.57 238.04 L183.72 237.22 L183.88 236.40 L184.03 235.57 L184.18 234.75 L184.33 233.93 L184.48 233.10 L184.63 232.28 L184.79 231.46 L184.94 230.63 L185.09 229.81 L185.24 228.99 L185.39 228.16 L185.54 227.34 L185.69 226.51 L185.84 225.69 L185.99 224.87 L186.14 224.04 L186.29 223.22 L186.44 222.40 L186.59 221.57 L186.74 220.75 L186.89 219.93 L187.04 219.10 L187.19 218.28 L187.34 217.46 L187.49 216.63 L187.64 215.81 L187.79 214.98 L187.94 214.16 L188.09 213.34 L188.24 212.51 L188.39 211.69 L188.54 210.87 L188.69 210.04 L188.84 209.22 L188.99 208.39 L189.14 207.57 L189.29 206.75 L189.44 205.92 L189.59 205.10 L189.74 204.28 L189.89 203.45 L190.04 202.63 L190.19 201.81 L190.34 200.98 L190.49 200.16 L190.64 199.33 L190.79 198.51 L190.95 197.69 L191.10 196.86 L191.25 196.04 L191.40 195.22 L191.55 194.39 L191.70 193.57 L191.85 192.75 L192.00 191.92 L192.15 191.10 L192.30 190.27 L192.45 189.45 L192.60 188.63 L192.75 187.80 L192.91 186.98 L193.06 186.16 L193.21 185.33 L193.36 184.51 L193.51 183.69 L193.66 182.86 L193.82 182.04 L193.97 181.22 L194.12 180.39 L194.27 179.57 L194.43 178.75 L194.58 177.92 L194.73 177.10 L194.88 176.28 L195.04 175.46 L195.19 174.63 L195.34 173.81 L195.50 172.99 L195.65 172.16 L195.81 171.34 L195.96 170.52 L196.11 169.69 L196.27 168.87 L196.42 168.05 L196.58 167.23 L196.73 166.40 L196.89 165.58 L197.04 164.76 L197.20 163.94 L197.36 163.11 L197.51 162.29 L197.67 161.47 L197.83 160.65 L197.98 159.82 L198.14 159.00 L198.30 158.18 L198.45 157.36 L198.61 156.53 L198.77 155.71 L198.93 154.89 L199.09 154.07 L199.25 153.25 L199.41 152.42 L199.56 151.60 L199.72 150.78 L199.88 149.96 L200.04 149.14 L200.20 148.31 L200.37 147.49 L200.53 146.67 L200.69 145.85 L200.85 145.03 L201.01 144.21 L201.17 143.39 L201.34 142.56 L201.50 141.74 L201.66 140.92 L201.83 140.10 L201.99 139.28 L202.16 138.46 L202.32 137.64 L202.49 136.82 L202.66 136.00 L202.82 135.18 L202.99 134.36 L203.16 133.54 L203.33 132.72 L203.50 131.90 L203.67 131.08 L203.84 130.26 L204.01 129.44 L204.18 128.62 L204.35 127.80 L204.52 126.98 L204.70 126.16 L204.87 125.34 L205.04 124.52 L205.22 123.70 L205.40 122.89 L205.57 122.07 L205.75 121.25 L205.93 120.43 L206.11 119.61 L206.29 118.80 L206.47 117.98 L206.65 117.16 L206.83 116.34 L207.01 115.53 L207.20 114.71 L207.38 113.89 L207.57 113.08 L207.75 112.26 L207.94 111.44 L208.13 110.63 L208.31 109.81 L208.50 109.00 L208.70 108.18 L208.89 107.37 L209.08 106.55 L209.27 105.74 L209.47 104.92 L209.66 104.11 L209.86 103.29 L210.06 102.48 L210.25 101.67 L210.45 100.85 L210.65 100.04 L210.86 99.23 L211.06 98.42 L211.26 97.60 L211.47 96.79 L211.67 95.98 L211.88 95.17 L212.09 94.36 L212.30 93.55 L212.51 92.74 L212.72 91.93 L212.93 91.12 L213.15 90.31 L213.36 89.50 L213.58 88.69 L213.80 87.88 L214.01 87.07 L214.24 86.27 L214.46 85.46 L214.68 84.65 L214.90 83.85 L215.13 83.04 L215.36 82.23 L215.58 81.43 L215.81 80.62 L216.04 79.82 L216.28 79.01 L216.51 78.21 L216.74 77.41 L216.98 76.60 L217.22 75.80 L217.46 75.00 L217.70 74.20 L217.95 73.40 L218.20 72.60 L218.45 71.80 L218.70 71.00 L218.95 70.20 L219.21 69.41 L219.48 68.61 L219.74 67.82 L220.01 67.02 L220.28 66.23 L220.55 65.44 L220.83 64.65 L221.11 63.86 L221.40 63.08 L221.69 62.29 L221.98 61.51 L222.28 60.72 L222.58 59.94 L222.89 59.16 L223.20 58.39 L223.52 57.61 L223.84 56.84 L224.16 56.07 L224.49 55.30 L224.83 54.53 L225.17 53.76 L225.51 53.00 L225.86 52.24 L226.22 51.48 L226.58 50.73 L226.94 49.97 L227.31 49.22 L227.69 48.48 L228.07 47.73 L228.46 46.99 L228.85 46.25 L229.25 45.51 L229.66 44.78 L230.07 44.05 L230.49 43.33 L230.91 42.60 L231.34 41.88 L231.77 41.17 L232.21 40.46 L232.67 39.75 L233.13 39.05 L233.60 38.36 L234.08 37.67 L234.57 37.00 L235.07 36.33 L235.59 35.67 L236.12 35.02 L236.66 34.38 L237.22 33.76 L237.79 33.15 L238.39 32.56 L239.00 31.99 L239.63 31.44 L240.27 30.91 L240.94 30.40 L241.63 29.92 L242.34 29.48 L243.07 29.07 L243.82 28.69 L244.58 28.35 L245.37 28.06 L246.17 27.82 L246.98 27.63 L247.81 27.50 L248.64 27.43 L249.48 27.44 L250.31 27.51 L251.14 27.67 L251.94 27.89 L252.74 28.16 L253.51 28.48 L254.27 28.83 L255.01 29.22 L255.74 29.62 L256.46 30.05 L257.18 30.49 L257.88 30.94 L258.58 31.40 L259.27 31.88 L259.95 32.37 L260.62 32.86 L261.29 33.37 L261.94 33.89 L262.59 34.42 L263.23 34.96 L263.86 35.51 L264.49 36.07 L265.10 36.64 L265.71 37.21 L266.32 37.79 L266.91 38.38 L267.50 38.98 L268.08 39.58 L268.65 40.19 L269.21 40.81 L269.77 41.43 L270.33 42.06 L270.87 42.70 L271.42 43.33 L271.95 43.98 L272.48 44.63 L273.00 45.28 L273.52 45.94 L274.04 46.60 L274.55 47.26 L275.05 47.93 L275.56 48.60 L276.05 49.27 L276.55 49.95 L277.04 50.63 L277.52 51.31 L278.00 51.99 L278.48 52.68 L278.95 53.37 L279.42 54.07 L279.89 54.76 L280.35 55.46 L280.81 56.16 L281.26 56.87 L281.71 57.57 L282.16 58.28 L282.60 58.99 L283.04 59.70 L283.47 60.42 L283.90 61.14 L284.33 61.86 L284.76 62.58 L285.18 63.30 L285.59 64.03 L286.01 64.76 L286.42 65.49 L286.82 66.22 L287.23 66.95 L287.63 67.69 L288.03 68.42 L288.42 69.16 L288.81 69.90 L289.20 70.64 L289.58 71.39 L289.97 72.13 L290.35 72.88 L290.72 73.63 L291.09 74.38 L291.46 75.13 L291.83 75.88 L292.20 76.63 L292.56 77.39 L292.92 78.14 L293.28 78.90 L293.63 79.66 L293.98 80.42 L294.33 81.18 L294.68 81.94 L295.03 82.70 L295.37 83.47 L295.71 84.23 L296.05 85.00 L296.38 85.76 L296.72 86.53 L297.05 87.30 L297.38 88.07 L297.71 88.84 L298.04 89.61 L298.36 90.38 L298.69 91.15 L299.01 91.93 L299.33 92.70 L299.65 93.48 L299.96 94.25 L300.28 95.03 L300.59 95.80 L300.91 96.58 L301.22 97.36 L301.53 98.13 L301.84 98.91 L302.14 99.69 L302.45 100.47 L302.76 101.25 L303.06 102.03 L303.36 102.81 L303.67 103.59 L303.97 104.37 L304.27 105.15 L304.57 105.93 L304.86 106.72 L305.16 107.50 L305.46 108.28 L305.75 109.07 L306.05 109.85 L306.34 110.63 L306.63 111.42 L306.92 112.20 L307.22 112.99 L307.50 113.77 L307.79 114.56 L308.08 115.35 L308.37 116.13 L308.65 116.92 L308.94 117.71 L309.22 118.49 L309.51 119.28 L309.79 120.07 L310.07 120.86 L310.35 121.65 L310.63 122.44 L310.91 123.23 L311.19 124.02 L311.46 124.81 L311.74 125.60 L312.01 126.39 L312.29 127.18 L312.56 127.97 L312.84 128.76 L313.11 129.55 L313.38 130.34 L313.65 131.14 L313.92 131.93 L314.19 132.72 L314.46 133.52 L314.73 134.31 L314.99 135.10 L315.26 135.90 L315.53 136.69 L315.79 137.48 L316.05 138.28 L316.32 139.07 L316.58 139.87 L316.84 140.66 L317.10 141.46 L317.37 142.25 L317.63 143.05 L317.88 143.85 L318.14 144.64 L318.40 145.44 L318.66 146.23 L318.92 147.03 L319.17 147.83 L319.43 148.63 L319.68 149.42 L319.94 150.22 L320.19 151.02 L320.45 151.82 L320.70 152.61 L320.95 153.41 L321.20 154.21 L321.46 155.01 L321.71 155.81 L321.96 156.61 L322.21 157.41 L322.46 158.21 L322.71 159.00 L322.95 159.80 L323.20 160.60 L323.45 161.40 L323.70 162.20 L323.94 163.00 L324.19 163.80 L324.43 164.60 L324.68 165.40 L324.93 166.21 L325.17 167.01 L325.41 167.81 L325.66 168.61 L325.90 169.41 L326.14 170.21 L326.39 171.01 L326.63 171.81 L326.87 172.61 L327.11 173.42 L327.35 174.22 L327.60 175.02 L327.84 175.82 L328.08 176.62 L328.32 177.43 L328.56 178.23 L328.80 179.03 L329.04 179.83 L329.27 180.63 L329.51 181.44 L329.75 182.24 L329.99 183.04 L330.23 183.84 L330.47 184.65 L330.70 185.45 L330.94 186.25 L331.18 187.06 L331.42 187.86 L331.65 188.66 L331.89 189.46 L332.13 190.27 L332.37 191.07 L332.61 191.87 L332.84 192.67 L333.08 193.48 L333.32 194.28 L333.56 195.08 L333.80 195.89 L334.03 196.69 L334.27 197.49 L334.51 198.29 L334.75 199.10 L334.99 199.90 L335.23 200.70 L335.47 201.50 L335.71 202.30 L335.95 203.11 L336.19 203.91 L336.43 204.71 L336.68 205.51 L336.92 206.31 L337.16 207.11 L337.40 207.91 L337.65 208.72 L337.89 209.52 L338.14 210.32 L338.38 211.12 L338.63 211.92 L338.88 212.72 L339.12 213.52 L339.37 214.32 L339.62 215.12 L339.87 215.92 L340.12 216.71 L340.37 217.51 L340.62 218.31 L340.87 219.11 L341.13 219.91 L341.38 220.71 L341.64 221.50 L341.89 222.30 L342.15 223.10 L342.41 223.89 L342.67 224.69 L342.92 225.49 L343.19 226.28 L343.45 227.08 L343.71 227.87 L343.97 228.67 L344.24 229.46 L344.50 230.25 L344.77 231.05 L345.04 231.84 L345.31 232.63 L345.58 233.43 L345.85 234.22 L346.12 235.01 L346.40 235.80 L346.67 236.59 L346.95 237.38 L347.23 238.17 L347.51 238.96 L347.79 239.75 L348.07 240.54 L348.35 241.33 L348.63 242.11 L348.92 242.90 L349.21 243.69 L349.50 244.47 L349.79 245.26 L350.08 246.04 L350.37 246.83 L350.67 247.61 L350.96 248.39 L351.26 249.18 L351.56 249.96 L351.86 250.74 L352.16 251.52 L352.47 252.30 L352.77 253.08 L353.08 253.86 L353.39 254.64 L353.70 255.41 L354.01 256.19 L354.33 256.97 L354.65 257.74 L354.96 258.52 L355.28 259.29 L355.61 260.06 L355.93 260.83 L356.26 261.61 L356.58 262.38 L356.91 263.15 L357.24 263.91 L357.58 264.68 L357.91 265.45 L358.25 266.21 L358.59 266.98 L358.93 267.74 L359.28 268.51 L359.62 269.27 L359.97 270.03 L360.32 270.79 L360.67 271.55 L361.03 272.31 L361.39 273.07 L361.75 273.82 L362.11 274.58 L362.47 275.33 L362.84 276.08 L363.21 276.84 L363.58 277.59 L363.95 278.34 L364.33 279.08 L364.71 279.83 L365.09 280.58 L365.47 281.32 L365.86 282.06 L366.25 282.80 L366.64 283.54 L367.03 284.28 L367.43 285.02 L367.83 285.75 L368.23 286.49 L368.64 287.22 L369.04 287.95 L369.46 288.68 L369.87 289.41 L370.28 290.14 L370.70 290.86 L371.13 291.59 L371.55 292.31 L371.98 293.03 L372.41 293.74 L372.84 294.46 L373.28 295.18 L373.72 295.89 L374.16 296.60 L374.61 297.31 L375.06 298.01 L375.51 298.72 L375.96 299.42 L376.42 300.12 L376.88 300.82 L377.35 301.52 L377.82 302.21 L378.29 302.90 L378.76 303.59 L379.24 304.28 L379.72 304.97 L380.20 305.65 L380.69 306.33 L381.18 307.01 L381.68 307.68 L382.17 308.36 L382.67 309.03 L383.18 309.70 L383.69 310.36 L384.20 311.02 L384.71 311.68 L385.23 312.34 L385.75 313.00 L386.28 313.65 L386.81 314.30 L387.34 314.94 L387.88 315.59 L388.42 316.23 L388.96 316.86 L389.51 317.50 L390.06 318.13 L390.61 318.75 L391.17 319.38 L391.73 320.00 L392.30 320.62 L392.87 321.23 L393.44 321.84 L394.01 322.45 L394.59 323.05 L395.18 323.66 L395.76 324.25 L396.36 324.85 L396.95 325.43 L397.55 326.02 L398.15 326.60 L398.76 327.18 L399.36 327.75 L399.98 328.33 L400.59 328.89 L401.21 329.45 L401.84 330.01 L402.47 330.57 L403.10 331.12 L403.73 331.66 L404.37 332.20 L405.01 332.74 L405.66 333.27 L406.31 333.80 L406.96 334.33 L407.62 334.85 L408.28 335.36 L408.94 335.87 L409.61 336.38 L410.28 336.88 L410.95 337.38 L411.63 337.87 L412.31 338.36 L412.99 338.84 L413.68 339.32 L414.37 339.79 L415.07 340.26 L415.76 340.72 L416.46 341.18 L417.17 341.64 L417.87 342.09 L418.58 342.53 L419.29 342.97 L420.01 343.41 L420.72 343.84 L421.44 344.27 L422.17 344.69 L422.89 345.10 L423.62 345.52 L424.35 345.92 L425.09 346.33 L425.82 346.73 L426.56 347.12 L427.31 347.51 L428.05 347.89 L428.80 348.27 L429.55 348.64 L430.30 349.01 L431.05 349.38 L431.81 349.73 L432.57 350.09 L433.33 350.44 L434.09 350.78 L434.86 351.12 L435.62 351.46 L436.39 351.79 L437.16 352.11 L437.94 352.43 L438.71 352.74 L439.49 353.05 L440.27 353.36 L441.06 353.65 L441.84 353.95 L442.63 354.24 L443.41 354.52 L444.20 354.80 L445.00 355.07 L445.79 355.33 L446.58 355.60 L447.38 355.85 L448.18 356.10 L448.98 356.35 L449.78 356.59 L450.59 356.83 L451.39 357.06 L452.20 357.28 L453.00 357.50 L453.81 357.72 L454.62 357.93 L455.43 358.14 L456.25 358.34 L457.06 358.53 L457.88 358.73 L458.69 358.92 L459.51 359.10 L460.33 359.28 L461.14 359.45 L461.96 359.63 L462.78 359.79 L463.61 359.96 L464.43 360.12 L465.25 360.27 L466.07 360.42 L466.90 360.57 L467.72 360.71 L468.55 360.86 L469.37 360.99 L470.20 361.13 L471.03 361.26 L471.85 361.39 L472.68 361.51 L473.51 361.63 L474.34 361.75 L475.17 361.87 L476.00 361.98 L476.83 362.09 L477.66 362.20 L478.49 362.30 L479.32 362.40 L480.15 362.50 L480.98 362.60 L481.81 362.70 L482.65 362.79 L483.48 362.88 L484.31 362.97 L485.14 363.06 L485.98 363.14 L486.81 363.23 L487.64 363.31 L488.48 363.39 L489.31 363.47 L490.14 363.54 L490.98 363.62 L491.81 363.70 L492.65 363.77 L493.48 363.84 L494.31 363.91 L495.15 363.98 L495.98 364.05 L496.82 364.12 L497.65 364.19 L498.49 364.26 L499.32 364.32 L500.15 364.39 L500.99 364.45 L501.82 364.52 L502.66 364.58 L503.49 364.65 L504.33 364.71 L505.16 364.78 L506.00 364.84 L506.83 364.91 L507.67 364.97 L508.50 365.04 L509.34 365.10 L510.17 365.17 L511.01 365.24 L511.84 365.30 L512.67 365.37 L513.51 365.44 L514.34 365.51 L515.18 365.58 L516.01 365.65 L516.85 365.72 L517.68 365.80 L518.51 365.87 L519.35 365.95 L520.18 366.03 L521.01 366.10 L521.85 366.18 L522.68 366.27 L523.51 366.35 L524.35 366.44 L525.18 366.52 L526.01 366.61 L526.84 366.70 L527.68 366.80 L528.51 366.89 L529.34 366.99 L530.17 367.09" stroke="#c4420a" />
</g>

<g font-size="18" fill="#000">
<text transform="translate(59.1,381.09) scale(1.07,1)" text-anchor="end">300</text>
<text transform="translate(59.1,328.37) scale(1.07,1)" text-anchor="end">400</text>
<text transform="translate(59.1,275.64) scale(1.07,1)" text-anchor="end">500</text>
<text transform="translate(59.1,222.92) scale(1.07,1)" text-anchor="end">600</text>
<text transform="translate(59.1,170.20) scale(1.07,1)" text-anchor="end">700</text>
<text transform="translate(59.1,117.47) scale(1.07,1)" text-anchor="end">800</text>
<text transform="translate(59.1,64.75) scale(1.07,1)" text-anchor="end">900</text>
<text x="95.50" y="409.3" text-anchor="middle">10<tspan font-size="14" dx="0.4" dy="-8">-12</tspan></text>
<text x="182.44" y="409.3" text-anchor="middle">10<tspan font-size="14" dx="0.4" dy="-8">-11</tspan></text>
<text x="269.38" y="409.3" text-anchor="middle">10<tspan font-size="14" dx="0.4" dy="-8">-10</tspan></text>
<text x="356.32" y="409.3" text-anchor="middle">10<tspan font-size="14" dx="0.4" dy="-8">-9</tspan></text>
<text x="443.26" y="409.3" text-anchor="middle">10<tspan font-size="14" dx="0.4" dy="-8">-8</tspan></text>
<text x="530.20" y="409.3" text-anchor="middle">10<tspan font-size="14" dx="0.4" dy="-8">-7</tspan></text>
</g>
<text x="308.1" y="431.5" font-size="25" text-anchor="middle">Time (s)</text>
<text transform="translate(22.4,198.2) rotate(-90)" font-size="25.1" text-anchor="middle">Max Temperature (K)</text>
<text x="189.5" y="33.2" font-size="23">SBD</text>
<ellipse cx="255" cy="24.3" rx="7.75" ry="7.3" fill="none" stroke="#000" stroke-width="2.6"/>
<g font-size="18.7">
<text x="209" y="183.8">S=2 – 4μm</text>
<text x="209" y="205.6">Step=0.2μm</text>
</g>
<line x1="268.6" y1="159.4" x2="307" y2="82.4" stroke="#000" stroke-width="2.7"/>
<polygon points="313.1,70.1 300.1,81.7 311.7,86.7" fill="#000" stroke="#000" stroke-width="0.8" stroke-linejoin="round"/>
<!-- inset -->
<rect x="353.5" y="15.8" width="176.20000000000005" height="140.25" fill="#fff" stroke="#000" stroke-width="3"/>
<g stroke="#000" stroke-width="2.2">
<line x1="353.5" y1="140.32" x2="356.7" y2="140.32"/>
<line x1="353.5" y1="124.71" x2="358.1" y2="124.71"/>
<line x1="353.5" y1="109.10" x2="356.7" y2="109.10"/>
<line x1="353.5" y1="93.49" x2="358.1" y2="93.49"/>
<line x1="353.5" y1="77.88" x2="356.7" y2="77.88"/>
<line x1="353.5" y1="62.27" x2="358.1" y2="62.27"/>
<line x1="353.5" y1="46.66" x2="356.7" y2="46.66"/>
<line x1="353.5" y1="31.05" x2="358.1" y2="31.05"/>
<line x1="360.24" y1="156.05" x2="360.24" y2="153.05"/>
<line x1="367.60" y1="156.05" x2="367.60" y2="151.65"/>
<line x1="374.96" y1="156.05" x2="374.96" y2="153.05"/>
<line x1="382.32" y1="156.05" x2="382.32" y2="153.05"/>
<line x1="389.68" y1="156.05" x2="389.68" y2="153.05"/>
<line x1="397.04" y1="156.05" x2="397.04" y2="153.05"/>
<line x1="404.40" y1="156.05" x2="404.40" y2="151.65"/>
<line x1="411.76" y1="156.05" x2="411.76" y2="153.05"/>
<line x1="419.12" y1="156.05" x2="419.12" y2="153.05"/>
<line x1="426.48" y1="156.05" x2="426.48" y2="153.05"/>
<line x1="433.84" y1="156.05" x2="433.84" y2="153.05"/>
<line x1="441.20" y1="156.05" x2="441.20" y2="151.65"/>
<line x1="448.56" y1="156.05" x2="448.56" y2="153.05"/>
<line x1="455.92" y1="156.05" x2="455.92" y2="153.05"/>
<line x1="463.28" y1="156.05" x2="463.28" y2="153.05"/>
<line x1="470.64" y1="156.05" x2="470.64" y2="153.05"/>
<line x1="478.00" y1="156.05" x2="478.00" y2="151.65"/>
<line x1="485.36" y1="156.05" x2="485.36" y2="153.05"/>
<line x1="492.72" y1="156.05" x2="492.72" y2="153.05"/>
<line x1="500.08" y1="156.05" x2="500.08" y2="153.05"/>
<line x1="507.44" y1="156.05" x2="507.44" y2="153.05"/>
<line x1="514.80" y1="156.05" x2="514.80" y2="151.65"/>
<line x1="522.16" y1="156.05" x2="522.16" y2="153.05"/>
</g>
<g font-size="13.5">
<text transform="translate(347.8,160.13) scale(1,1.1)" text-anchor="end">880</text>
<text transform="translate(347.8,128.91) scale(1,1.1)" text-anchor="end">900</text>
<text transform="translate(347.8,97.69) scale(1,1.1)" text-anchor="end">920</text>
<text transform="translate(347.8,66.47) scale(1,1.1)" text-anchor="end">940</text>
<text transform="translate(347.8,35.25) scale(1,1.1)" text-anchor="end">960</text>
</g>
<g font-size="6.6" stroke="#000" stroke-width="0.3">
<text x="367.90" y="164.9" text-anchor="middle">2</text>
<text x="404.70" y="164.9" text-anchor="middle">3</text>
<text x="441.50" y="164.9" text-anchor="middle">4</text>
<text x="478.30" y="164.9" text-anchor="middle">5</text>
<text x="515.10" y="164.9" text-anchor="middle">6</text>
</g>
<text x="440.3" y="176.3" font-size="13" text-anchor="middle">S (μm)</text>
<g fill="#ff0000">
<rect x="365.65" y="142.00" width="4.7" height="4.7"/>
<rect x="373.01" y="121.15" width="4.7" height="4.7"/>
<rect x="380.37" y="103.25" width="4.7" height="4.7"/>
<rect x="387.73" y="88.15" width="4.7" height="4.7"/>
<rect x="395.09" y="76.15" width="4.7" height="4.7"/>
<rect x="402.45" y="68.35" width="4.7" height="4.7"/>
<rect x="409.81" y="62.45" width="4.7" height="4.7"/>
<rect x="417.17" y="56.75" width="4.7" height="4.7"/>
<rect x="424.53" y="51.45" width="4.7" height="4.7"/>
<rect x="431.89" y="48.05" width="4.7" height="4.7"/>
<rect x="439.25" y="45.15" width="4.7" height="4.7"/>
<rect x="512.85" y="28.05" width="4.7" height="4.7"/>
</g>
<text x="511.5" y="52.2" font-size="8.7" text-anchor="middle" stroke="#000" stroke-width="0.25">SBD</text>
</svg>
</body></html>
